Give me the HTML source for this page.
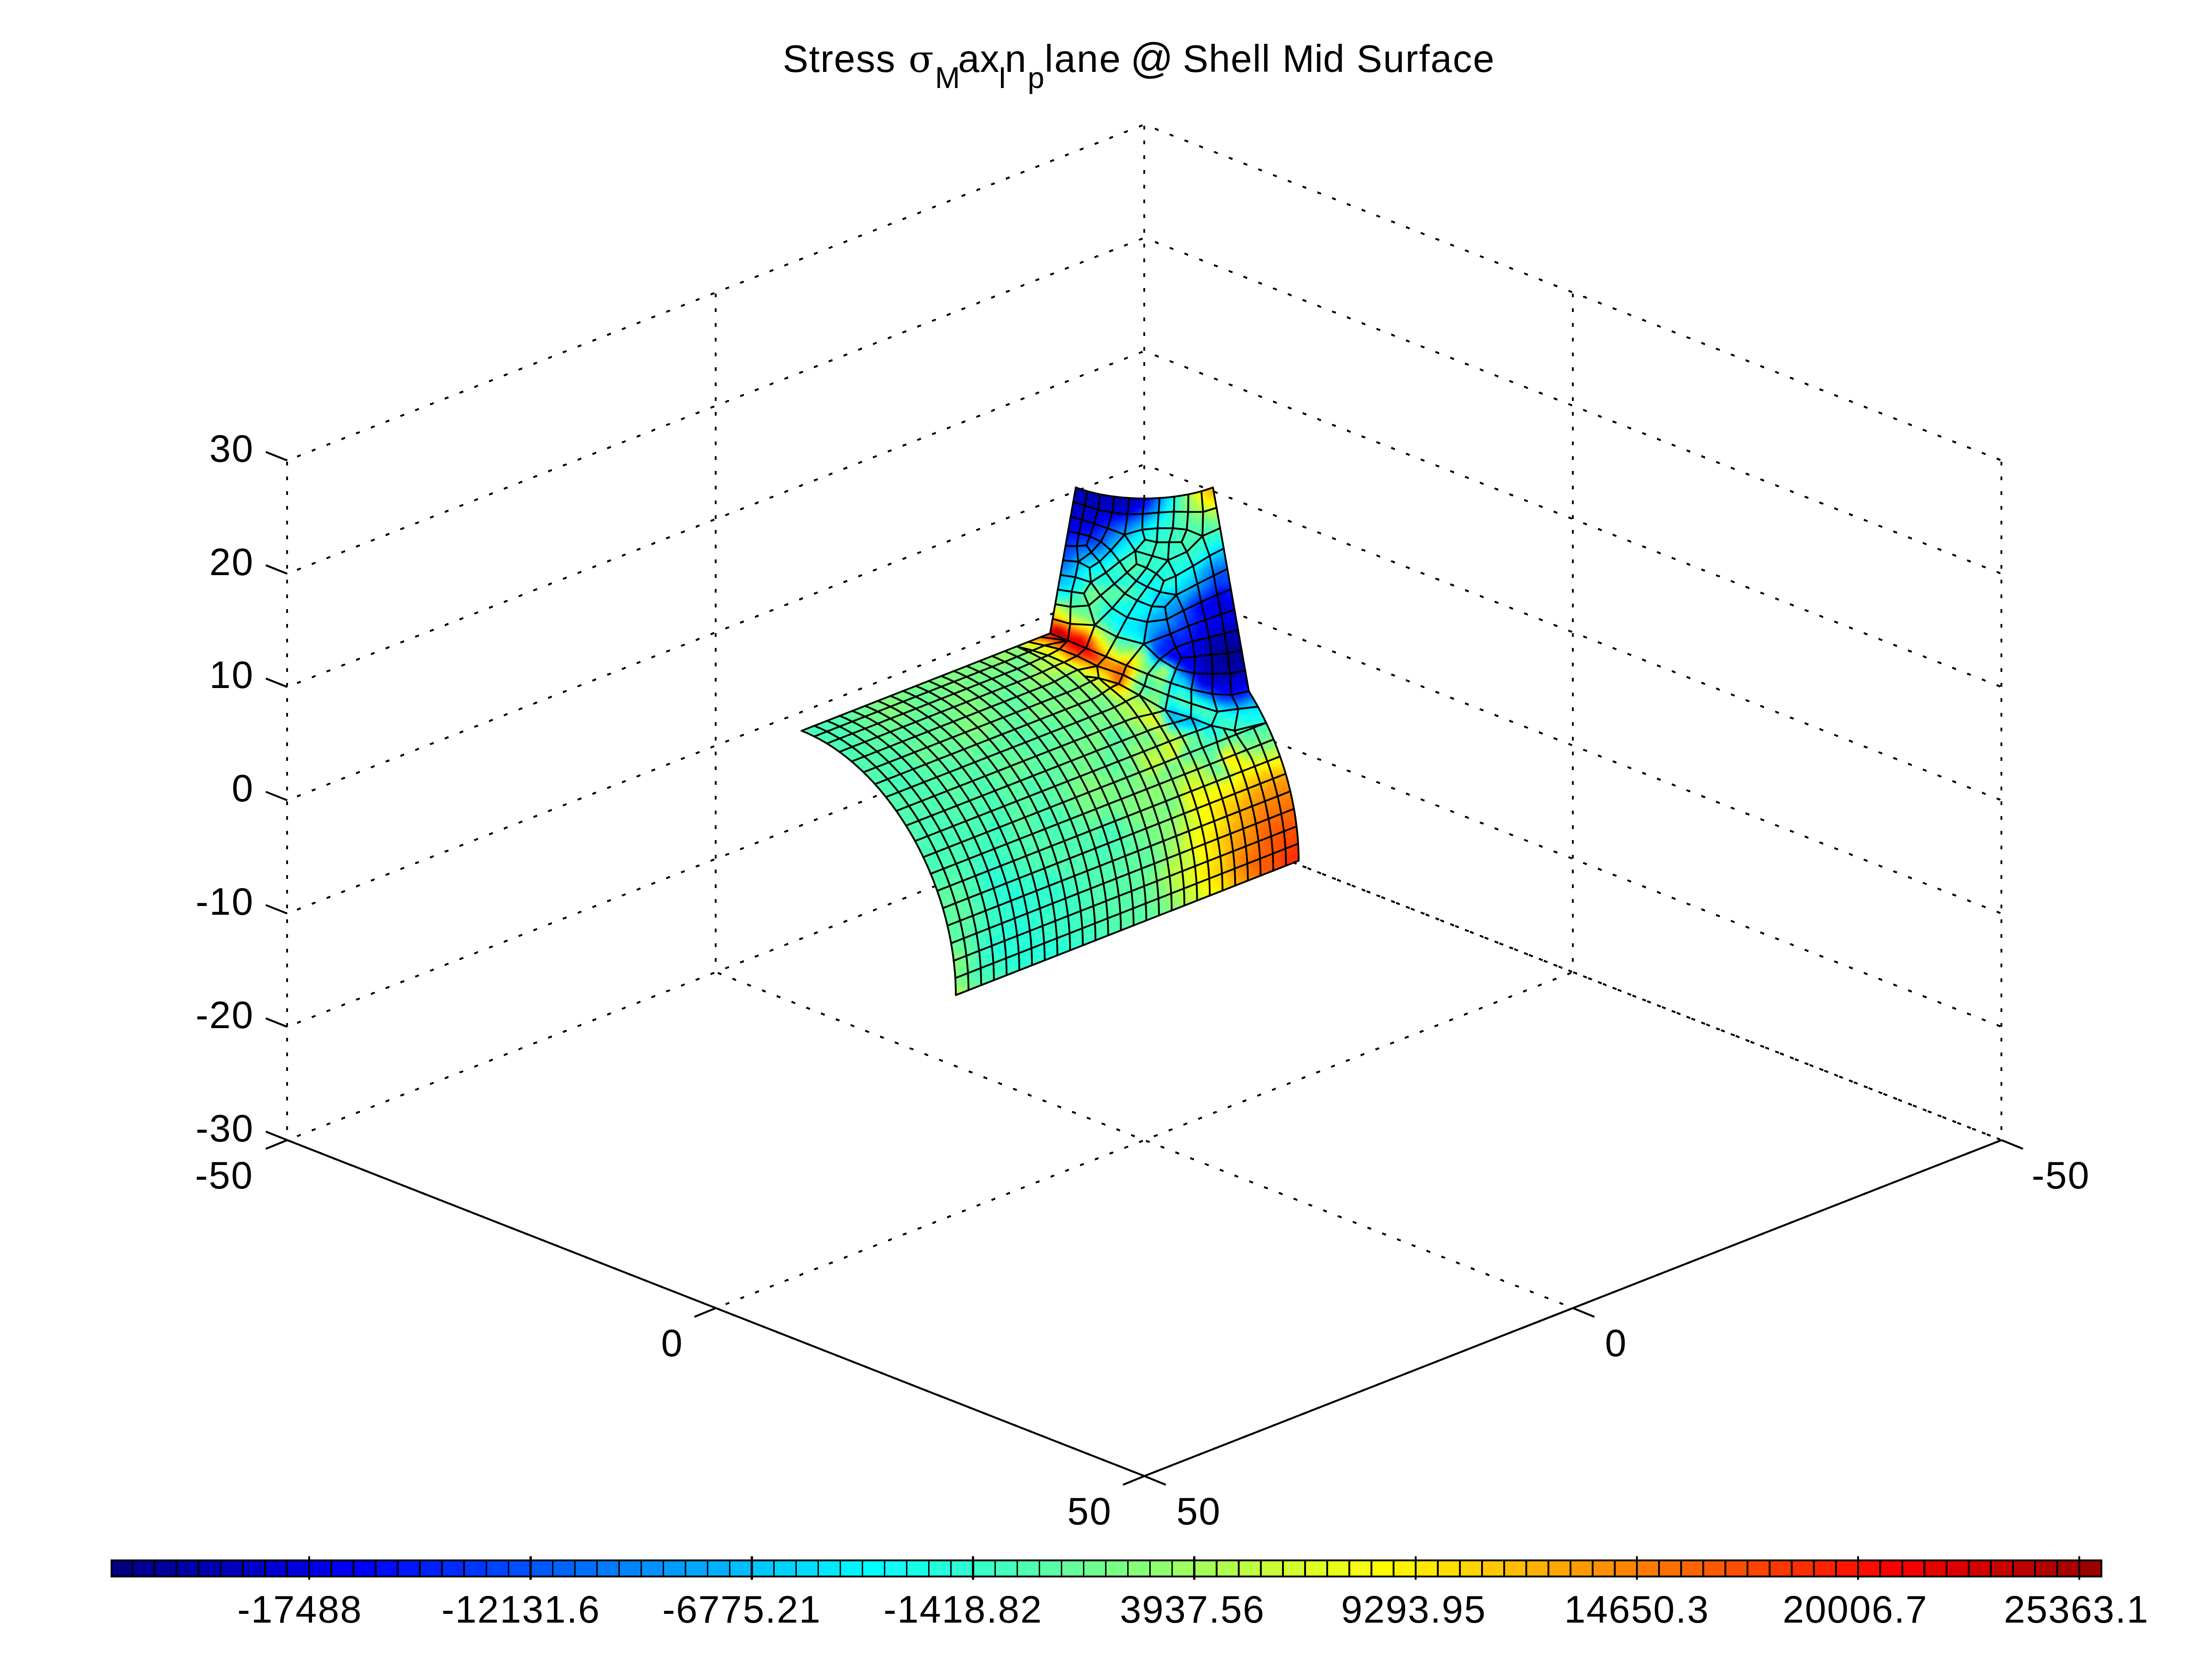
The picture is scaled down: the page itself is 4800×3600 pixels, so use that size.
<!DOCTYPE html><html><head><meta charset="utf-8"><title>Stress plot</title><style>html,body{margin:0;padding:0;background:#fff}svg{display:block}</style></head><body>
<svg width="4800" height="3600" viewBox="0 0 4800 3600">
<rect width="4800" height="3600" fill="#fff"/>
<g stroke="#000" stroke-width="4.2" fill="none" shape-rendering="crispEdges">
<line x1="2483.3" y1="1745.0" x2="623.3" y2="2474.0" stroke-dasharray="8.59 25.83" stroke-dashoffset="-4.30"/>
<line x1="4343.3" y1="2474.0" x2="2483.3" y2="1745.0" stroke-dasharray="8.59 25.83" stroke-dashoffset="-2.69"/>
<line x1="2483.3" y1="1499.2" x2="623.3" y2="2228.2" stroke-dasharray="8.59 25.83" stroke-dashoffset="-4.30"/>
<line x1="4343.3" y1="2228.2" x2="2483.3" y2="1499.2" stroke-dasharray="8.59 25.83" stroke-dashoffset="-2.69"/>
<line x1="2483.3" y1="1253.4" x2="623.3" y2="1982.4" stroke-dasharray="8.59 25.83" stroke-dashoffset="-4.30"/>
<line x1="4343.3" y1="1982.4" x2="2483.3" y2="1253.4" stroke-dasharray="8.59 25.83" stroke-dashoffset="-2.69"/>
<line x1="2483.3" y1="1007.6" x2="623.3" y2="1736.6" stroke-dasharray="8.59 25.83" stroke-dashoffset="-4.30"/>
<line x1="4343.3" y1="1736.6" x2="2483.3" y2="1007.6" stroke-dasharray="8.59 25.83" stroke-dashoffset="-2.69"/>
<line x1="2483.3" y1="761.8" x2="623.3" y2="1490.8" stroke-dasharray="8.59 25.83" stroke-dashoffset="-4.30"/>
<line x1="4343.3" y1="1490.8" x2="2483.3" y2="761.8" stroke-dasharray="8.59 25.83" stroke-dashoffset="-2.69"/>
<line x1="2483.3" y1="516.0" x2="623.3" y2="1245.0" stroke-dasharray="8.59 25.83" stroke-dashoffset="-4.30"/>
<line x1="4343.3" y1="1245.0" x2="2483.3" y2="516.0" stroke-dasharray="8.59 25.83" stroke-dashoffset="-2.69"/>
<line x1="2483.3" y1="270.2" x2="623.3" y2="999.2" stroke-dasharray="8.59 25.83" stroke-dashoffset="-4.30"/>
<line x1="4343.3" y1="999.2" x2="2483.3" y2="270.2" stroke-dasharray="8.59 25.83" stroke-dashoffset="-2.69"/>
<line x1="2483.3" y1="270.2" x2="2483.3" y2="1745.0" stroke-dasharray="8.00 24.05" stroke-dashoffset="-2.50"/>
<line x1="1553.3" y1="634.7" x2="1553.3" y2="2109.5" stroke-dasharray="8.00 24.05" stroke-dashoffset="-2.50"/>
<line x1="623.3" y1="999.2" x2="623.3" y2="2474.0" stroke-dasharray="8.00 24.05" stroke-dashoffset="-2.50"/>
<line x1="3413.3" y1="634.7" x2="3413.3" y2="2109.5" stroke-dasharray="8.00 24.05" stroke-dashoffset="-2.50"/>
<line x1="4343.3" y1="999.2" x2="4343.3" y2="2474.0" stroke-dasharray="8.00 24.05" stroke-dashoffset="-2.50"/>
<line x1="2483.3" y1="1745.0" x2="4343.3" y2="2474.0" stroke-dasharray="8.59 25.83" stroke-dashoffset="-1.61"/>
<line x1="1553.3" y1="2109.5" x2="3413.3" y2="2838.5" stroke-dasharray="8.59 25.83" stroke-dashoffset="-4.30"/>
<line x1="623.3" y1="2474.0" x2="2483.3" y2="3203.0" stroke-dasharray="8.59 25.83" stroke-dashoffset="-4.30"/>
<line x1="2483.3" y1="1745.0" x2="623.3" y2="2474.0" stroke-dasharray="8.59 25.83" stroke-dashoffset="-4.30"/>
<line x1="3413.3" y1="2109.5" x2="1553.3" y2="2838.5" stroke-dasharray="8.59 25.83" stroke-dashoffset="-4.30"/>
<line x1="4343.3" y1="2474.0" x2="2483.3" y2="3203.0" stroke-dasharray="8.59 25.83" stroke-dashoffset="-4.30"/>
</g>
<clipPath id="oc"><path d="M1739.3 1585.8L2278.7 1374.3L2279.6 1369.1L2280.6 1363.8L2281.5 1358.5L2282.4 1353.2L2283.4 1347.9L2284.3 1342.7L2285.2 1337.4L2286.1 1332.1L2287.1 1326.8L2288.0 1321.5L2288.9 1316.3L2289.9 1311.0L2290.8 1305.7L2291.7 1300.4L2292.7 1295.1L2293.6 1289.9L2294.5 1284.6L2295.4 1279.3L2296.4 1274.0L2297.3 1268.7L2298.2 1263.5L2299.2 1258.2L2300.1 1252.9L2301.0 1247.6L2302.0 1242.3L2302.9 1237.1L2303.8 1231.8L2304.7 1226.5L2305.7 1221.2L2306.6 1215.9L2307.5 1210.7L2308.5 1205.4L2309.4 1200.1L2310.3 1194.8L2311.2 1189.5L2312.2 1184.3L2313.1 1179.0L2314.0 1173.7L2315.0 1168.4L2315.9 1163.1L2316.8 1157.8L2317.8 1152.6L2318.7 1147.3L2319.6 1142.0L2320.6 1136.7L2321.5 1131.4L2322.4 1126.2L2323.3 1120.9L2324.3 1115.6L2325.2 1110.3L2326.1 1105.0L2327.1 1099.8L2328.0 1094.5L2328.9 1089.2L2329.9 1083.9L2330.8 1078.6L2331.7 1073.4L2332.6 1068.1L2333.6 1062.8L2334.5 1057.5L2338.4 1059.0L2342.5 1060.5L2346.6 1061.9L2350.9 1063.3L2355.2 1064.6L2359.6 1065.9L2364.1 1067.2L2368.7 1068.4L2373.3 1069.5L2378.1 1070.6L2382.9 1071.7L2387.8 1072.7L2392.7 1073.6L2397.7 1074.5L2402.8 1075.4L2407.9 1076.2L2413.1 1076.9L2418.3 1077.6L2423.5 1078.3L2428.8 1078.9L2434.2 1079.4L2439.5 1079.9L2445.0 1080.3L2450.4 1080.7L2455.8 1081.0L2461.3 1081.2L2466.8 1081.4L2472.3 1081.6L2477.8 1081.6L2483.3 1081.7L2488.8 1081.6L2494.3 1081.6L2499.8 1081.4L2505.3 1081.2L2510.8 1081.0L2516.2 1080.7L2521.6 1080.3L2527.1 1079.9L2532.4 1079.4L2537.8 1078.9L2543.1 1078.3L2548.3 1077.6L2553.5 1076.9L2558.7 1076.2L2563.8 1075.4L2568.9 1074.5L2573.9 1073.6L2578.8 1072.7L2583.7 1071.7L2588.5 1070.6L2593.3 1069.5L2597.9 1068.4L2602.5 1067.2L2607.0 1065.9L2611.4 1064.6L2615.7 1063.3L2620.0 1061.9L2624.1 1060.5L2628.2 1059.0L2632.1 1057.5L2633.4 1064.9L2634.7 1072.3L2636.0 1079.6L2637.3 1087.0L2638.6 1094.4L2639.9 1101.8L2641.2 1109.1L2642.5 1116.5L2643.8 1123.9L2645.1 1131.2L2646.4 1138.6L2647.7 1146.0L2649.0 1153.4L2650.3 1160.7L2651.6 1168.1L2652.9 1175.5L2654.2 1182.9L2655.5 1190.2L2656.8 1197.6L2658.1 1205.0L2659.4 1212.3L2660.7 1219.7L2662.0 1227.1L2663.3 1234.5L2664.6 1241.8L2665.9 1249.2L2667.2 1256.6L2668.5 1264.0L2669.8 1271.3L2671.1 1278.7L2672.4 1286.1L2673.7 1293.4L2675.0 1300.8L2676.2 1308.2L2677.5 1315.6L2678.8 1322.9L2680.1 1330.3L2681.4 1337.7L2682.7 1345.1L2684.0 1352.4L2685.3 1359.8L2686.6 1367.2L2687.9 1374.6L2689.2 1381.9L2690.5 1389.3L2691.8 1396.7L2693.1 1404.0L2694.4 1411.4L2695.7 1418.8L2697.0 1426.2L2698.3 1433.5L2699.6 1440.9L2700.9 1448.3L2702.2 1455.7L2703.5 1463.0L2704.8 1470.4L2706.1 1477.8L2707.4 1485.1L2708.7 1492.5L2710.0 1499.9L2713.4 1505.4L2716.7 1510.9L2720.0 1516.5L2723.2 1522.1L2726.4 1527.7L2729.6 1533.4L2732.7 1539.1L2735.7 1544.9L2738.7 1550.7L2741.7 1556.6L2744.6 1562.4L2747.5 1568.3L2750.3 1574.3L2753.0 1580.2L2755.8 1586.2L2758.4 1592.3L2761.0 1598.3L2763.6 1604.4L2766.1 1610.5L2768.5 1616.6L2770.9 1622.8L2773.2 1629.0L2775.5 1635.2L2777.7 1641.4L2779.9 1647.6L2782.0 1653.9L2784.1 1660.1L2786.1 1666.4L2788.0 1672.7L2789.9 1679.0L2791.7 1685.3L2793.5 1691.6L2795.2 1698.0L2796.8 1704.3L2798.4 1710.7L2800.0 1717.0L2801.4 1723.4L2802.8 1729.7L2804.2 1736.1L2805.5 1742.5L2806.7 1748.8L2807.9 1755.2L2809.0 1761.5L2810.0 1767.9L2811.0 1774.2L2811.9 1780.5L2812.7 1786.9L2813.5 1793.2L2814.3 1799.5L2814.9 1805.8L2815.5 1812.1L2816.1 1818.3L2816.5 1824.6L2817.0 1830.8L2817.3 1837.0L2817.6 1843.2L2817.8 1849.4L2818.0 1855.6L2818.1 1861.7L2818.1 1867.8L2074.1 2159.4L2074.0 2147.8L2073.6 2136.1L2073.1 2124.3L2072.3 2112.5L2071.2 2100.5L2070.0 2088.6L2068.5 2076.6L2066.8 2064.6L2064.8 2052.5L2062.7 2040.4L2060.3 2028.4L2057.7 2016.3L2054.9 2004.2L2051.9 1992.1L2048.6 1980.1L2045.2 1968.1L2041.5 1956.2L2037.6 1944.3L2033.5 1932.4L2029.2 1920.6L2024.8 1908.9L2020.1 1897.3L2015.2 1885.7L2010.2 1874.3L2004.9 1863.0L1999.5 1851.7L1993.9 1840.6L1988.1 1829.7L1982.2 1818.8L1976.0 1808.1L1969.8 1797.6L1963.3 1787.2L1956.7 1777.0L1950.0 1766.9L1943.1 1757.1L1936.1 1747.4L1928.9 1737.9L1921.6 1728.6L1914.2 1719.5L1906.7 1710.6L1899.1 1702.0L1891.3 1693.6L1883.4 1685.4L1875.5 1677.4L1867.4 1669.7L1859.3 1662.2L1851.1 1654.9L1842.8 1648.0L1834.4 1641.2L1826.0 1634.8L1817.5 1628.6L1808.9 1622.7L1800.3 1617.1L1791.7 1611.7L1783.0 1606.7L1774.3 1601.9L1765.6 1597.4L1756.8 1593.2L1748.1 1589.3Z"/></clipPath>
<filter id="bl" x="-5%" y="-5%" width="110%" height="110%"><feGaussianBlur stdDeviation="5"/></filter>
<g clip-path="url(#oc)"><g filter="url(#bl)" shape-rendering="crispEdges">
<path fill="#000097" d="M2323 1049h8v8h-8zM2651 1409h40v8h-40zM2651 1417h40v8h-40zM2651 1425h40v8h-40zM2651 1433h32v8h-32z"/>
<path fill="#00009f" d="M2331 1049h24v8h-24zM2323 1057h8v8h-8zM2659 1393h32v8h-32zM2651 1401h48v8h-48zM2643 1409h8v8h-8zM2691 1409h8v8h-8zM2635 1417h16v8h-16zM2691 1417h8v8h-8zM2635 1425h16v8h-16zM2691 1425h8v8h-8zM2635 1433h16v8h-16zM2683 1433h8v8h-8zM2643 1441h48v8h-48z"/>
<path fill="#0000a7" d="M2331 1057h56v8h-56zM2323 1065h8v8h-8zM2659 1385h40v8h-40zM2643 1393h16v8h-16zM2691 1393h16v8h-16zM2635 1401h16v8h-16zM2699 1401h8v8h-8zM2635 1409h8v8h-8zM2699 1409h8v8h-8zM2627 1417h8v8h-8zM2699 1417h8v8h-8zM2627 1425h8v8h-8zM2699 1425h8v8h-8zM2627 1433h8v8h-8zM2691 1433h16v8h-16zM2635 1441h8v8h-8zM2691 1441h8v8h-8zM2643 1449h40v8h-40z"/>
<path fill="#0000af" d="M2331 1065h120v8h-120zM2315 1073h16v8h-16zM2387 1073h64v8h-64zM2659 1377h40v8h-40zM2643 1385h16v8h-16zM2635 1393h8v8h-8zM2627 1401h8v8h-8zM2627 1409h8v8h-8zM2619 1425h8v8h-8zM2619 1433h8v8h-8zM2627 1441h8v8h-8zM2699 1441h8v8h-8zM2627 1449h16v8h-16zM2683 1449h16v8h-16zM2643 1457h40v8h-40z"/>
<path fill="#0000b7" d="M2451 1065h8v8h-8zM2331 1073h56v8h-56zM2451 1073h8v8h-8zM2315 1081h24v8h-24zM2355 1081h96v8h-96zM2403 1089h40v8h-40zM2667 1369h32v8h-32zM2651 1377h8v8h-8zM2635 1385h8v8h-8zM2627 1393h8v8h-8zM2619 1409h8v8h-8zM2619 1417h8v8h-8zM2707 1433h8v8h-8zM2619 1441h8v8h-8zM2707 1441h8v8h-8zM2619 1449h8v8h-8zM2699 1449h8v8h-8zM2627 1457h16v8h-16zM2683 1457h8v8h-8zM2667 1465h8v8h-8z"/>
<path fill="#0000bf" d="M2459 1073h8v8h-8zM2339 1081h16v8h-16zM2451 1081h8v8h-8zM2315 1089h88v8h-88zM2443 1089h8v8h-8zM2315 1097h8v8h-8zM2411 1097h24v8h-24zM2667 1361h32v8h-32zM2651 1369h16v8h-16zM2635 1377h16v8h-16zM2627 1385h8v8h-8zM2619 1393h8v8h-8zM2619 1401h8v8h-8zM2611 1417h8v8h-8zM2611 1425h8v8h-8zM2611 1433h8v8h-8zM2611 1441h8v8h-8zM2611 1449h8v8h-8zM2619 1457h8v8h-8zM2691 1457h8v8h-8zM2627 1465h40v8h-40zM2675 1465h16v8h-16z"/>
<path fill="#0000c7" d="M2459 1081h8v8h-8zM2451 1089h8v8h-8zM2323 1097h88v8h-88zM2435 1097h8v8h-8zM2315 1105h16v8h-16zM2339 1105h32v8h-32zM2683 1353h16v8h-16zM2659 1361h8v8h-8zM2643 1369h8v8h-8zM2627 1377h8v8h-8zM2619 1385h8v8h-8zM2611 1401h8v8h-8zM2611 1409h8v8h-8zM2707 1449h8v8h-8zM2611 1457h8v8h-8zM2699 1457h8v8h-8zM2619 1465h8v8h-8zM2691 1465h8v8h-8zM2659 1473h24v8h-24z"/>
<path fill="#0000cf" d="M2467 1073h8v8h-8zM2459 1089h8v8h-8zM2443 1097h8v8h-8zM2331 1105h8v8h-8zM2371 1105h64v8h-64zM2315 1113h56v8h-56zM2651 1313h8v8h-8zM2691 1345h8v8h-8zM2659 1353h24v8h-24zM2643 1361h16v8h-16zM2635 1369h8v8h-8zM2619 1377h8v8h-8zM2611 1393h8v8h-8zM2603 1409h8v8h-8zM2603 1417h8v8h-8zM2603 1425h8v8h-8zM2603 1433h8v8h-8zM2603 1441h8v8h-8zM2603 1449h8v8h-8zM2707 1457h8v8h-8zM2611 1465h8v8h-8zM2619 1473h40v8h-40zM2683 1473h8v8h-8z"/>
<path fill="#0000d7" d="M2467 1081h8v8h-8zM2451 1097h8v8h-8zM2435 1105h8v8h-8zM2371 1113h16v8h-16zM2307 1121h64v8h-64zM2643 1305h16v8h-16zM2643 1313h8v8h-8zM2659 1313h8v8h-8zM2651 1321h8v8h-8zM2667 1345h24v8h-24zM2651 1353h8v8h-8zM2635 1361h8v8h-8zM2627 1369h8v8h-8zM2611 1385h8v8h-8zM2603 1401h8v8h-8zM2595 1425h8v8h-8zM2595 1433h8v8h-8zM2595 1441h8v8h-8zM2603 1457h8v8h-8zM2699 1465h8v8h-8zM2611 1473h8v8h-8zM2691 1473h8v8h-8zM2659 1481h24v8h-24z"/>
<path fill="#0000df" d="M2475 1073h8v8h-8zM2467 1089h8v8h-8zM2387 1113h16v8h-16zM2371 1121h8v8h-8zM2307 1129h56v8h-56zM2635 1305h8v8h-8zM2659 1305h8v8h-8zM2635 1313h8v8h-8zM2667 1313h8v8h-8zM2643 1321h8v8h-8zM2659 1321h16v8h-16zM2651 1329h8v8h-8zM2675 1329h8v8h-8zM2659 1337h32v8h-32zM2651 1345h16v8h-16zM2635 1353h16v8h-16zM2627 1361h8v8h-8zM2619 1369h8v8h-8zM2611 1377h8v8h-8zM2603 1385h8v8h-8zM2603 1393h8v8h-8zM2595 1409h8v8h-8zM2595 1417h8v8h-8zM2595 1449h8v8h-8zM2603 1465h8v8h-8zM2707 1465h8v8h-8zM2699 1473h8v8h-8zM2627 1481h32v8h-32zM2683 1481h8v8h-8z"/>
<path fill="#0000e7" d="M2475 1081h8v8h-8zM2459 1097h8v8h-8zM2443 1105h8v8h-8zM2403 1113h24v8h-24zM2379 1121h8v8h-8zM2363 1129h8v8h-8zM2307 1137h16v8h-16zM2339 1137h24v8h-24zM2643 1297h16v8h-16zM2667 1305h8v8h-8zM2627 1313h8v8h-8zM2675 1313h8v8h-8zM2635 1321h8v8h-8zM2675 1321h16v8h-16zM2643 1329h8v8h-8zM2659 1329h16v8h-16zM2683 1329h8v8h-8zM2643 1337h16v8h-16zM2643 1345h8v8h-8zM2627 1353h8v8h-8zM2619 1361h8v8h-8zM2611 1369h8v8h-8zM2603 1377h8v8h-8zM2595 1393h8v8h-8zM2595 1401h8v8h-8zM2587 1417h8v8h-8zM2587 1425h8v8h-8zM2587 1433h8v8h-8zM2587 1441h8v8h-8zM2595 1457h8v8h-8zM2603 1473h8v8h-8zM2611 1481h16v8h-16zM2691 1481h8v8h-8zM2659 1489h24v8h-24z"/>
<path fill="#0000ef" d="M2483 1073h8v8h-8zM2451 1105h8v8h-8zM2427 1113h8v8h-8zM2387 1121h8v8h-8zM2371 1129h8v8h-8zM2323 1137h16v8h-16zM2363 1137h8v8h-8zM2307 1145h8v8h-8zM2635 1297h8v8h-8zM2627 1305h8v8h-8zM2675 1305h8v8h-8zM2619 1313h8v8h-8zM2683 1313h8v8h-8zM2627 1321h8v8h-8zM2635 1329h8v8h-8zM2635 1337h8v8h-8zM2627 1345h16v8h-16zM2619 1353h8v8h-8zM2611 1361h8v8h-8zM2603 1369h8v8h-8zM2595 1385h8v8h-8zM2587 1409h8v8h-8zM2539 1425h16v8h-16zM2579 1425h8v8h-8zM2579 1433h8v8h-8zM2587 1449h8v8h-8zM2707 1473h8v8h-8zM2699 1481h8v8h-8zM2643 1489h16v8h-16zM2683 1489h8v8h-8z"/>
<path fill="#0000f7" d="M2483 1081h8v8h-8zM2475 1089h8v8h-8zM2467 1097h8v8h-8zM2435 1113h8v8h-8zM2395 1121h8v8h-8zM2379 1129h8v8h-8zM2371 1137h8v8h-8zM2315 1145h48v8h-48zM2643 1289h8v8h-8zM2659 1297h16v8h-16zM2619 1305h8v8h-8zM2683 1305h8v8h-8zM2611 1313h8v8h-8zM2603 1321h24v8h-24zM2627 1329h8v8h-8zM2627 1337h8v8h-8zM2619 1345h8v8h-8zM2611 1353h8v8h-8zM2603 1361h8v8h-8zM2595 1369h8v8h-8zM2595 1377h8v8h-8zM2587 1393h8v8h-8zM2587 1401h8v8h-8zM2579 1409h8v8h-8zM2547 1417h40v8h-40zM2555 1425h24v8h-24zM2571 1433h8v8h-8zM2579 1441h8v8h-8zM2595 1465h8v8h-8zM2603 1481h8v8h-8zM2635 1489h8v8h-8zM2691 1489h8v8h-8zM2659 1497h24v8h-24z"/>
<path fill="#0000ff" d="M2459 1105h8v8h-8zM2443 1113h8v8h-8zM2403 1121h16v8h-16zM2387 1129h8v8h-8zM2363 1145h8v8h-8zM2307 1153h16v8h-16zM2643 1281h16v8h-16zM2635 1289h8v8h-8zM2651 1289h8v8h-8zM2627 1297h8v8h-8zM2675 1297h16v8h-16zM2603 1313h8v8h-8zM2595 1321h8v8h-8zM2603 1329h24v8h-24zM2611 1337h16v8h-16zM2611 1345h8v8h-8zM2603 1353h8v8h-8zM2595 1361h8v8h-8zM2587 1385h8v8h-8zM2579 1401h8v8h-8zM2571 1409h8v8h-8zM2539 1417h8v8h-8zM2563 1433h8v8h-8zM2571 1441h8v8h-8zM2579 1449h8v8h-8zM2707 1481h8v8h-8zM2627 1489h8v8h-8zM2651 1497h8v8h-8zM2683 1497h8v8h-8z"/>
<path fill="#0008ff" d="M2419 1121h8v8h-8zM2395 1129h8v8h-8zM2379 1137h8v8h-8zM2371 1145h8v8h-8zM2323 1153h32v8h-32zM2307 1161h8v8h-8zM2659 1289h8v8h-8zM2611 1305h8v8h-8zM2595 1313h8v8h-8zM2603 1337h8v8h-8zM2603 1345h8v8h-8zM2595 1353h8v8h-8zM2587 1369h8v8h-8zM2587 1377h8v8h-8zM2579 1393h8v8h-8zM2547 1409h24v8h-24zM2531 1417h8v8h-8zM2531 1425h8v8h-8zM2555 1433h8v8h-8zM2587 1457h8v8h-8zM2595 1473h8v8h-8zM2619 1489h8v8h-8zM2699 1489h8v8h-8zM2643 1497h8v8h-8zM2691 1497h8v8h-8z"/>
<path fill="#0010ff" d="M2491 1073h8v8h-8zM2483 1089h8v8h-8zM2475 1097h8v8h-8zM2451 1113h8v8h-8zM2427 1121h8v8h-8zM2387 1137h8v8h-8zM2355 1153h16v8h-16zM2315 1161h8v8h-8zM2651 1273h8v8h-8zM2635 1281h8v8h-8zM2659 1281h8v8h-8zM2627 1289h8v8h-8zM2667 1289h16v8h-16zM2619 1297h8v8h-8zM2603 1305h8v8h-8zM2595 1329h8v8h-8zM2595 1337h8v8h-8zM2595 1345h8v8h-8zM2587 1361h8v8h-8zM2579 1385h8v8h-8zM2547 1401h16v8h-16zM2571 1401h8v8h-8zM2539 1409h8v8h-8zM2563 1441h8v8h-8zM2571 1449h8v8h-8zM2715 1481h8v8h-8zM2611 1489h8v8h-8z"/>
<path fill="#0018ff" d="M2491 1081h8v8h-8zM2467 1105h8v8h-8zM2435 1121h8v8h-8zM2403 1129h8v8h-8zM2379 1145h8v8h-8zM2371 1153h8v8h-8zM2323 1161h16v8h-16zM2299 1169h16v8h-16zM2643 1273h8v8h-8zM2659 1273h8v8h-8zM2667 1281h16v8h-16zM2611 1297h8v8h-8zM2595 1305h8v8h-8zM2587 1313h8v8h-8zM2587 1321h8v8h-8zM2587 1353h8v8h-8zM2579 1369h8v8h-8zM2579 1377h8v8h-8zM2539 1385h8v8h-8zM2571 1385h8v8h-8zM2531 1393h32v8h-32zM2571 1393h8v8h-8zM2539 1401h8v8h-8zM2563 1401h8v8h-8zM2531 1409h8v8h-8zM2707 1489h8v8h-8zM2635 1497h8v8h-8zM2699 1497h8v8h-8zM2651 1505h40v8h-40z"/>
<path fill="#0020ff" d="M2459 1113h8v8h-8zM2411 1129h8v8h-8zM2395 1137h8v8h-8zM2339 1161h24v8h-24zM2315 1169h8v8h-8zM2299 1177h16v8h-16zM2667 1273h8v8h-8zM2587 1329h8v8h-8zM2587 1337h8v8h-8zM2587 1345h8v8h-8zM2579 1353h8v8h-8zM2579 1361h8v8h-8zM2571 1377h8v8h-8zM2531 1385h8v8h-8zM2547 1385h24v8h-24zM2563 1393h8v8h-8zM2523 1401h16v8h-16zM2515 1409h16v8h-16zM2523 1417h8v8h-8zM2547 1433h8v8h-8zM2579 1457h8v8h-8zM2587 1465h8v8h-8zM2595 1481h8v8h-8zM2603 1489h8v8h-8z"/>
<path fill="#0028ff" d="M2483 1097h8v8h-8zM2443 1121h8v8h-8zM2419 1129h8v8h-8zM2387 1145h8v8h-8zM2379 1153h8v8h-8zM2363 1161h8v8h-8zM2323 1169h16v8h-16zM2315 1177h8v8h-8zM2299 1185h8v8h-8zM2635 1273h8v8h-8zM2675 1273h8v8h-8zM2627 1281h8v8h-8zM2619 1289h8v8h-8zM2603 1297h8v8h-8zM2579 1345h8v8h-8zM2571 1361h8v8h-8zM2571 1369h8v8h-8zM2539 1377h32v8h-32zM2523 1393h8v8h-8zM2715 1489h8v8h-8zM2627 1497h8v8h-8zM2643 1505h8v8h-8zM2691 1505h8v8h-8z"/>
<path fill="#0030ff" d="M2491 1089h8v8h-8zM2475 1105h8v8h-8zM2427 1129h8v8h-8zM2403 1137h8v8h-8zM2395 1145h8v8h-8zM2371 1161h8v8h-8zM2339 1169h8v8h-8zM2323 1177h8v8h-8zM2307 1185h8v8h-8zM2659 1265h24v8h-24zM2587 1305h8v8h-8zM2579 1321h8v8h-8zM2579 1329h8v8h-8zM2579 1337h8v8h-8zM2571 1353h8v8h-8zM2563 1369h8v8h-8zM2531 1377h8v8h-8zM2523 1385h8v8h-8zM2515 1401h8v8h-8zM2515 1417h8v8h-8zM2555 1441h8v8h-8zM2563 1449h8v8h-8zM2707 1497h8v8h-8z"/>
<path fill="#0038ff" d="M2499 1073h8v8h-8zM2467 1113h8v8h-8zM2451 1121h8v8h-8zM2411 1137h8v8h-8zM2387 1153h8v8h-8zM2379 1161h8v8h-8zM2347 1169h24v8h-24zM2315 1185h8v8h-8zM2299 1193h8v8h-8zM2643 1265h16v8h-16zM2627 1273h8v8h-8zM2619 1281h8v8h-8zM2611 1289h8v8h-8zM2595 1297h8v8h-8zM2579 1313h8v8h-8zM2571 1345h8v8h-8zM2563 1361h8v8h-8zM2547 1369h16v8h-16zM2507 1409h8v8h-8zM2539 1433h8v8h-8zM2587 1473h8v8h-8zM2619 1497h8v8h-8zM2635 1505h8v8h-8zM2699 1505h8v8h-8zM2667 1513h8v8h-8z"/>
<path fill="#0040ff" d="M2499 1081h8v8h-8zM2435 1129h8v8h-8zM2403 1145h8v8h-8zM2371 1169h8v8h-8zM2331 1177h8v8h-8zM2323 1185h8v8h-8zM2307 1193h8v8h-8zM2643 1249h16v8h-16zM2643 1257h8v8h-8zM2659 1257h24v8h-24zM2635 1265h8v8h-8zM2571 1337h8v8h-8zM2563 1345h8v8h-8zM2563 1353h8v8h-8zM2555 1361h8v8h-8zM2539 1369h8v8h-8zM2523 1377h8v8h-8zM2515 1393h8v8h-8zM2507 1401h8v8h-8zM2523 1425h8v8h-8zM2571 1457h8v8h-8zM2715 1497h8v8h-8zM2651 1513h16v8h-16zM2675 1513h16v8h-16z"/>
<path fill="#0048ff" d="M2491 1097h8v8h-8zM2483 1105h8v8h-8zM2419 1137h8v8h-8zM2395 1153h8v8h-8zM2387 1161h8v8h-8zM2379 1169h8v8h-8zM2339 1177h8v8h-8zM2315 1193h8v8h-8zM2299 1201h8v8h-8zM2659 1249h16v8h-16zM2635 1257h8v8h-8zM2651 1257h8v8h-8zM2627 1265h8v8h-8zM2603 1289h8v8h-8zM2571 1329h8v8h-8zM2563 1337h8v8h-8zM2531 1369h8v8h-8zM2515 1385h8v8h-8zM2507 1417h8v8h-8zM2579 1465h8v8h-8zM2595 1489h8v8h-8zM2611 1497h8v8h-8zM2691 1513h8v8h-8z"/>
<path fill="#0050ff" d="M2499 1089h8v8h-8zM2459 1121h8v8h-8zM2443 1129h8v8h-8zM2427 1137h8v8h-8zM2411 1145h8v8h-8zM2347 1177h24v8h-24zM2331 1185h8v8h-8zM2307 1201h8v8h-8zM2643 1241h32v8h-32zM2635 1249h8v8h-8zM2619 1273h8v8h-8zM2611 1281h8v8h-8zM2587 1297h8v8h-8zM2579 1305h8v8h-8zM2571 1321h8v8h-8zM2555 1345h8v8h-8zM2555 1353h8v8h-8zM2547 1361h8v8h-8zM2515 1377h8v8h-8zM2587 1481h8v8h-8zM2627 1505h8v8h-8zM2707 1505h8v8h-8zM2643 1513h8v8h-8z"/>
<path fill="#0058ff" d="M2507 1065h8v8h-8zM2475 1113h8v8h-8zM2403 1153h8v8h-8zM2395 1161h8v8h-8zM2387 1169h8v8h-8zM2371 1177h8v8h-8zM2323 1193h8v8h-8zM2315 1201h8v8h-8zM2291 1209h16v8h-16zM2627 1257h8v8h-8zM2595 1289h8v8h-8zM2571 1313h8v8h-8zM2563 1329h8v8h-8zM2555 1337h8v8h-8zM2539 1361h8v8h-8zM2523 1369h8v8h-8zM2507 1393h8v8h-8zM2603 1497h8v8h-8z"/>
<path fill="#0060ff" d="M2507 1073h8v8h-8zM2467 1121h8v8h-8zM2451 1129h8v8h-8zM2435 1137h8v8h-8zM2419 1145h8v8h-8zM2379 1177h8v8h-8zM2339 1185h8v8h-8zM2307 1209h8v8h-8zM2651 1233h24v8h-24zM2635 1241h8v8h-8zM2627 1249h8v8h-8zM2619 1265h8v8h-8zM2611 1273h8v8h-8zM2603 1281h8v8h-8zM2563 1321h8v8h-8zM2547 1353h8v8h-8zM2531 1361h8v8h-8zM2507 1385h8v8h-8zM2499 1393h8v8h-8zM2499 1401h8v8h-8zM2547 1441h8v8h-8zM2555 1449h8v8h-8zM2715 1505h8v8h-8zM2699 1513h8v8h-8z"/>
<path fill="#0068ff" d="M2507 1081h8v8h-8zM2491 1105h8v8h-8zM2411 1153h8v8h-8zM2347 1185h16v8h-16zM2331 1193h8v8h-8zM2323 1201h8v8h-8zM2315 1209h8v8h-8zM2291 1217h16v8h-16zM2643 1233h8v8h-8zM2587 1289h8v8h-8zM2579 1297h8v8h-8zM2555 1329h8v8h-8zM2547 1337h8v8h-8zM2547 1345h8v8h-8zM2515 1369h8v8h-8zM2507 1377h8v8h-8zM2499 1409h8v8h-8zM2515 1425h8v8h-8zM2563 1457h8v8h-8zM2579 1473h8v8h-8zM2619 1505h8v8h-8zM2635 1513h8v8h-8z"/>
<path fill="#0070ff" d="M2499 1097h8v8h-8zM2483 1113h8v8h-8zM2443 1137h8v8h-8zM2427 1145h8v8h-8zM2403 1161h8v8h-8zM2395 1169h8v8h-8zM2387 1177h8v8h-8zM2363 1185h16v8h-16zM2307 1217h8v8h-8zM2659 1225h16v8h-16zM2635 1233h8v8h-8zM2627 1241h8v8h-8zM2619 1257h8v8h-8zM2595 1281h8v8h-8zM2571 1305h8v8h-8zM2539 1353h8v8h-8zM2523 1361h8v8h-8zM2499 1385h8v8h-8zM2531 1433h8v8h-8zM2723 1505h8v8h-8zM2659 1521h32v8h-32z"/>
<path fill="#0078ff" d="M2459 1129h8v8h-8zM2379 1185h8v8h-8zM2339 1193h8v8h-8zM2323 1209h8v8h-8zM2291 1225h16v8h-16zM2651 1225h8v8h-8zM2619 1249h8v8h-8zM2611 1265h8v8h-8zM2603 1273h8v8h-8zM2563 1313h8v8h-8zM2555 1321h8v8h-8zM2547 1329h8v8h-8zM2571 1465h8v8h-8zM2587 1489h8v8h-8zM2707 1513h8v8h-8zM2651 1521h8v8h-8z"/>
<path fill="#0080ff" d="M2507 1089h8v8h-8zM2475 1121h8v8h-8zM2435 1145h8v8h-8zM2419 1153h8v8h-8zM2411 1161h8v8h-8zM2403 1169h8v8h-8zM2395 1177h8v8h-8zM2331 1201h8v8h-8zM2315 1217h8v8h-8zM2307 1225h8v8h-8zM2643 1225h8v8h-8zM2627 1233h8v8h-8zM2579 1289h8v8h-8zM2539 1337h8v8h-8zM2539 1345h8v8h-8zM2531 1353h8v8h-8zM2515 1361h8v8h-8zM2507 1369h8v8h-8zM2499 1377h8v8h-8zM2499 1417h8v8h-8zM2595 1497h8v8h-8zM2611 1505h8v8h-8zM2691 1521h8v8h-8z"/>
<path fill="#0087ff" d="M2515 1065h8v8h-8zM2499 1105h8v8h-8zM2467 1129h8v8h-8zM2451 1137h8v8h-8zM2387 1185h8v8h-8zM2347 1193h32v8h-32zM2659 1217h16v8h-16zM2635 1225h8v8h-8zM2291 1233h8v8h-8zM2619 1241h8v8h-8zM2611 1257h8v8h-8zM2603 1265h8v8h-8zM2595 1273h8v8h-8zM2587 1281h8v8h-8zM2571 1297h8v8h-8zM2563 1305h8v8h-8zM2555 1313h8v8h-8zM2539 1329h8v8h-8zM2531 1345h8v8h-8zM2523 1353h8v8h-8zM2507 1425h8v8h-8zM2627 1513h8v8h-8zM2715 1513h8v8h-8zM2643 1521h8v8h-8z"/>
<path fill="#008fff" d="M2515 1073h8v8h-8zM2507 1097h8v8h-8zM2491 1113h8v8h-8zM2443 1145h8v8h-8zM2427 1153h8v8h-8zM2379 1193h8v8h-8zM2339 1201h8v8h-8zM2331 1209h8v8h-8zM2323 1217h8v8h-8zM2651 1217h8v8h-8zM2315 1225h8v8h-8zM2299 1233h8v8h-8zM2611 1249h8v8h-8zM2547 1321h8v8h-8zM2531 1337h8v8h-8zM2515 1353h8v8h-8zM2499 1369h8v8h-8zM2579 1481h8v8h-8zM2723 1513h8v8h-8zM2699 1521h8v8h-8z"/>
<path fill="#0097ff" d="M2515 1081h8v8h-8zM2483 1121h8v8h-8zM2459 1137h8v8h-8zM2419 1161h8v8h-8zM2411 1169h8v8h-8zM2403 1177h8v8h-8zM2395 1185h8v8h-8zM2643 1217h8v8h-8zM2627 1225h8v8h-8zM2307 1233h8v8h-8zM2619 1233h8v8h-8zM2291 1241h8v8h-8zM2611 1241h8v8h-8zM2603 1257h8v8h-8zM2563 1297h8v8h-8zM2555 1305h8v8h-8zM2539 1313h16v8h-16zM2539 1321h8v8h-8zM2531 1329h8v8h-8zM2523 1345h8v8h-8zM2507 1361h8v8h-8zM2491 1385h8v8h-8zM2491 1393h8v8h-8zM2555 1457h8v8h-8zM2603 1505h8v8h-8z"/>
<path fill="#009fff" d="M2475 1129h8v8h-8zM2435 1153h8v8h-8zM2387 1193h8v8h-8zM2347 1201h8v8h-8zM2651 1209h24v8h-24zM2635 1217h8v8h-8zM2323 1225h8v8h-8zM2315 1233h8v8h-8zM2299 1241h8v8h-8zM2595 1265h8v8h-8zM2587 1273h8v8h-8zM2579 1281h8v8h-8zM2571 1289h8v8h-8zM2547 1305h8v8h-8zM2531 1313h8v8h-8zM2531 1321h8v8h-8zM2523 1337h8v8h-8zM2515 1345h8v8h-8zM2507 1353h8v8h-8zM2499 1361h8v8h-8zM2491 1377h8v8h-8zM2547 1449h8v8h-8zM2571 1473h8v8h-8zM2635 1521h8v8h-8z"/>
<path fill="#00a7ff" d="M2515 1089h8v8h-8zM2451 1145h8v8h-8zM2427 1161h8v8h-8zM2419 1169h8v8h-8zM2355 1201h24v8h-24zM2339 1209h8v8h-8zM2643 1209h8v8h-8zM2331 1217h8v8h-8zM2619 1225h8v8h-8zM2611 1233h8v8h-8zM2307 1241h8v8h-8zM2291 1249h8v8h-8zM2603 1249h8v8h-8zM2555 1297h8v8h-8zM2539 1305h8v8h-8zM2523 1329h8v8h-8zM2507 1337h16v8h-16zM2507 1345h8v8h-8zM2499 1353h8v8h-8zM2491 1369h8v8h-8zM2491 1401h8v8h-8zM2539 1441h8v8h-8zM2563 1465h8v8h-8zM2619 1513h8v8h-8zM2707 1521h8v8h-8zM2667 1529h24v8h-24zM2539 1545h8v8h-8z"/>
<path fill="#00afff" d="M2523 1065h8v8h-8zM2507 1105h8v8h-8zM2499 1113h8v8h-8zM2491 1121h8v8h-8zM2467 1137h8v8h-8zM2443 1153h8v8h-8zM2411 1177h8v8h-8zM2403 1185h8v8h-8zM2395 1193h8v8h-8zM2379 1201h8v8h-8zM2627 1217h8v8h-8zM2323 1233h8v8h-8zM2315 1241h8v8h-8zM2603 1241h8v8h-8zM2595 1257h8v8h-8zM2587 1265h8v8h-8zM2563 1289h8v8h-8zM2547 1297h8v8h-8zM2531 1305h8v8h-8zM2523 1321h8v8h-8zM2515 1329h8v8h-8zM2499 1337h8v8h-8zM2499 1345h8v8h-8zM2491 1361h8v8h-8zM2523 1433h8v8h-8zM2579 1489h8v8h-8zM2587 1497h8v8h-8zM2715 1521h8v8h-8zM2659 1529h8v8h-8zM2691 1529h8v8h-8zM2587 1561h8v8h-8z"/>
<path fill="#00b7ff" d="M2523 1073h8v8h-8zM2515 1097h8v8h-8zM2459 1145h8v8h-8zM2435 1161h8v8h-8zM2651 1201h16v8h-16zM2347 1209h8v8h-8zM2635 1209h8v8h-8zM2339 1217h8v8h-8zM2331 1225h8v8h-8zM2299 1249h8v8h-8zM2595 1249h8v8h-8zM2579 1273h8v8h-8zM2571 1281h8v8h-8zM2555 1289h8v8h-8zM2539 1297h8v8h-8zM2523 1313h8v8h-8zM2507 1329h8v8h-8zM2491 1353h8v8h-8zM2499 1425h8v8h-8zM2595 1505h8v8h-8zM2723 1521h8v8h-8zM2651 1529h8v8h-8zM2555 1561h8v8h-8zM2579 1561h8v8h-8zM2595 1561h8v8h-8zM2587 1569h16v8h-16z"/>
<path fill="#00bfff" d="M2523 1081h8v8h-8zM2483 1129h8v8h-8zM2451 1153h8v8h-8zM2427 1169h8v8h-8zM2419 1177h8v8h-8zM2411 1185h8v8h-8zM2403 1193h8v8h-8zM2387 1201h8v8h-8zM2643 1201h8v8h-8zM2355 1209h16v8h-16zM2619 1217h8v8h-8zM2611 1225h8v8h-8zM2603 1233h8v8h-8zM2323 1241h8v8h-8zM2307 1249h8v8h-8zM2283 1257h8v8h-8zM2587 1257h8v8h-8zM2547 1289h8v8h-8zM2523 1305h8v8h-8zM2515 1321h8v8h-8zM2499 1329h8v8h-8zM2491 1345h8v8h-8zM2483 1361h8v8h-8zM2483 1369h8v8h-8zM2483 1377h8v8h-8zM2483 1385h8v8h-8zM2571 1481h8v8h-8zM2611 1513h8v8h-8zM2627 1521h8v8h-8zM2731 1521h8v8h-8zM2699 1529h8v8h-8zM2547 1545h8v8h-8zM2539 1553h8v8h-8zM2547 1561h8v8h-8zM2563 1561h16v8h-16z"/>
<path fill="#00c7ff" d="M2507 1113h8v8h-8zM2475 1137h8v8h-8zM2443 1161h8v8h-8zM2395 1201h8v8h-8zM2371 1209h8v8h-8zM2627 1209h8v8h-8zM2347 1217h8v8h-8zM2331 1233h8v8h-8zM2595 1241h8v8h-8zM2315 1249h8v8h-8zM2291 1257h16v8h-16zM2579 1265h8v8h-8zM2563 1281h8v8h-8zM2531 1297h8v8h-8zM2491 1337h8v8h-8zM2483 1353h8v8h-8zM2491 1409h8v8h-8zM2547 1457h8v8h-8zM2555 1465h8v8h-8zM2643 1529h8v8h-8zM2539 1537h8v8h-8zM2547 1553h16v8h-16zM2579 1569h8v8h-8z"/>
<path fill="#00cfff" d="M2523 1089h8v8h-8zM2515 1105h8v8h-8zM2499 1121h8v8h-8zM2467 1145h8v8h-8zM2435 1169h8v8h-8zM2427 1177h8v8h-8zM2651 1193h16v8h-16zM2635 1201h8v8h-8zM2379 1209h8v8h-8zM2339 1225h8v8h-8zM2323 1249h8v8h-8zM2587 1249h8v8h-8zM2307 1257h16v8h-16zM2579 1257h8v8h-8zM2283 1265h8v8h-8zM2571 1265h8v8h-8zM2571 1273h8v8h-8zM2555 1281h8v8h-8zM2507 1289h8v8h-8zM2539 1289h8v8h-8zM2515 1297h16v8h-16zM2515 1305h8v8h-8zM2515 1313h8v8h-8zM2507 1321h8v8h-8zM2491 1329h8v8h-8zM2483 1345h8v8h-8zM2475 1361h8v8h-8zM2515 1433h8v8h-8zM2547 1473h8v8h-8zM2563 1473h8v8h-8zM2707 1529h16v8h-16zM2563 1553h24v8h-24zM2571 1569h8v8h-8z"/>
<path fill="#00d7ff" d="M2531 1065h8v8h-8zM2491 1129h8v8h-8zM2483 1137h8v8h-8zM2459 1153h8v8h-8zM2451 1161h8v8h-8zM2419 1185h8v8h-8zM2411 1193h8v8h-8zM2643 1193h8v8h-8zM2403 1201h8v8h-8zM2387 1209h8v8h-8zM2619 1209h8v8h-8zM2355 1217h8v8h-8zM2611 1217h8v8h-8zM2603 1225h8v8h-8zM2595 1233h8v8h-8zM2331 1241h8v8h-8zM2571 1257h8v8h-8zM2291 1265h24v8h-24zM2563 1273h8v8h-8zM2547 1281h8v8h-8zM2515 1289h8v8h-8zM2531 1289h8v8h-8zM2507 1297h8v8h-8zM2507 1305h8v8h-8zM2507 1313h8v8h-8zM2499 1321h8v8h-8zM2483 1337h8v8h-8zM2475 1353h8v8h-8zM2475 1369h8v8h-8zM2483 1393h8v8h-8zM2547 1465h8v8h-8zM2555 1473h8v8h-8zM2579 1497h8v8h-8zM2603 1513h8v8h-8zM2723 1529h24v8h-24zM2547 1537h8v8h-8zM2667 1537h24v8h-24zM2531 1545h8v8h-8zM2587 1553h8v8h-8zM2539 1561h8v8h-8zM2563 1569h8v8h-8z"/>
<path fill="#00dfff" d="M2531 1073h8v8h-8zM2523 1097h8v8h-8zM2507 1121h8v8h-8zM2475 1145h8v8h-8zM2443 1169h8v8h-8zM2635 1193h8v8h-8zM2627 1201h8v8h-8zM2363 1217h16v8h-16zM2347 1225h8v8h-8zM2339 1233h8v8h-8zM2587 1241h8v8h-8zM2579 1249h8v8h-8zM2323 1257h8v8h-8zM2315 1265h8v8h-8zM2563 1265h8v8h-8zM2555 1273h8v8h-8zM2539 1281h8v8h-8zM2499 1289h8v8h-8zM2523 1289h8v8h-8zM2475 1345h8v8h-8zM2467 1353h8v8h-8zM2467 1361h8v8h-8zM2475 1377h8v8h-8zM2507 1433h8v8h-8zM2547 1481h8v8h-8zM2563 1481h8v8h-8zM2571 1489h8v8h-8zM2587 1505h8v8h-8zM2619 1521h8v8h-8zM2635 1529h8v8h-8zM2531 1537h8v8h-8zM2659 1537h8v8h-8zM2691 1537h8v8h-8zM2555 1545h8v8h-8zM2547 1569h16v8h-16zM2603 1569h8v8h-8z"/>
<path fill="#00e7ff" d="M2531 1081h8v8h-8zM2515 1113h8v8h-8zM2499 1129h8v8h-8zM2467 1153h8v8h-8zM2459 1161h8v8h-8zM2435 1177h8v8h-8zM2427 1185h8v8h-8zM2651 1185h16v8h-16zM2419 1193h8v8h-8zM2411 1201h8v8h-8zM2395 1209h8v8h-8zM2379 1217h8v8h-8zM2355 1225h8v8h-8zM2595 1225h8v8h-8zM2331 1249h8v8h-8zM2563 1257h8v8h-8zM2291 1273h24v8h-24zM2507 1281h8v8h-8zM2499 1297h8v8h-8zM2499 1305h8v8h-8zM2499 1313h8v8h-8zM2491 1321h8v8h-8zM2483 1329h8v8h-8zM2475 1337h8v8h-8zM2467 1345h8v8h-8zM2459 1353h8v8h-8zM2459 1361h8v8h-8zM2467 1369h8v8h-8zM2491 1417h8v8h-8zM2539 1473h8v8h-8zM2555 1481h8v8h-8zM2699 1537h16v8h-16zM2563 1545h8v8h-8zM2531 1553h8v8h-8z"/>
<path fill="#00efff" d="M2523 1105h8v8h-8zM2491 1137h8v8h-8zM2483 1145h8v8h-8zM2451 1169h8v8h-8zM2643 1185h8v8h-8zM2627 1193h8v8h-8zM2619 1201h8v8h-8zM2611 1209h8v8h-8zM2387 1217h8v8h-8zM2603 1217h8v8h-8zM2363 1225h8v8h-8zM2347 1233h8v8h-8zM2587 1233h8v8h-8zM2339 1241h8v8h-8zM2579 1241h8v8h-8zM2571 1249h8v8h-8zM2331 1257h8v8h-8zM2323 1265h8v8h-8zM2555 1265h8v8h-8zM2315 1273h8v8h-8zM2547 1273h8v8h-8zM2499 1281h8v8h-8zM2515 1281h24v8h-24zM2491 1313h8v8h-8zM2467 1337h8v8h-8zM2427 1345h40v8h-40zM2435 1353h24v8h-24zM2451 1361h8v8h-8zM2459 1369h8v8h-8zM2475 1385h8v8h-8zM2595 1513h8v8h-8zM2539 1529h8v8h-8zM2651 1537h8v8h-8zM2715 1537h32v8h-32zM2571 1545h8v8h-8zM2595 1553h8v8h-8zM2611 1569h8v8h-8zM2587 1577h8v8h-8z"/>
<path fill="#00f7ff" d="M2531 1089h8v8h-8zM2515 1121h8v8h-8zM2507 1129h8v8h-8zM2475 1153h8v8h-8zM2467 1161h8v8h-8zM2443 1177h8v8h-8zM2435 1185h8v8h-8zM2635 1185h8v8h-8zM2403 1209h8v8h-8zM2371 1225h8v8h-8zM2339 1249h8v8h-8zM2283 1273h8v8h-8zM2539 1273h8v8h-8zM2299 1281h16v8h-16zM2467 1313h24v8h-24zM2483 1321h8v8h-8zM2475 1329h8v8h-8zM2435 1337h32v8h-32zM2427 1353h8v8h-8zM2435 1361h16v8h-16zM2467 1377h8v8h-8zM2483 1401h8v8h-8zM2499 1433h8v8h-8zM2539 1449h8v8h-8zM2539 1481h8v8h-8zM2611 1521h8v8h-8zM2627 1529h8v8h-8zM2555 1537h8v8h-8zM2579 1545h8v8h-8zM2603 1561h8v8h-8zM2579 1577h8v8h-8zM2595 1577h8v8h-8zM2611 1577h16v8h-16z"/>
<path fill="#00ffff" d="M2539 1065h8v8h-8zM2531 1097h8v8h-8zM2523 1113h8v8h-8zM2499 1137h8v8h-8zM2459 1169h8v8h-8zM2643 1177h24v8h-24zM2627 1185h8v8h-8zM2427 1193h8v8h-8zM2619 1193h8v8h-8zM2419 1201h8v8h-8zM2611 1201h8v8h-8zM2411 1209h8v8h-8zM2395 1217h8v8h-8zM2595 1217h8v8h-8zM2379 1225h8v8h-8zM2587 1225h8v8h-8zM2355 1233h16v8h-16zM2579 1233h8v8h-8zM2347 1241h8v8h-8zM2571 1241h8v8h-8zM2563 1249h8v8h-8zM2339 1257h8v8h-8zM2555 1257h8v8h-8zM2331 1265h8v8h-8zM2547 1265h8v8h-8zM2323 1273h8v8h-8zM2291 1281h8v8h-8zM2491 1281h8v8h-8zM2491 1289h8v8h-8zM2467 1305h32v8h-32zM2459 1321h24v8h-24zM2443 1329h32v8h-32zM2427 1337h8v8h-8zM2419 1345h8v8h-8zM2443 1369h16v8h-16zM2539 1465h8v8h-8zM2547 1489h8v8h-8zM2563 1489h8v8h-8zM2571 1497h8v8h-8zM2579 1505h8v8h-8zM2531 1529h8v8h-8zM2547 1529h8v8h-8zM2643 1537h8v8h-8zM2587 1545h8v8h-8zM2667 1545h72v8h-72zM2539 1569h8v8h-8zM2619 1569h8v8h-8zM2571 1577h8v8h-8z"/>
<path fill="#08fff7" d="M2539 1073h8v8h-8zM2531 1105h8v8h-8zM2515 1129h8v8h-8zM2507 1137h8v8h-8zM2491 1145h8v8h-8zM2483 1153h8v8h-8zM2475 1161h8v8h-8zM2451 1177h8v8h-8zM2635 1177h8v8h-8zM2443 1185h8v8h-8zM2603 1209h8v8h-8zM2387 1225h8v8h-8zM2371 1233h8v8h-8zM2571 1233h8v8h-8zM2355 1241h8v8h-8zM2563 1241h8v8h-8zM2347 1249h8v8h-8zM2555 1249h8v8h-8zM2475 1265h16v8h-16zM2491 1273h32v8h-32zM2531 1273h8v8h-8zM2315 1281h8v8h-8zM2491 1297h8v8h-8zM2459 1313h8v8h-8zM2443 1321h16v8h-16zM2427 1329h16v8h-16zM2419 1337h8v8h-8zM2419 1353h8v8h-8zM2427 1361h8v8h-8zM2459 1377h8v8h-8zM2531 1441h8v8h-8zM2539 1489h8v8h-8zM2555 1489h8v8h-8zM2587 1513h8v8h-8zM2603 1521h8v8h-8zM2563 1537h8v8h-8zM2635 1537h8v8h-8zM2659 1545h8v8h-8zM2739 1545h16v8h-16zM2715 1553h16v8h-16zM2603 1577h8v8h-8z"/>
<path fill="#10ffef" d="M2539 1081h8v8h-8zM2539 1089h8v8h-8zM2523 1121h8v8h-8zM2499 1145h8v8h-8zM2467 1169h8v8h-8zM2651 1169h16v8h-16zM2459 1177h8v8h-8zM2627 1177h8v8h-8zM2619 1185h8v8h-8zM2435 1193h8v8h-8zM2611 1193h8v8h-8zM2427 1201h8v8h-8zM2419 1209h8v8h-8zM2403 1217h8v8h-8zM2587 1217h8v8h-8zM2395 1225h8v8h-8zM2579 1225h8v8h-8zM2379 1233h8v8h-8zM2563 1233h8v8h-8zM2363 1241h8v8h-8zM2555 1241h8v8h-8zM2475 1257h40v8h-40zM2547 1257h8v8h-8zM2339 1265h8v8h-8zM2467 1265h8v8h-8zM2491 1265h24v8h-24zM2331 1273h8v8h-8zM2483 1273h8v8h-8zM2523 1273h8v8h-8zM2283 1281h8v8h-8zM2483 1281h8v8h-8zM2299 1289h8v8h-8zM2483 1289h8v8h-8zM2467 1297h24v8h-24zM2459 1305h8v8h-8zM2427 1313h32v8h-32zM2435 1321h8v8h-8zM2411 1329h16v8h-16zM2411 1337h8v8h-8zM2411 1345h8v8h-8zM2435 1369h8v8h-8zM2451 1377h8v8h-8zM2467 1385h8v8h-8zM2475 1393h8v8h-8zM2491 1425h8v8h-8zM2539 1457h8v8h-8zM2539 1497h8v8h-8zM2539 1521h8v8h-8zM2619 1529h8v8h-8zM2571 1537h8v8h-8zM2651 1545h8v8h-8zM2699 1553h16v8h-16zM2731 1553h8v8h-8zM2531 1561h8v8h-8zM2611 1561h8v8h-8zM2627 1569h8v8h-8zM2563 1577h8v8h-8zM2627 1577h8v8h-8zM2619 1585h8v8h-8z"/>
<path fill="#18ffe7" d="M2539 1097h8v8h-8zM2531 1113h8v8h-8zM2523 1129h8v8h-8zM2515 1137h8v8h-8zM2507 1145h8v8h-8zM2491 1153h8v8h-8zM2483 1161h8v8h-8zM2475 1169h8v8h-8zM2643 1169h8v8h-8zM2467 1177h8v8h-8zM2451 1185h8v8h-8zM2443 1193h8v8h-8zM2603 1201h8v8h-8zM2595 1209h8v8h-8zM2411 1217h8v8h-8zM2579 1217h8v8h-8zM2563 1225h16v8h-16zM2387 1233h8v8h-8zM2539 1233h24v8h-24zM2371 1241h24v8h-24zM2547 1241h8v8h-8zM2355 1249h8v8h-8zM2483 1249h32v8h-32zM2547 1249h8v8h-8zM2347 1257h8v8h-8zM2419 1257h16v8h-16zM2467 1257h8v8h-8zM2515 1257h8v8h-8zM2515 1265h8v8h-8zM2539 1265h8v8h-8zM2475 1273h8v8h-8zM2323 1281h8v8h-8zM2307 1289h8v8h-8zM2427 1305h32v8h-32zM2419 1313h8v8h-8zM2419 1321h16v8h-16zM2403 1329h8v8h-8zM2403 1337h8v8h-8zM2427 1369h8v8h-8zM2443 1377h8v8h-8zM2547 1497h8v8h-8zM2531 1521h8v8h-8zM2595 1521h8v8h-8zM2579 1537h8v8h-8zM2643 1545h8v8h-8zM2603 1553h8v8h-8zM2667 1553h32v8h-32zM2739 1553h16v8h-16zM2619 1561h8v8h-8zM2707 1561h24v8h-24zM2627 1585h8v8h-8z"/>
<path fill="#20ffdf" d="M2539 1105h8v8h-8zM2531 1121h8v8h-8zM2523 1137h8v8h-8zM2515 1145h8v8h-8zM2499 1153h8v8h-8zM2627 1169h16v8h-16zM2619 1177h8v8h-8zM2459 1185h8v8h-8zM2611 1185h8v8h-8zM2603 1193h8v8h-8zM2435 1201h8v8h-8zM2427 1209h8v8h-8zM2587 1209h8v8h-8zM2419 1217h8v8h-8zM2555 1217h24v8h-24zM2403 1225h8v8h-8zM2531 1225h32v8h-32zM2395 1233h8v8h-8zM2523 1233h16v8h-16zM2395 1241h8v8h-8zM2491 1241h56v8h-56zM2363 1249h72v8h-72zM2475 1249h8v8h-8zM2515 1249h8v8h-8zM2539 1249h8v8h-8zM2355 1257h8v8h-8zM2387 1257h32v8h-32zM2435 1257h8v8h-8zM2459 1257h8v8h-8zM2539 1257h8v8h-8zM2347 1265h8v8h-8zM2427 1265h8v8h-8zM2459 1265h8v8h-8zM2467 1273h8v8h-8zM2291 1289h8v8h-8zM2315 1289h8v8h-8zM2475 1289h8v8h-8zM2459 1297h8v8h-8zM2403 1321h16v8h-16zM2395 1329h8v8h-8zM2403 1345h8v8h-8zM2411 1353h8v8h-8zM2419 1361h8v8h-8zM2435 1377h8v8h-8zM2459 1385h8v8h-8zM2563 1497h8v8h-8zM2539 1505h8v8h-8zM2539 1513h8v8h-8zM2579 1513h8v8h-8zM2547 1521h8v8h-8zM2555 1529h8v8h-8zM2523 1537h8v8h-8zM2587 1537h8v8h-8zM2627 1537h8v8h-8zM2595 1545h8v8h-8zM2635 1545h8v8h-8zM2659 1553h8v8h-8zM2627 1561h8v8h-8zM2683 1561h24v8h-24zM2731 1561h8v8h-8zM2635 1569h8v8h-8zM2635 1577h8v8h-8zM2611 1585h8v8h-8zM2635 1585h8v8h-8zM2187 2041h8v8h-8z"/>
<path fill="#28ffd7" d="M2547 1065h8v8h-8zM2547 1073h8v8h-8zM2547 1081h8v8h-8zM2539 1113h8v8h-8zM2531 1129h8v8h-8zM2523 1145h8v8h-8zM2507 1153h24v8h-24zM2491 1161h16v8h-16zM2643 1161h24v8h-24zM2483 1169h8v8h-8zM2619 1169h8v8h-8zM2475 1177h8v8h-8zM2611 1177h8v8h-8zM2467 1185h8v8h-8zM2603 1185h8v8h-8zM2451 1193h16v8h-16zM2443 1201h8v8h-8zM2595 1201h8v8h-8zM2539 1209h48v8h-48zM2523 1217h32v8h-32zM2411 1225h8v8h-8zM2515 1225h16v8h-16zM2403 1233h8v8h-8zM2491 1233h32v8h-32zM2403 1241h32v8h-32zM2483 1241h8v8h-8zM2435 1249h8v8h-8zM2467 1249h8v8h-8zM2523 1249h16v8h-16zM2363 1257h8v8h-8zM2379 1257h8v8h-8zM2443 1257h8v8h-8zM2523 1257h8v8h-8zM2419 1265h8v8h-8zM2523 1265h16v8h-16zM2339 1273h8v8h-8zM2331 1281h8v8h-8zM2475 1281h8v8h-8zM2467 1289h8v8h-8zM2451 1297h8v8h-8zM2419 1305h8v8h-8zM2411 1313h8v8h-8zM2395 1321h8v8h-8zM2395 1337h8v8h-8zM2451 1385h8v8h-8zM2483 1409h8v8h-8zM2507 1441h8v8h-8zM2531 1481h8v8h-8zM2531 1489h8v8h-8zM2531 1497h8v8h-8zM2555 1497h8v8h-8zM2531 1505h8v8h-8zM2547 1505h8v8h-8zM2571 1505h8v8h-8zM2531 1513h8v8h-8zM2587 1521h8v8h-8zM2611 1529h8v8h-8zM2523 1545h8v8h-8zM2635 1553h24v8h-24zM2635 1561h8v8h-8zM2667 1561h16v8h-16zM2739 1561h8v8h-8zM2547 1577h16v8h-16zM2643 1577h8v8h-8zM2619 1593h16v8h-16zM2163 1897h8v8h-8zM2155 1905h32v8h-32zM2155 1913h40v8h-40zM2155 1921h40v8h-40zM2163 1929h48v8h-48zM2171 1937h48v8h-48zM2179 1945h48v8h-48zM2187 1953h48v8h-48zM2187 1961h40v8h-40zM2195 1969h32v8h-32zM2195 1977h32v8h-32zM2195 1985h32v8h-32zM2187 1993h40v8h-40zM2187 2001h48v8h-48zM2179 2009h56v8h-56zM2171 2017h64v8h-64zM2163 2025h80v8h-80zM2155 2033h96v8h-96zM2155 2041h32v8h-32zM2195 2041h72v8h-72zM2283 2041h16v8h-16zM2155 2049h160v8h-160zM2155 2057h160v8h-160zM2163 2065h160v8h-160zM2171 2073h144v8h-144zM2187 2081h112v8h-112zM2211 2089h64v8h-64zM2243 2097h16v8h-16z"/>
<path fill="#30ffcf" d="M2547 1089h8v8h-8zM2539 1121h8v8h-8zM2531 1137h8v8h-8zM2531 1145h8v8h-8zM2531 1153h8v8h-8zM2507 1161h32v8h-32zM2627 1161h16v8h-16zM2491 1169h40v8h-40zM2611 1169h8v8h-8zM2483 1177h16v8h-16zM2603 1177h8v8h-8zM2475 1185h16v8h-16zM2467 1193h16v8h-16zM2595 1193h8v8h-8zM2451 1201h8v8h-8zM2523 1201h72v8h-72zM2435 1209h8v8h-8zM2515 1209h24v8h-24zM2427 1217h8v8h-8zM2499 1217h24v8h-24zM2419 1225h8v8h-8zM2491 1225h24v8h-24zM2411 1233h16v8h-16zM2483 1233h8v8h-8zM2475 1241h8v8h-8zM2443 1249h8v8h-8zM2459 1249h8v8h-8zM2371 1257h8v8h-8zM2451 1257h8v8h-8zM2531 1257h8v8h-8zM2355 1265h8v8h-8zM2387 1265h32v8h-32zM2435 1265h24v8h-24zM2459 1273h8v8h-8zM2467 1281h8v8h-8zM2283 1289h8v8h-8zM2323 1289h8v8h-8zM2459 1289h8v8h-8zM2435 1297h16v8h-16zM2403 1313h8v8h-8zM2387 1329h8v8h-8zM2387 1337h8v8h-8zM2395 1345h8v8h-8zM2419 1369h8v8h-8zM2427 1377h8v8h-8zM2443 1385h8v8h-8zM2467 1393h8v8h-8zM2491 1433h8v8h-8zM2499 1441h8v8h-8zM2531 1473h8v8h-8zM2547 1513h8v8h-8zM2579 1521h8v8h-8zM2523 1529h8v8h-8zM2563 1529h48v8h-48zM2619 1537h8v8h-8zM2627 1545h8v8h-8zM2611 1553h24v8h-24zM2643 1561h24v8h-24zM2747 1561h16v8h-16zM2643 1569h88v8h-88zM2651 1577h8v8h-8zM2579 1585h16v8h-16zM2643 1585h8v8h-8zM2635 1593h8v8h-8zM2147 1881h32v8h-32zM2139 1889h48v8h-48zM2139 1897h24v8h-24zM2171 1897h32v8h-32zM2139 1905h16v8h-16zM2187 1905h24v8h-24zM2139 1913h16v8h-16zM2195 1913h96v8h-96zM2139 1921h16v8h-16zM2195 1921h104v8h-104zM2147 1929h16v8h-16zM2211 1929h88v8h-88zM2147 1937h24v8h-24zM2219 1937h80v8h-80zM2155 1945h24v8h-24zM2227 1945h72v8h-72zM2155 1953h32v8h-32zM2235 1953h64v8h-64zM2163 1961h24v8h-24zM2227 1961h64v8h-64zM2163 1969h32v8h-32zM2227 1969h56v8h-56zM2163 1977h32v8h-32zM2227 1977h48v8h-48zM2163 1985h32v8h-32zM2227 1985h48v8h-48zM2163 1993h24v8h-24zM2227 1993h40v8h-40zM2163 2001h24v8h-24zM2235 2001h32v8h-32zM2155 2009h24v8h-24zM2235 2009h32v8h-32zM2155 2017h16v8h-16zM2235 2017h32v8h-32zM2147 2025h16v8h-16zM2243 2025h32v8h-32zM2299 2025h8v8h-8zM2147 2033h8v8h-8zM2251 2033h72v8h-72zM2147 2041h8v8h-8zM2267 2041h16v8h-16zM2299 2041h32v8h-32zM2147 2049h8v8h-8zM2315 2049h24v8h-24zM2147 2057h8v8h-8zM2315 2057h24v8h-24zM2147 2065h16v8h-16zM2323 2065h16v8h-16zM2147 2073h24v8h-24zM2155 2081h32v8h-32zM2163 2089h48v8h-48zM2187 2097h56v8h-56zM2203 2105h32v8h-32z"/>
<path fill="#38ffc7" d="M2547 1097h8v8h-8zM2547 1105h8v8h-8zM2539 1129h8v8h-8zM2539 1137h8v8h-8zM2539 1145h8v8h-8zM2539 1153h8v8h-8zM2539 1161h8v8h-8zM2619 1161h8v8h-8zM2531 1169h16v8h-16zM2603 1169h8v8h-8zM2499 1177h56v8h-56zM2595 1177h8v8h-8zM2491 1185h72v8h-72zM2587 1185h16v8h-16zM2483 1193h112v8h-112zM2459 1201h64v8h-64zM2443 1209h8v8h-8zM2475 1209h40v8h-40zM2435 1217h8v8h-8zM2483 1217h16v8h-16zM2427 1225h8v8h-8zM2483 1225h8v8h-8zM2427 1233h8v8h-8zM2475 1233h8v8h-8zM2435 1241h8v8h-8zM2467 1241h8v8h-8zM2451 1249h8v8h-8zM2379 1265h8v8h-8zM2347 1273h8v8h-8zM2451 1273h8v8h-8zM2339 1281h8v8h-8zM2459 1281h8v8h-8zM2331 1289h8v8h-8zM2451 1289h8v8h-8zM2427 1297h8v8h-8zM2395 1313h8v8h-8zM2387 1321h8v8h-8zM2403 1353h8v8h-8zM2411 1361h8v8h-8zM2435 1385h8v8h-8zM2475 1401h8v8h-8zM2555 1505h16v8h-16zM2571 1513h8v8h-8zM2523 1521h8v8h-8zM2595 1537h8v8h-8zM2603 1545h8v8h-8zM2619 1545h8v8h-8zM2531 1569h8v8h-8zM2731 1569h8v8h-8zM2539 1577h8v8h-8zM2659 1577h16v8h-16zM2651 1585h8v8h-8zM2643 1593h8v8h-8zM2619 1601h16v8h-16zM2155 1849h8v8h-8zM2139 1857h40v8h-40zM2131 1865h56v8h-56zM2131 1873h64v8h-64zM2123 1881h24v8h-24zM2179 1881h24v8h-24zM2123 1889h16v8h-16zM2187 1889h24v8h-24zM2123 1897h16v8h-16zM2203 1897h88v8h-88zM2123 1905h16v8h-16zM2211 1905h88v8h-88zM2131 1913h8v8h-8zM2291 1913h16v8h-16zM2131 1921h8v8h-8zM2299 1921h16v8h-16zM2131 1929h16v8h-16zM2299 1929h24v8h-24zM2139 1937h8v8h-8zM2299 1937h24v8h-24zM2139 1945h16v8h-16zM2299 1945h24v8h-24zM2139 1953h16v8h-16zM2299 1953h24v8h-24zM2147 1961h16v8h-16zM2291 1961h32v8h-32zM2147 1969h16v8h-16zM2283 1969h40v8h-40zM2147 1977h16v8h-16zM2275 1977h48v8h-48zM2147 1985h16v8h-16zM2275 1985h48v8h-48zM2147 1993h16v8h-16zM2267 1993h56v8h-56zM2147 2001h16v8h-16zM2267 2001h64v8h-64zM2139 2009h16v8h-16zM2267 2009h72v8h-72zM2139 2017h16v8h-16zM2267 2017h80v8h-80zM2139 2025h8v8h-8zM2275 2025h24v8h-24zM2307 2025h48v8h-48zM2131 2033h16v8h-16zM2323 2033h40v8h-40zM2131 2041h16v8h-16zM2331 2041h40v8h-40zM2131 2049h16v8h-16zM2339 2049h24v8h-24zM2131 2057h16v8h-16zM2339 2057h16v8h-16zM2131 2065h16v8h-16zM2139 2073h8v8h-8zM2139 2081h16v8h-16zM2139 2089h24v8h-24zM2155 2097h32v8h-32zM2171 2105h32v8h-32zM2187 2113h32v8h-32z"/>
<path fill="#40ffbf" d="M2547 1113h8v8h-8zM2547 1121h8v8h-8zM2547 1129h8v8h-8zM2547 1137h8v8h-8zM2547 1145h8v8h-8zM2547 1153h8v8h-8zM2619 1153h40v8h-40zM2547 1161h8v8h-8zM2603 1161h16v8h-16zM2547 1169h16v8h-16zM2587 1169h16v8h-16zM2555 1177h40v8h-40zM2563 1185h24v8h-24zM2451 1209h24v8h-24zM2443 1217h8v8h-8zM2467 1217h16v8h-16zM2435 1225h8v8h-8zM2475 1225h8v8h-8zM2435 1233h8v8h-8zM2467 1233h8v8h-8zM2443 1241h8v8h-8zM2363 1265h16v8h-16zM2443 1273h8v8h-8zM2451 1281h8v8h-8zM2443 1289h8v8h-8zM2299 1297h32v8h-32zM2387 1305h32v8h-32zM2387 1313h8v8h-8zM2459 1393h8v8h-8zM2515 1441h8v8h-8zM2523 1513h8v8h-8zM2555 1521h8v8h-8zM2571 1521h8v8h-8zM2611 1537h8v8h-8zM2523 1553h8v8h-8zM2739 1569h24v8h-24zM2675 1577h16v8h-16zM2571 1585h8v8h-8zM2595 1585h8v8h-8zM2659 1585h8v8h-8zM2611 1593h8v8h-8zM2635 1601h8v8h-8zM2147 1777h24v8h-24zM2147 1785h32v8h-32zM2139 1793h40v8h-40zM2139 1801h40v8h-40zM2139 1809h40v8h-40zM2131 1817h56v8h-56zM2131 1825h56v8h-56zM2123 1833h64v8h-64zM2115 1841h72v8h-72zM2107 1849h48v8h-48zM2163 1849h32v8h-32zM2107 1857h32v8h-32zM2179 1857h16v8h-16zM2107 1865h24v8h-24zM2187 1865h16v8h-16zM2107 1873h24v8h-24zM2195 1873h16v8h-16zM2107 1881h16v8h-16zM2203 1881h24v8h-24zM2107 1889h16v8h-16zM2211 1889h80v8h-80zM2115 1897h8v8h-8zM2291 1897h16v8h-16zM2115 1905h8v8h-8zM2299 1905h24v8h-24zM2115 1913h16v8h-16zM2307 1913h32v8h-32zM2115 1921h16v8h-16zM2315 1921h24v8h-24zM2123 1929h8v8h-8zM2323 1929h24v8h-24zM2123 1937h16v8h-16zM2323 1937h24v8h-24zM2123 1945h16v8h-16zM2323 1945h32v8h-32zM2131 1953h8v8h-8zM2323 1953h32v8h-32zM2131 1961h16v8h-16zM2323 1961h32v8h-32zM2131 1969h16v8h-16zM2323 1969h32v8h-32zM2131 1977h16v8h-16zM2323 1977h32v8h-32zM2139 1985h8v8h-8zM2323 1985h32v8h-32zM2131 1993h16v8h-16zM2323 1993h40v8h-40zM2131 2001h16v8h-16zM2331 2001h32v8h-32zM2131 2009h8v8h-8zM2339 2009h32v8h-32zM2131 2017h8v8h-8zM2347 2017h24v8h-24zM2123 2025h16v8h-16zM2355 2025h24v8h-24zM2123 2033h8v8h-8zM2363 2033h24v8h-24zM2123 2041h8v8h-8zM2371 2041h24v8h-24zM2123 2049h8v8h-8zM2363 2049h16v8h-16zM2123 2057h8v8h-8zM2123 2065h8v8h-8zM2123 2073h16v8h-16zM2123 2081h16v8h-16zM2123 2089h16v8h-16zM2131 2097h24v8h-24zM2131 2105h40v8h-40zM2155 2113h32v8h-32zM2179 2121h16v8h-16z"/>
<path fill="#48ffb7" d="M2555 1065h8v8h-8zM2555 1073h8v8h-8zM2555 1081h8v8h-8zM2555 1089h8v8h-8zM2555 1097h8v8h-8zM2555 1129h8v8h-8zM2555 1137h8v8h-8zM2555 1145h8v8h-8zM2555 1153h16v8h-16zM2595 1153h24v8h-24zM2555 1161h48v8h-48zM2563 1169h24v8h-24zM2451 1217h16v8h-16zM2443 1225h8v8h-8zM2467 1225h8v8h-8zM2443 1233h8v8h-8zM2451 1241h16v8h-16zM2355 1273h8v8h-8zM2395 1273h32v8h-32zM2347 1281h8v8h-8zM2443 1281h8v8h-8zM2339 1289h8v8h-8zM2435 1289h8v8h-8zM2291 1297h8v8h-8zM2331 1297h8v8h-8zM2387 1297h16v8h-16zM2419 1297h8v8h-8zM2379 1329h8v8h-8zM2379 1337h8v8h-8zM2387 1345h8v8h-8zM2411 1369h8v8h-8zM2419 1377h8v8h-8zM2427 1385h8v8h-8zM2451 1393h8v8h-8zM2531 1465h8v8h-8zM2523 1505h8v8h-8zM2555 1513h16v8h-16zM2563 1521h8v8h-8zM2603 1537h8v8h-8zM2611 1545h8v8h-8zM1771 1561h8v8h-8zM1739 1569h64v8h-64zM1731 1577h88v8h-88zM2691 1577h40v8h-40zM1731 1585h96v8h-96zM2603 1585h8v8h-8zM2667 1585h16v8h-16zM1739 1593h96v8h-96zM2651 1593h8v8h-8zM1755 1601h80v8h-80zM2611 1601h8v8h-8zM2643 1601h8v8h-8zM1771 1609h72v8h-72zM2619 1609h16v8h-16zM1787 1617h56v8h-56zM1795 1625h48v8h-48zM1811 1633h40v8h-40zM1819 1641h32v8h-32zM1827 1649h24v8h-24zM1843 1657h16v8h-16zM1851 1665h8v8h-8zM1931 1673h40v8h-40zM1915 1681h64v8h-64zM1915 1689h72v8h-72zM1915 1697h64v8h-64zM1931 1705h40v8h-40zM2131 1729h24v8h-24zM2131 1737h32v8h-32zM2131 1745h32v8h-32zM2123 1753h48v8h-48zM2123 1761h56v8h-56zM2259 1761h24v8h-24zM2019 1769h40v8h-40zM2123 1769h56v8h-56zM2251 1769h40v8h-40zM2011 1777h64v8h-64zM2115 1777h32v8h-32zM2171 1777h16v8h-16zM2251 1777h48v8h-48zM2003 1785h88v8h-88zM2107 1785h40v8h-40zM2179 1785h8v8h-8zM2251 1785h56v8h-56zM1995 1793h144v8h-144zM2179 1793h16v8h-16zM2259 1793h48v8h-48zM2403 1793h16v8h-16zM1987 1801h152v8h-152zM2179 1801h16v8h-16zM2259 1801h48v8h-48zM2395 1801h24v8h-24zM1987 1809h152v8h-152zM2179 1809h16v8h-16zM2267 1809h32v8h-32zM2387 1809h32v8h-32zM1979 1817h152v8h-152zM2187 1817h16v8h-16zM2387 1817h40v8h-40zM1979 1825h152v8h-152zM2187 1825h16v8h-16zM2379 1825h40v8h-40zM1979 1833h144v8h-144zM2187 1833h24v8h-24zM2379 1833h40v8h-40zM1979 1841h136v8h-136zM2187 1841h24v8h-24zM2371 1841h40v8h-40zM1987 1849h120v8h-120zM2195 1849h24v8h-24zM2371 1849h32v8h-32zM1987 1857h120v8h-120zM2195 1857h24v8h-24zM2371 1857h24v8h-24zM1995 1865h112v8h-112zM2203 1865h40v8h-40zM2379 1865h8v8h-8zM1995 1873h112v8h-112zM2211 1873h72v8h-72zM2003 1881h40v8h-40zM2083 1881h24v8h-24zM2227 1881h72v8h-72zM2011 1889h16v8h-16zM2091 1889h16v8h-16zM2291 1889h64v8h-64zM2091 1897h24v8h-24zM2307 1897h56v8h-56zM2099 1905h16v8h-16zM2323 1905h48v8h-48zM2099 1913h16v8h-16zM2339 1913h32v8h-32zM2107 1921h8v8h-8zM2339 1921h32v8h-32zM2107 1929h16v8h-16zM2347 1929h32v8h-32zM2115 1937h8v8h-8zM2347 1937h32v8h-32zM2115 1945h8v8h-8zM2355 1945h24v8h-24zM2115 1953h16v8h-16zM2355 1953h24v8h-24zM2123 1961h8v8h-8zM2355 1961h24v8h-24zM2123 1969h8v8h-8zM2355 1969h24v8h-24zM2123 1977h8v8h-8zM2355 1977h24v8h-24zM2123 1985h16v8h-16zM2355 1985h32v8h-32zM2123 1993h8v8h-8zM2363 1993h24v8h-24zM2123 2001h8v8h-8zM2363 2001h24v8h-24zM2123 2009h8v8h-8zM2371 2009h24v8h-24zM2115 2017h16v8h-16zM2371 2017h32v8h-32zM2115 2025h8v8h-8zM2379 2025h40v8h-40zM2115 2033h8v8h-8zM2387 2033h32v8h-32zM2115 2041h8v8h-8zM2115 2049h8v8h-8zM2115 2057h8v8h-8zM2115 2065h8v8h-8zM2115 2073h8v8h-8zM2115 2081h8v8h-8zM2115 2089h8v8h-8zM2115 2097h16v8h-16zM2115 2105h16v8h-16zM2123 2113h32v8h-32zM2123 2121h56v8h-56z"/>
<path fill="#50ffaf" d="M2555 1105h8v8h-8zM2555 1113h8v8h-8zM2555 1121h8v8h-8zM2563 1137h8v8h-8zM2563 1145h88v8h-88zM2571 1153h24v8h-24zM2451 1225h16v8h-16zM2451 1233h16v8h-16zM2427 1273h16v8h-16zM2427 1289h8v8h-8zM2339 1297h8v8h-8zM2403 1297h8v8h-8zM2331 1305h16v8h-16zM2339 1313h8v8h-8zM2379 1313h8v8h-8zM2379 1321h8v8h-8zM2395 1353h8v8h-8zM2403 1361h8v8h-8zM2435 1393h16v8h-16zM2491 1441h8v8h-8zM2523 1441h8v8h-8zM2475 1481h24v8h-24zM2483 1489h16v8h-16zM2523 1497h8v8h-8zM1779 1553h40v8h-40zM1763 1561h8v8h-8zM1779 1561h56v8h-56zM1803 1569h40v8h-40zM1819 1577h32v8h-32zM2731 1577h32v8h-32zM1827 1585h24v8h-24zM2563 1585h8v8h-8zM2683 1585h8v8h-8zM2707 1585h8v8h-8zM1835 1593h24v8h-24zM2211 1593h16v8h-16zM2587 1593h8v8h-8zM2603 1593h8v8h-8zM2659 1593h16v8h-16zM1835 1601h32v8h-32zM2211 1601h24v8h-24zM2603 1601h8v8h-8zM1843 1609h32v8h-32zM2611 1609h8v8h-8zM2635 1609h8v8h-8zM1843 1617h40v8h-40zM2611 1617h24v8h-24zM1843 1625h56v8h-56zM2619 1625h8v8h-8zM1851 1633h88v8h-88zM1851 1641h104v8h-104zM1851 1649h112v8h-112zM1859 1657h120v8h-120zM1859 1665h136v8h-136zM1859 1673h72v8h-72zM1971 1673h32v8h-32zM1867 1681h48v8h-48zM1979 1681h40v8h-40zM1875 1689h40v8h-40zM1987 1689h48v8h-48zM2107 1689h40v8h-40zM2227 1689h32v8h-32zM1883 1697h32v8h-32zM1979 1697h64v8h-64zM2099 1697h56v8h-56zM2219 1697h40v8h-40zM1891 1705h40v8h-40zM1971 1705h72v8h-72zM2099 1705h72v8h-72zM2219 1705h40v8h-40zM1899 1713h144v8h-144zM2099 1713h80v8h-80zM2227 1713h32v8h-32zM1907 1721h144v8h-144zM2091 1721h88v8h-88zM2235 1721h32v8h-32zM1907 1729h160v8h-160zM2083 1729h48v8h-48zM2155 1729h32v8h-32zM2243 1729h24v8h-24zM1915 1737h216v8h-216zM2163 1737h24v8h-24zM2243 1737h32v8h-32zM1923 1745h208v8h-208zM2163 1745h24v8h-24zM2243 1745h48v8h-48zM1931 1753h192v8h-192zM2171 1753h24v8h-24zM2243 1753h56v8h-56zM1931 1761h192v8h-192zM2179 1761h16v8h-16zM2243 1761h16v8h-16zM2283 1761h24v8h-24zM1939 1769h80v8h-80zM2059 1769h64v8h-64zM2179 1769h16v8h-16zM2235 1769h16v8h-16zM2291 1769h24v8h-24zM1947 1777h64v8h-64zM2075 1777h40v8h-40zM2187 1777h8v8h-8zM2235 1777h16v8h-16zM2299 1777h24v8h-24zM1947 1785h56v8h-56zM2091 1785h16v8h-16zM2187 1785h16v8h-16zM2235 1785h16v8h-16zM2307 1785h16v8h-16zM2395 1785h32v8h-32zM1955 1793h40v8h-40zM2195 1793h8v8h-8zM2235 1793h24v8h-24zM2307 1793h24v8h-24zM2387 1793h16v8h-16zM2419 1793h16v8h-16zM1963 1801h24v8h-24zM2195 1801h16v8h-16zM2235 1801h24v8h-24zM2307 1801h32v8h-32zM2379 1801h16v8h-16zM2419 1801h16v8h-16zM1963 1809h24v8h-24zM2195 1809h72v8h-72zM2299 1809h88v8h-88zM2419 1809h16v8h-16zM1971 1817h8v8h-8zM2203 1817h184v8h-184zM2427 1817h8v8h-8zM1971 1825h8v8h-8zM2203 1825h176v8h-176zM2419 1825h24v8h-24zM2211 1833h168v8h-168zM2419 1833h16v8h-16zM2211 1841h160v8h-160zM2411 1841h24v8h-24zM2219 1849h88v8h-88zM2315 1849h56v8h-56zM2403 1849h32v8h-32zM2219 1857h80v8h-80zM2315 1857h56v8h-56zM2395 1857h32v8h-32zM2243 1865h136v8h-136zM2387 1865h40v8h-40zM2283 1873h136v8h-136zM2043 1881h40v8h-40zM2299 1881h120v8h-120zM2003 1889h8v8h-8zM2027 1889h64v8h-64zM2355 1889h64v8h-64zM2011 1897h80v8h-80zM2363 1897h48v8h-48zM2011 1905h40v8h-40zM2083 1905h16v8h-16zM2371 1905h40v8h-40zM2019 1913h24v8h-24zM2083 1913h16v8h-16zM2371 1913h40v8h-40zM2019 1921h8v8h-8zM2091 1921h16v8h-16zM2371 1921h40v8h-40zM2099 1929h8v8h-8zM2379 1929h40v8h-40zM2099 1937h16v8h-16zM2379 1937h40v8h-40zM2099 1945h16v8h-16zM2379 1945h40v8h-40zM2107 1953h8v8h-8zM2379 1953h40v8h-40zM2107 1961h16v8h-16zM2379 1961h40v8h-40zM2107 1969h16v8h-16zM2379 1969h40v8h-40zM2107 1977h16v8h-16zM2379 1977h40v8h-40zM2107 1985h16v8h-16zM2387 1985h32v8h-32zM2107 1993h16v8h-16zM2387 1993h40v8h-40zM2107 2001h16v8h-16zM2387 2001h48v8h-48zM2107 2009h16v8h-16zM2395 2009h48v8h-48zM2107 2017h8v8h-8zM2403 2017h48v8h-48zM2107 2025h8v8h-8zM2419 2025h24v8h-24zM2107 2033h8v8h-8zM2107 2041h8v8h-8zM2107 2049h8v8h-8zM2107 2057h8v8h-8zM2115 2113h8v8h-8zM2115 2121h8v8h-8zM2131 2129h40v8h-40z"/>
<path fill="#58ffa7" d="M2563 1121h8v8h-8zM2563 1129h16v8h-16zM2571 1137h56v8h-56zM2651 1145h8v8h-8zM2363 1273h32v8h-32zM2355 1281h8v8h-8zM2395 1281h48v8h-48zM2347 1289h8v8h-8zM2387 1289h24v8h-24zM2419 1289h8v8h-8zM2283 1297h8v8h-8zM2347 1297h8v8h-8zM2379 1297h8v8h-8zM2411 1297h8v8h-8zM2323 1305h8v8h-8zM2347 1305h8v8h-8zM2379 1305h8v8h-8zM2331 1313h8v8h-8zM2347 1313h8v8h-8zM2371 1321h8v8h-8zM2371 1329h8v8h-8zM2419 1385h8v8h-8zM2483 1417h8v8h-8zM2499 1449h8v8h-8zM2483 1473h8v8h-8zM2475 1489h8v8h-8zM2499 1489h8v8h-8zM2491 1497h8v8h-8zM1819 1537h8v8h-8zM1803 1545h32v8h-32zM1819 1553h32v8h-32zM1835 1561h24v8h-24zM1843 1569h16v8h-16zM1851 1577h16v8h-16zM1851 1585h24v8h-24zM1963 1585h32v8h-32zM2195 1585h40v8h-40zM2411 1585h8v8h-8zM2691 1585h16v8h-16zM2715 1585h16v8h-16zM2747 1585h24v8h-24zM1859 1593h32v8h-32zM1955 1593h32v8h-32zM2187 1593h24v8h-24zM2227 1593h40v8h-40zM2403 1593h24v8h-24zM2579 1593h8v8h-8zM2595 1593h8v8h-8zM2675 1593h8v8h-8zM1867 1601h40v8h-40zM1931 1601h48v8h-48zM2187 1601h24v8h-24zM2235 1601h32v8h-32zM2411 1601h24v8h-24zM2595 1601h8v8h-8zM2651 1601h8v8h-8zM1875 1609h96v8h-96zM2187 1609h80v8h-80zM2411 1609h16v8h-16zM2595 1609h16v8h-16zM1883 1617h88v8h-88zM2195 1617h72v8h-72zM2411 1617h16v8h-16zM2603 1617h8v8h-8zM1899 1625h72v8h-72zM2219 1625h40v8h-40zM2571 1625h16v8h-16zM2611 1625h8v8h-8zM2627 1625h8v8h-8zM1939 1633h32v8h-32zM2243 1633h8v8h-8zM2571 1633h16v8h-16zM2619 1633h16v8h-16zM1955 1641h24v8h-24zM1963 1649h24v8h-24zM2043 1649h104v8h-104zM1979 1657h32v8h-32zM2027 1657h120v8h-120zM2243 1657h16v8h-16zM1995 1665h160v8h-160zM2235 1665h40v8h-40zM2003 1673h160v8h-160zM2219 1673h64v8h-64zM2019 1681h144v8h-144zM2211 1681h80v8h-80zM2035 1689h72v8h-72zM2147 1689h32v8h-32zM2203 1689h24v8h-24zM2259 1689h32v8h-32zM2043 1697h56v8h-56zM2155 1697h64v8h-64zM2259 1697h32v8h-32zM2043 1705h56v8h-56zM2171 1705h48v8h-48zM2259 1705h32v8h-32zM2043 1713h56v8h-56zM2179 1713h48v8h-48zM2259 1713h32v8h-32zM2051 1721h40v8h-40zM2179 1721h56v8h-56zM2267 1721h24v8h-24zM2067 1729h16v8h-16zM2187 1729h56v8h-56zM2267 1729h24v8h-24zM2187 1737h56v8h-56zM2275 1737h24v8h-24zM2187 1745h56v8h-56zM2291 1745h16v8h-16zM2195 1753h16v8h-16zM2219 1753h24v8h-24zM2299 1753h16v8h-16zM2195 1761h16v8h-16zM2219 1761h24v8h-24zM2307 1761h16v8h-16zM2195 1769h16v8h-16zM2219 1769h16v8h-16zM2315 1769h16v8h-16zM2195 1777h40v8h-40zM2323 1777h16v8h-16zM2395 1777h32v8h-32zM2203 1785h32v8h-32zM2323 1785h24v8h-24zM2387 1785h8v8h-8zM2427 1785h8v8h-8zM2203 1793h32v8h-32zM2331 1793h56v8h-56zM2435 1793h8v8h-8zM2211 1801h24v8h-24zM2339 1801h40v8h-40zM2435 1801h16v8h-16zM2435 1809h16v8h-16zM2435 1817h16v8h-16zM2443 1825h16v8h-16zM2435 1833h24v8h-24zM2435 1841h16v8h-16zM2307 1849h8v8h-8zM2435 1849h16v8h-16zM2299 1857h16v8h-16zM2427 1857h24v8h-24zM2427 1865h16v8h-16zM2419 1873h24v8h-24zM2419 1881h32v8h-32zM2419 1889h32v8h-32zM2411 1897h40v8h-40zM2051 1905h32v8h-32zM2411 1905h48v8h-48zM2043 1913h40v8h-40zM2411 1913h48v8h-48zM2027 1921h24v8h-24zM2067 1921h24v8h-24zM2411 1921h48v8h-48zM2019 1929h32v8h-32zM2075 1929h24v8h-24zM2419 1929h48v8h-48zM2027 1937h16v8h-16zM2083 1937h16v8h-16zM2419 1937h48v8h-48zM2027 1945h8v8h-8zM2083 1945h16v8h-16zM2419 1945h48v8h-48zM2091 1953h16v8h-16zM2419 1953h56v8h-56zM2091 1961h16v8h-16zM2419 1961h56v8h-56zM2091 1969h16v8h-16zM2419 1969h64v8h-64zM2099 1977h8v8h-8zM2419 1977h64v8h-64zM2099 1985h8v8h-8zM2419 1985h64v8h-64zM2099 1993h8v8h-8zM2427 1993h56v8h-56zM2099 2001h8v8h-8zM2435 2001h56v8h-56zM2043 2009h16v8h-16zM2091 2009h16v8h-16zM2443 2009h40v8h-40zM2043 2017h64v8h-64zM2451 2017h8v8h-8zM2051 2025h56v8h-56zM2051 2033h56v8h-56zM2091 2041h16v8h-16zM2099 2049h8v8h-8zM2099 2057h8v8h-8zM2107 2065h8v8h-8zM2107 2073h8v8h-8zM2107 2081h8v8h-8zM2107 2089h8v8h-8zM2107 2097h8v8h-8zM2107 2105h8v8h-8zM2107 2113h8v8h-8zM2107 2121h8v8h-8zM2115 2129h16v8h-16zM2139 2137h16v8h-16z"/>
<path fill="#60ff9f" d="M2563 1097h8v8h-8zM2563 1105h8v8h-8zM2563 1113h8v8h-8zM2571 1121h8v8h-8zM2579 1129h16v8h-16zM2627 1137h16v8h-16zM2387 1281h8v8h-8zM2411 1289h8v8h-8zM2315 1305h8v8h-8zM2355 1313h24v8h-24zM2339 1321h32v8h-32zM2371 1337h8v8h-8zM2379 1345h8v8h-8zM2411 1377h8v8h-8zM2427 1393h8v8h-8zM2467 1401h8v8h-8zM2483 1425h8v8h-8zM2491 1449h8v8h-8zM2531 1449h8v8h-8zM2475 1473h8v8h-8zM2491 1473h8v8h-8zM2467 1481h8v8h-8zM2499 1481h8v8h-8zM2523 1481h8v8h-8zM2523 1489h8v8h-8zM2483 1497h8v8h-8zM2499 1497h8v8h-8zM2179 1505h16v8h-16zM2515 1505h8v8h-8zM2179 1513h40v8h-40zM2515 1513h8v8h-8zM2179 1521h48v8h-48zM2515 1521h8v8h-8zM2179 1529h48v8h-48zM2515 1529h8v8h-8zM1827 1537h24v8h-24zM2179 1537h40v8h-40zM1835 1545h24v8h-24zM2179 1545h40v8h-40zM1851 1553h16v8h-16zM2003 1553h8v8h-8zM2179 1553h48v8h-48zM1859 1561h16v8h-16zM1987 1561h40v8h-40zM2179 1561h48v8h-48zM2275 1561h16v8h-16zM2523 1561h8v8h-8zM1859 1569h24v8h-24zM1971 1569h56v8h-56zM2179 1569h40v8h-40zM2267 1569h24v8h-24zM2339 1569h16v8h-16zM1867 1577h32v8h-32zM1955 1577h72v8h-72zM2179 1577h40v8h-40zM2235 1577h64v8h-64zM2331 1577h16v8h-16zM2411 1577h8v8h-8zM1875 1585h88v8h-88zM1995 1585h24v8h-24zM2171 1585h24v8h-24zM2235 1585h64v8h-64zM2331 1585h8v8h-8zM2403 1585h8v8h-8zM2419 1585h16v8h-16zM2555 1585h8v8h-8zM2731 1585h16v8h-16zM1891 1593h64v8h-64zM1987 1593h24v8h-24zM2171 1593h16v8h-16zM2267 1593h32v8h-32zM2427 1593h16v8h-16zM2683 1593h48v8h-48zM1907 1601h24v8h-24zM1979 1601h24v8h-24zM2163 1601h24v8h-24zM2267 1601h32v8h-32zM2403 1601h8v8h-8zM2435 1601h8v8h-8zM2587 1601h8v8h-8zM2659 1601h8v8h-8zM1971 1609h16v8h-16zM2147 1609h40v8h-40zM2267 1609h24v8h-24zM2403 1609h8v8h-8zM2427 1609h16v8h-16zM2587 1609h8v8h-8zM2643 1609h8v8h-8zM1971 1617h16v8h-16zM2131 1617h64v8h-64zM2267 1617h24v8h-24zM2403 1617h8v8h-8zM2427 1617h8v8h-8zM2587 1617h16v8h-16zM2635 1617h8v8h-8zM1971 1625h8v8h-8zM2043 1625h48v8h-48zM2107 1625h112v8h-112zM2259 1625h24v8h-24zM2395 1625h40v8h-40zM2587 1625h8v8h-8zM2603 1625h8v8h-8zM1971 1633h16v8h-16zM2035 1633h208v8h-208zM2251 1633h32v8h-32zM2395 1633h32v8h-32zM2611 1633h8v8h-8zM1979 1641h16v8h-16zM2019 1641h160v8h-160zM2219 1641h64v8h-64zM2395 1641h32v8h-32zM2619 1641h16v8h-16zM1987 1649h56v8h-56zM2147 1649h24v8h-24zM2227 1649h64v8h-64zM2395 1649h32v8h-32zM2011 1657h16v8h-16zM2147 1657h24v8h-24zM2227 1657h16v8h-16zM2259 1657h40v8h-40zM2395 1657h32v8h-32zM2155 1665h24v8h-24zM2219 1665h16v8h-16zM2275 1665h32v8h-32zM2403 1665h24v8h-24zM2163 1673h16v8h-16zM2211 1673h8v8h-8zM2283 1673h32v8h-32zM2163 1681h48v8h-48zM2291 1681h16v8h-16zM2179 1689h24v8h-24zM2291 1689h16v8h-16zM2291 1697h16v8h-16zM2291 1705h16v8h-16zM2291 1713h16v8h-16zM2291 1721h16v8h-16zM2291 1729h16v8h-16zM2299 1737h16v8h-16zM2307 1745h16v8h-16zM2211 1753h8v8h-8zM2315 1753h16v8h-16zM2211 1761h8v8h-8zM2323 1761h16v8h-16zM2211 1769h8v8h-8zM2331 1769h16v8h-16zM2395 1769h32v8h-32zM2339 1777h24v8h-24zM2379 1777h16v8h-16zM2427 1777h16v8h-16zM2347 1785h40v8h-40zM2435 1785h8v8h-8zM2443 1793h8v8h-8zM2451 1801h8v8h-8zM2451 1809h8v8h-8zM2451 1817h16v8h-16zM2459 1825h16v8h-16zM2459 1833h16v8h-16zM2451 1841h32v8h-32zM2451 1849h40v8h-40zM2451 1857h48v8h-48zM2443 1865h56v8h-56zM2443 1873h56v8h-56zM2451 1881h40v8h-40zM2451 1889h32v8h-32zM2451 1897h32v8h-32zM2459 1905h24v8h-24zM2459 1913h24v8h-24zM2051 1921h16v8h-16zM2459 1921h24v8h-24zM2051 1929h24v8h-24zM2467 1929h16v8h-16zM2043 1937h40v8h-40zM2467 1937h16v8h-16zM2035 1945h48v8h-48zM2467 1945h24v8h-24zM2027 1953h64v8h-64zM2475 1953h16v8h-16zM2035 1961h56v8h-56zM2475 1961h24v8h-24zM2035 1969h56v8h-56zM2483 1969h16v8h-16zM2035 1977h64v8h-64zM2483 1977h16v8h-16zM2035 1985h64v8h-64zM2483 1985h24v8h-24zM2043 1993h56v8h-56zM2483 1993h24v8h-24zM2043 2001h56v8h-56zM2491 2001h8v8h-8zM2059 2009h32v8h-32zM2051 2041h40v8h-40zM2075 2049h24v8h-24zM2091 2057h8v8h-8zM2099 2065h8v8h-8zM2099 2073h8v8h-8zM2099 2081h8v8h-8zM2099 2089h8v8h-8zM2099 2097h8v8h-8zM2099 2105h8v8h-8zM2099 2113h8v8h-8zM2123 2137h16v8h-16z"/>
<path fill="#68ff97" d="M2563 1065h8v8h-8zM2563 1073h8v8h-8zM2563 1081h8v8h-8zM2563 1089h8v8h-8zM2571 1113h8v8h-8zM2579 1121h8v8h-8zM2595 1129h32v8h-32zM2643 1137h16v8h-16zM2363 1281h8v8h-8zM2379 1281h8v8h-8zM2355 1289h8v8h-8zM2379 1289h8v8h-8zM2355 1297h8v8h-8zM2307 1305h8v8h-8zM2355 1305h8v8h-8zM2371 1305h8v8h-8zM2323 1313h8v8h-8zM2331 1321h8v8h-8zM2363 1329h8v8h-8zM2387 1353h8v8h-8zM2395 1361h8v8h-8zM2403 1369h8v8h-8zM2203 1449h16v8h-16zM2507 1449h8v8h-8zM2203 1457h16v8h-16zM2491 1457h8v8h-8zM2531 1457h8v8h-8zM2483 1465h16v8h-16zM2187 1473h16v8h-16zM2499 1473h8v8h-8zM2523 1473h8v8h-8zM2139 1481h24v8h-24zM2171 1481h24v8h-24zM2147 1489h56v8h-56zM2467 1489h8v8h-8zM2507 1489h8v8h-8zM1987 1497h16v8h-16zM2147 1497h56v8h-56zM2475 1497h8v8h-8zM2507 1497h8v8h-8zM1979 1505h40v8h-40zM2155 1505h24v8h-24zM2195 1505h24v8h-24zM1979 1513h48v8h-48zM2155 1513h24v8h-24zM2219 1513h8v8h-8zM1979 1521h56v8h-56zM2155 1521h24v8h-24zM1843 1529h24v8h-24zM1979 1529h56v8h-56zM2163 1529h16v8h-16zM1851 1537h24v8h-24zM1987 1537h56v8h-56zM2163 1537h16v8h-16zM2219 1537h8v8h-8zM2515 1537h8v8h-8zM1859 1545h24v8h-24zM1979 1545h72v8h-72zM2163 1545h16v8h-16zM2219 1545h8v8h-8zM1867 1553h24v8h-24zM1971 1553h32v8h-32zM2011 1553h40v8h-40zM2163 1553h16v8h-16zM2227 1553h8v8h-8zM2275 1553h16v8h-16zM2347 1553h8v8h-8zM1875 1561h24v8h-24zM1963 1561h24v8h-24zM2027 1561h32v8h-32zM2163 1561h16v8h-16zM2227 1561h8v8h-8zM2259 1561h16v8h-16zM2291 1561h8v8h-8zM2331 1561h32v8h-32zM1883 1569h32v8h-32zM1947 1569h24v8h-24zM2027 1569h32v8h-32zM2163 1569h16v8h-16zM2219 1569h48v8h-48zM2291 1569h48v8h-48zM2355 1569h8v8h-8zM1899 1577h56v8h-56zM2027 1577h32v8h-32zM2163 1577h16v8h-16zM2219 1577h16v8h-16zM2299 1577h32v8h-32zM2347 1577h16v8h-16zM2403 1577h8v8h-8zM2419 1577h16v8h-16zM2531 1577h8v8h-8zM2019 1585h48v8h-48zM2155 1585h16v8h-16zM2299 1585h32v8h-32zM2339 1585h16v8h-16zM2395 1585h8v8h-8zM2435 1585h8v8h-8zM2547 1585h8v8h-8zM2011 1593h56v8h-56zM2147 1593h24v8h-24zM2299 1593h48v8h-48zM2395 1593h8v8h-8zM2443 1593h8v8h-8zM2731 1593h40v8h-40zM2003 1601h72v8h-72zM2139 1601h24v8h-24zM2299 1601h48v8h-48zM2395 1601h8v8h-8zM2443 1601h8v8h-8zM2667 1601h64v8h-64zM1987 1609h104v8h-104zM2123 1609h24v8h-24zM2291 1609h48v8h-48zM2395 1609h8v8h-8zM2443 1609h8v8h-8zM1987 1617h144v8h-144zM2291 1617h32v8h-32zM2395 1617h8v8h-8zM2435 1617h8v8h-8zM2579 1617h8v8h-8zM1979 1625h64v8h-64zM2091 1625h16v8h-16zM2283 1625h24v8h-24zM2387 1625h8v8h-8zM2435 1625h8v8h-8zM2595 1625h8v8h-8zM2635 1625h8v8h-8zM1987 1633h48v8h-48zM2283 1633h24v8h-24zM2379 1633h16v8h-16zM2427 1633h16v8h-16zM2563 1633h8v8h-8zM2587 1633h8v8h-8zM2603 1633h8v8h-8zM1995 1641h24v8h-24zM2179 1641h40v8h-40zM2283 1641h32v8h-32zM2371 1641h24v8h-24zM2427 1641h16v8h-16zM2571 1641h16v8h-16zM2611 1641h8v8h-8zM2171 1649h56v8h-56zM2291 1649h32v8h-32zM2371 1649h24v8h-24zM2427 1649h16v8h-16zM2619 1649h16v8h-16zM2171 1657h24v8h-24zM2203 1657h24v8h-24zM2299 1657h24v8h-24zM2371 1657h24v8h-24zM2427 1657h16v8h-16zM2179 1665h40v8h-40zM2307 1665h16v8h-16zM2379 1665h24v8h-24zM2427 1665h24v8h-24zM2635 1665h16v8h-16zM2179 1673h32v8h-32zM2315 1673h8v8h-8zM2395 1673h56v8h-56zM2307 1681h16v8h-16zM2411 1681h32v8h-32zM2307 1689h16v8h-16zM2307 1697h16v8h-16zM2307 1705h16v8h-16zM2307 1713h16v8h-16zM2307 1721h16v8h-16zM2307 1729h24v8h-24zM2315 1737h16v8h-16zM2323 1745h16v8h-16zM2331 1753h16v8h-16zM2339 1761h24v8h-24zM2395 1761h40v8h-40zM2347 1769h48v8h-48zM2427 1769h16v8h-16zM2363 1777h16v8h-16zM2443 1777h8v8h-8zM2443 1785h16v8h-16zM2451 1793h16v8h-16zM2459 1801h16v8h-16zM2459 1809h16v8h-16zM2467 1817h16v8h-16zM2475 1825h16v8h-16zM2475 1833h24v8h-24zM2483 1841h16v8h-16zM2491 1849h16v8h-16zM2499 1857h8v8h-8zM2499 1865h8v8h-8zM2499 1873h8v8h-8zM2491 1881h8v8h-8zM2483 1889h16v8h-16zM2483 1897h8v8h-8zM2483 1905h8v8h-8zM2483 1913h8v8h-8zM2483 1921h16v8h-16zM2483 1929h16v8h-16zM2483 1937h16v8h-16zM2491 1945h16v8h-16zM2491 1953h16v8h-16zM2499 1961h8v8h-8zM2499 1969h16v8h-16zM2499 1977h16v8h-16zM2507 1985h8v8h-8zM2507 1993h16v8h-16zM2051 2049h24v8h-24zM2067 2057h24v8h-24zM2091 2065h8v8h-8zM2091 2073h8v8h-8zM2091 2105h8v8h-8zM2091 2113h8v8h-8zM2099 2121h8v8h-8zM2107 2129h8v8h-8zM2115 2137h8v8h-8z"/>
<path fill="#70ff8f" d="M2571 1105h8v8h-8zM2587 1121h8v8h-8zM2627 1129h8v8h-8zM2371 1281h8v8h-8zM2371 1297h8v8h-8zM2363 1305h8v8h-8zM2347 1329h16v8h-16zM2419 1393h8v8h-8zM2435 1401h32v8h-32zM2475 1409h8v8h-8zM2203 1433h16v8h-16zM2483 1433h8v8h-8zM2195 1441h32v8h-32zM2187 1449h16v8h-16zM2219 1449h8v8h-8zM2179 1457h24v8h-24zM2219 1457h8v8h-8zM2499 1457h8v8h-8zM2123 1465h8v8h-8zM2163 1465h56v8h-56zM2475 1465h8v8h-8zM2115 1473h24v8h-24zM2155 1473h32v8h-32zM2203 1473h8v8h-8zM2467 1473h8v8h-8zM1995 1481h16v8h-16zM2123 1481h16v8h-16zM2163 1481h8v8h-8zM2195 1481h16v8h-16zM2507 1481h8v8h-8zM1971 1489h64v8h-64zM2123 1489h24v8h-24zM2203 1489h8v8h-8zM2283 1489h24v8h-24zM1963 1497h24v8h-24zM2003 1497h40v8h-40zM2131 1497h16v8h-16zM2203 1497h16v8h-16zM2275 1497h32v8h-32zM2515 1497h8v8h-8zM1963 1505h16v8h-16zM2019 1505h24v8h-24zM2131 1505h24v8h-24zM2219 1505h8v8h-8zM2267 1505h40v8h-40zM2483 1505h32v8h-32zM1963 1513h16v8h-16zM2027 1513h24v8h-24zM2139 1513h16v8h-16zM2227 1513h8v8h-8zM2275 1513h24v8h-24zM1859 1521h24v8h-24zM1971 1521h8v8h-8zM2035 1521h16v8h-16zM2147 1521h8v8h-8zM2227 1521h8v8h-8zM2371 1521h24v8h-24zM1867 1529h24v8h-24zM1971 1529h8v8h-8zM2035 1529h24v8h-24zM2147 1529h16v8h-16zM2227 1529h8v8h-8zM2363 1529h40v8h-40zM1875 1537h24v8h-24zM1971 1537h16v8h-16zM2043 1537h16v8h-16zM2147 1537h16v8h-16zM2227 1537h8v8h-8zM2355 1537h40v8h-40zM1883 1545h16v8h-16zM1971 1545h8v8h-8zM2051 1545h16v8h-16zM2147 1545h16v8h-16zM2227 1545h8v8h-8zM2275 1545h16v8h-16zM2339 1545h56v8h-56zM1891 1553h24v8h-24zM1963 1553h8v8h-8zM2051 1553h24v8h-24zM2147 1553h16v8h-16zM2235 1553h8v8h-8zM2259 1553h16v8h-16zM2291 1553h16v8h-16zM2323 1553h24v8h-24zM2355 1553h32v8h-32zM1899 1561h64v8h-64zM2059 1561h16v8h-16zM2147 1561h16v8h-16zM2235 1561h24v8h-24zM2299 1561h32v8h-32zM2363 1561h16v8h-16zM1915 1569h32v8h-32zM2059 1569h16v8h-16zM2147 1569h16v8h-16zM2363 1569h8v8h-8zM2395 1569h32v8h-32zM2059 1577h24v8h-24zM2147 1577h16v8h-16zM2363 1577h8v8h-8zM2395 1577h8v8h-8zM2435 1577h8v8h-8zM2067 1585h16v8h-16zM2139 1585h16v8h-16zM2355 1585h8v8h-8zM2443 1585h8v8h-8zM2539 1585h8v8h-8zM2067 1593h24v8h-24zM2131 1593h16v8h-16zM2347 1593h16v8h-16zM2451 1593h8v8h-8zM2571 1593h8v8h-8zM2075 1601h64v8h-64zM2347 1601h16v8h-16zM2387 1601h8v8h-8zM2451 1601h16v8h-16zM2579 1601h8v8h-8zM2731 1601h24v8h-24zM2091 1609h32v8h-32zM2339 1609h16v8h-16zM2387 1609h8v8h-8zM2451 1609h8v8h-8zM2579 1609h8v8h-8zM2651 1609h8v8h-8zM2699 1609h24v8h-24zM2323 1617h48v8h-48zM2379 1617h16v8h-16zM2443 1617h8v8h-8zM2571 1617h8v8h-8zM2307 1625h80v8h-80zM2443 1625h8v8h-8zM2307 1633h72v8h-72zM2595 1633h8v8h-8zM2635 1633h8v8h-8zM2315 1641h56v8h-56zM2443 1641h8v8h-8zM2563 1641h8v8h-8zM2587 1641h8v8h-8zM2603 1641h8v8h-8zM2323 1649h48v8h-48zM2443 1649h8v8h-8zM2195 1657h8v8h-8zM2323 1657h48v8h-48zM2443 1657h16v8h-16zM2627 1657h16v8h-16zM2323 1665h24v8h-24zM2363 1665h16v8h-16zM2451 1665h8v8h-8zM2539 1665h8v8h-8zM2323 1673h16v8h-16zM2379 1673h16v8h-16zM2451 1673h8v8h-8zM2643 1673h8v8h-8zM2323 1681h16v8h-16zM2395 1681h16v8h-16zM2443 1681h16v8h-16zM2323 1689h16v8h-16zM2411 1689h48v8h-48zM2323 1697h8v8h-8zM2323 1705h8v8h-8zM2323 1713h16v8h-16zM2323 1721h16v8h-16zM2331 1729h8v8h-8zM2331 1737h16v8h-16zM2339 1745h16v8h-16zM2403 1745h24v8h-24zM2347 1753h88v8h-88zM2363 1761h32v8h-32zM2435 1761h8v8h-8zM2443 1769h8v8h-8zM2451 1777h8v8h-8zM2459 1785h16v8h-16zM2467 1793h16v8h-16zM2475 1801h16v8h-16zM2475 1809h24v8h-24zM2483 1817h16v8h-16zM2491 1825h16v8h-16zM2499 1833h8v8h-8zM2499 1841h8v8h-8zM2507 1849h8v8h-8zM2507 1857h8v8h-8zM2507 1865h8v8h-8zM2507 1873h8v8h-8zM2499 1881h8v8h-8zM2499 1889h8v8h-8zM2491 1897h16v8h-16zM2491 1905h8v8h-8zM2491 1913h8v8h-8zM2499 1921h8v8h-8zM2499 1929h8v8h-8zM2499 1937h8v8h-8zM2507 1945h8v8h-8zM2507 1953h8v8h-8zM2507 1961h16v8h-16zM2515 1969h8v8h-8zM2515 1977h8v8h-8zM2515 1985h8v8h-8zM2051 2057h16v8h-16zM2067 2065h24v8h-24zM2091 2081h8v8h-8zM2091 2089h8v8h-8zM2091 2097h8v8h-8zM2083 2105h8v8h-8zM2083 2113h8v8h-8zM2083 2121h16v8h-16zM2099 2129h8v8h-8zM2107 2137h8v8h-8zM2123 2145h8v8h-8z"/>
<path fill="#78ff87" d="M2571 1097h8v8h-8zM2579 1113h8v8h-8zM2595 1121h24v8h-24zM2635 1129h16v8h-16zM2363 1289h16v8h-16zM2363 1297h8v8h-8zM2299 1305h8v8h-8zM2315 1313h8v8h-8zM2323 1321h8v8h-8zM2339 1329h8v8h-8zM2363 1337h8v8h-8zM2411 1385h8v8h-8zM2427 1401h8v8h-8zM2203 1417h8v8h-8zM2203 1425h16v8h-16zM2195 1433h8v8h-8zM2219 1433h8v8h-8zM2187 1441h8v8h-8zM2483 1441h8v8h-8zM2131 1449h56v8h-56zM2227 1449h8v8h-8zM2483 1449h8v8h-8zM2107 1457h8v8h-8zM2123 1457h56v8h-56zM2227 1457h8v8h-8zM2483 1457h8v8h-8zM2099 1465h24v8h-24zM2131 1465h32v8h-32zM2219 1465h8v8h-8zM2499 1465h8v8h-8zM1987 1473h48v8h-48zM2099 1473h16v8h-16zM2139 1473h16v8h-16zM2211 1473h16v8h-16zM1963 1481h32v8h-32zM2011 1481h48v8h-48zM2091 1481h32v8h-32zM2211 1481h8v8h-8zM2291 1481h32v8h-32zM1947 1489h24v8h-24zM2035 1489h32v8h-32zM2099 1489h24v8h-24zM2211 1489h8v8h-8zM2275 1489h8v8h-8zM2307 1489h24v8h-24zM2515 1489h8v8h-8zM1947 1497h16v8h-16zM2043 1497h24v8h-24zM2107 1497h24v8h-24zM2219 1497h16v8h-16zM2259 1497h16v8h-16zM2307 1497h24v8h-24zM2467 1497h8v8h-8zM1947 1505h16v8h-16zM2043 1505h24v8h-24zM2107 1505h24v8h-24zM2227 1505h40v8h-40zM2307 1505h24v8h-24zM2475 1505h8v8h-8zM1883 1513h8v8h-8zM1955 1513h8v8h-8zM2051 1513h16v8h-16zM2115 1513h24v8h-24zM2235 1513h40v8h-40zM2299 1513h24v8h-24zM2363 1513h32v8h-32zM2507 1513h8v8h-8zM1883 1521h24v8h-24zM1955 1521h16v8h-16zM2051 1521h24v8h-24zM2123 1521h24v8h-24zM2235 1521h72v8h-72zM2355 1521h16v8h-16zM2395 1521h16v8h-16zM1891 1529h24v8h-24zM1955 1529h16v8h-16zM2059 1529h16v8h-16zM2131 1529h16v8h-16zM2235 1529h8v8h-8zM2267 1529h32v8h-32zM2347 1529h16v8h-16zM2403 1529h8v8h-8zM1899 1537h16v8h-16zM1963 1537h8v8h-8zM2059 1537h24v8h-24zM2131 1537h16v8h-16zM2235 1537h8v8h-8zM2267 1537h32v8h-32zM2323 1537h32v8h-32zM2395 1537h16v8h-16zM1899 1545h32v8h-32zM1955 1545h16v8h-16zM2067 1545h16v8h-16zM2131 1545h16v8h-16zM2235 1545h40v8h-40zM2291 1545h48v8h-48zM2395 1545h8v8h-8zM1915 1553h48v8h-48zM2075 1553h16v8h-16zM2139 1553h8v8h-8zM2243 1553h16v8h-16zM2307 1553h16v8h-16zM2387 1553h16v8h-16zM2075 1561h16v8h-16zM2139 1561h8v8h-8zM2379 1561h40v8h-40zM2075 1569h16v8h-16zM2139 1569h8v8h-8zM2371 1569h24v8h-24zM2427 1569h8v8h-8zM2083 1577h16v8h-16zM2131 1577h16v8h-16zM2371 1577h24v8h-24zM2443 1577h8v8h-8zM2083 1585h24v8h-24zM2123 1585h16v8h-16zM2363 1585h8v8h-8zM2387 1585h8v8h-8zM2451 1585h8v8h-8zM2091 1593h40v8h-40zM2363 1593h8v8h-8zM2387 1593h8v8h-8zM2459 1593h48v8h-48zM2363 1601h24v8h-24zM2467 1601h32v8h-32zM2755 1601h16v8h-16zM2355 1609h32v8h-32zM2459 1609h16v8h-16zM2691 1609h8v8h-8zM2723 1609h16v8h-16zM2371 1617h8v8h-8zM2451 1617h8v8h-8zM2643 1617h8v8h-8zM2707 1617h8v8h-8zM2563 1625h8v8h-8zM2443 1633h8v8h-8zM2595 1641h8v8h-8zM2635 1641h8v8h-8zM2451 1649h8v8h-8zM2611 1649h8v8h-8zM2635 1649h8v8h-8zM2459 1657h8v8h-8zM2539 1657h16v8h-16zM2619 1657h8v8h-8zM2347 1665h16v8h-16zM2459 1665h8v8h-8zM2531 1665h8v8h-8zM2547 1665h8v8h-8zM2627 1665h8v8h-8zM2339 1673h40v8h-40zM2459 1673h8v8h-8zM2531 1673h16v8h-16zM2635 1673h8v8h-8zM2651 1673h8v8h-8zM2339 1681h24v8h-24zM2379 1681h16v8h-16zM2459 1681h8v8h-8zM2339 1689h16v8h-16zM2395 1689h16v8h-16zM2459 1689h8v8h-8zM2331 1697h16v8h-16zM2403 1697h64v8h-64zM2331 1705h16v8h-16zM2411 1705h56v8h-56zM2339 1713h8v8h-8zM2411 1713h48v8h-48zM2339 1721h16v8h-16zM2411 1721h48v8h-48zM2339 1729h24v8h-24zM2403 1729h40v8h-40zM2347 1737h96v8h-96zM2523 1737h24v8h-24zM2355 1745h48v8h-48zM2427 1745h24v8h-24zM2523 1745h24v8h-24zM2435 1753h16v8h-16zM2523 1753h16v8h-16zM2443 1761h16v8h-16zM2451 1769h16v8h-16zM2459 1777h24v8h-24zM2475 1785h16v8h-16zM2483 1793h16v8h-16zM2491 1801h16v8h-16zM2499 1809h8v8h-8zM2499 1817h16v8h-16zM2507 1825h8v8h-8zM2507 1833h8v8h-8zM2507 1841h8v8h-8zM2507 1881h8v8h-8zM2499 1905h8v8h-8zM2499 1913h8v8h-8zM2507 1921h8v8h-8zM2507 1929h8v8h-8zM2507 1937h8v8h-8zM2515 1945h8v8h-8zM2515 1953h8v8h-8zM2523 1961h8v8h-8zM2523 1969h8v8h-8zM2523 1977h8v8h-8zM2523 1985h8v8h-8zM2059 2065h8v8h-8zM2059 2073h32v8h-32zM2083 2081h8v8h-8zM2083 2089h8v8h-8zM2083 2097h8v8h-8zM2075 2105h8v8h-8zM2075 2113h8v8h-8zM2075 2121h8v8h-8zM2083 2129h16v8h-16zM2099 2137h8v8h-8zM2115 2145h8v8h-8z"/>
<path fill="#80ff80" d="M2571 1089h8v8h-8zM2579 1105h8v8h-8zM2587 1113h8v8h-8zM2619 1121h16v8h-16zM2651 1129h8v8h-8zM2291 1305h8v8h-8zM2371 1345h8v8h-8zM2379 1353h8v8h-8zM2403 1377h8v8h-8zM2203 1409h8v8h-8zM2211 1417h8v8h-8zM2107 1425h8v8h-8zM2195 1425h8v8h-8zM2219 1425h8v8h-8zM2083 1433h72v8h-72zM2187 1433h8v8h-8zM2227 1433h8v8h-8zM2067 1441h120v8h-120zM2227 1441h8v8h-8zM2051 1449h80v8h-80zM2059 1457h48v8h-48zM2115 1457h8v8h-8zM2003 1465h96v8h-96zM2227 1465h8v8h-8zM2035 1473h64v8h-64zM2227 1473h8v8h-8zM2299 1473h32v8h-32zM2507 1473h8v8h-8zM2059 1481h32v8h-32zM2219 1481h16v8h-16zM2275 1481h16v8h-16zM2323 1481h16v8h-16zM2515 1481h8v8h-8zM2067 1489h32v8h-32zM2219 1489h56v8h-56zM2331 1489h16v8h-16zM1923 1497h24v8h-24zM2067 1497h40v8h-40zM2235 1497h24v8h-24zM2331 1497h32v8h-32zM1899 1505h48v8h-48zM2067 1505h40v8h-40zM2331 1505h48v8h-48zM1891 1513h64v8h-64zM2067 1513h48v8h-48zM2323 1513h40v8h-40zM2395 1513h8v8h-8zM2499 1513h8v8h-8zM1907 1521h48v8h-48zM2075 1521h48v8h-48zM2307 1521h48v8h-48zM2507 1521h8v8h-8zM1915 1529h40v8h-40zM2075 1529h56v8h-56zM2243 1529h24v8h-24zM2299 1529h48v8h-48zM1915 1537h48v8h-48zM2083 1537h48v8h-48zM2243 1537h24v8h-24zM2299 1537h24v8h-24zM1931 1545h24v8h-24zM2083 1545h48v8h-48zM2403 1545h16v8h-16zM2515 1545h8v8h-8zM2091 1553h48v8h-48zM2403 1553h16v8h-16zM2091 1561h48v8h-48zM2419 1561h16v8h-16zM2091 1569h48v8h-48zM2435 1569h8v8h-8zM2099 1577h32v8h-32zM2451 1577h8v8h-8zM2107 1585h16v8h-16zM2371 1585h16v8h-16zM2459 1585h16v8h-16zM2371 1593h16v8h-16zM2563 1593h8v8h-8zM2499 1601h8v8h-8zM2771 1601h8v8h-8zM2475 1609h24v8h-24zM2571 1609h8v8h-8zM2659 1609h8v8h-8zM2675 1609h16v8h-16zM2739 1609h24v8h-24zM2459 1617h16v8h-16zM2699 1617h8v8h-8zM2715 1617h16v8h-16zM2451 1625h8v8h-8zM2451 1633h8v8h-8zM2451 1641h8v8h-8zM2563 1649h24v8h-24zM2603 1649h8v8h-8zM2531 1657h8v8h-8zM2555 1657h8v8h-8zM2643 1657h8v8h-8zM2651 1665h8v8h-8zM2467 1673h8v8h-8zM2523 1673h8v8h-8zM2547 1673h8v8h-8zM2363 1681h16v8h-16zM2467 1681h8v8h-8zM2523 1681h24v8h-24zM2355 1689h40v8h-40zM2467 1689h8v8h-8zM2507 1689h16v8h-16zM2347 1697h24v8h-24zM2387 1697h16v8h-16zM2467 1697h16v8h-16zM2499 1697h24v8h-24zM2347 1705h24v8h-24zM2387 1705h24v8h-24zM2467 1705h8v8h-8zM2347 1713h64v8h-64zM2459 1713h24v8h-24zM2355 1721h56v8h-56zM2459 1721h16v8h-16zM2363 1729h40v8h-40zM2443 1729h32v8h-32zM2523 1729h24v8h-24zM2443 1737h24v8h-24zM2515 1737h8v8h-8zM2547 1737h8v8h-8zM2451 1745h16v8h-16zM2507 1745h16v8h-16zM2547 1745h8v8h-8zM2451 1753h32v8h-32zM2491 1753h32v8h-32zM2539 1753h8v8h-8zM2459 1761h80v8h-80zM2467 1769h64v8h-64zM2483 1777h40v8h-40zM2491 1785h32v8h-32zM2499 1793h24v8h-24zM2507 1801h16v8h-16zM2507 1809h16v8h-16zM2515 1817h8v8h-8zM2515 1825h8v8h-8zM2515 1833h8v8h-8zM2515 1841h8v8h-8zM2515 1849h8v8h-8zM2515 1857h8v8h-8zM2515 1865h8v8h-8zM2515 1873h8v8h-8zM2507 1889h8v8h-8zM2507 1897h8v8h-8zM2507 1905h8v8h-8zM2507 1913h8v8h-8zM2515 1929h8v8h-8zM2515 1937h8v8h-8zM2523 1945h8v8h-8zM2523 1953h8v8h-8zM2531 1961h8v8h-8zM2531 1969h8v8h-8zM2531 1977h8v8h-8zM2531 1985h8v8h-8zM2059 2081h24v8h-24zM2059 2089h24v8h-24zM2067 2097h16v8h-16zM2059 2105h16v8h-16zM2059 2113h16v8h-16zM2067 2121h8v8h-8zM2075 2129h8v8h-8zM2107 2145h8v8h-8z"/>
<path fill="#87ff78" d="M2571 1073h8v8h-8zM2571 1081h8v8h-8zM2595 1113h8v8h-8zM2331 1329h8v8h-8zM2355 1337h8v8h-8zM2387 1361h8v8h-8zM2395 1369h8v8h-8zM2195 1409h8v8h-8zM2211 1409h8v8h-8zM2195 1417h8v8h-8zM2219 1417h8v8h-8zM2115 1425h40v8h-40zM2187 1425h8v8h-8zM2227 1425h8v8h-8zM2155 1433h32v8h-32zM2235 1441h8v8h-8zM2043 1449h8v8h-8zM2235 1449h8v8h-8zM2515 1449h8v8h-8zM2027 1457h32v8h-32zM2235 1457h8v8h-8zM2475 1457h8v8h-8zM2507 1457h8v8h-8zM2235 1465h8v8h-8zM2307 1465h24v8h-24zM2507 1465h8v8h-8zM2523 1465h8v8h-8zM2235 1473h8v8h-8zM2283 1473h16v8h-16zM2331 1473h8v8h-8zM2515 1473h8v8h-8zM2235 1481h40v8h-40zM2339 1481h8v8h-8zM2459 1481h8v8h-8zM2347 1489h16v8h-16zM2459 1489h8v8h-8zM2363 1497h16v8h-16zM2379 1505h16v8h-16zM2467 1505h8v8h-8zM2403 1513h8v8h-8zM2483 1513h16v8h-16zM2411 1521h8v8h-8zM2411 1529h8v8h-8zM2507 1529h8v8h-8zM2411 1537h8v8h-8zM2419 1545h8v8h-8zM2419 1553h16v8h-16zM2435 1561h8v8h-8zM2443 1569h8v8h-8zM2523 1569h8v8h-8zM2459 1577h8v8h-8zM2475 1585h24v8h-24zM2571 1601h8v8h-8zM2499 1609h8v8h-8zM2667 1609h8v8h-8zM2763 1609h8v8h-8zM2475 1617h16v8h-16zM2691 1617h8v8h-8zM2731 1617h16v8h-16zM2459 1625h8v8h-8zM2643 1625h8v8h-8zM2459 1649h8v8h-8zM2555 1649h8v8h-8zM2587 1649h16v8h-16zM2611 1657h8v8h-8zM2467 1665h8v8h-8zM2523 1665h8v8h-8zM2555 1665h8v8h-8zM2619 1665h8v8h-8zM2627 1673h8v8h-8zM2475 1681h8v8h-8zM2515 1681h8v8h-8zM2547 1681h8v8h-8zM2475 1689h32v8h-32zM2523 1689h16v8h-16zM2371 1697h16v8h-16zM2483 1697h16v8h-16zM2523 1697h8v8h-8zM2371 1705h16v8h-16zM2475 1705h48v8h-48zM2483 1713h16v8h-16zM2531 1713h8v8h-8zM2475 1721h24v8h-24zM2523 1721h24v8h-24zM2475 1729h48v8h-48zM2547 1729h8v8h-8zM2467 1737h48v8h-48zM2467 1745h40v8h-40zM2483 1753h8v8h-8zM2547 1753h8v8h-8zM2539 1761h8v8h-8zM2531 1769h8v8h-8zM2523 1777h16v8h-16zM2523 1785h16v8h-16zM2523 1793h16v8h-16zM2523 1801h16v8h-16zM2523 1809h16v8h-16zM2523 1817h8v8h-8zM2523 1825h8v8h-8zM2523 1833h8v8h-8zM2523 1841h8v8h-8zM2523 1849h8v8h-8zM2523 1857h8v8h-8zM2515 1881h8v8h-8zM2515 1889h8v8h-8zM2515 1897h8v8h-8zM2515 1905h8v8h-8zM2515 1913h8v8h-8zM2515 1921h8v8h-8zM2523 1929h8v8h-8zM2523 1937h8v8h-8zM2531 1945h8v8h-8zM2531 1953h8v8h-8zM2539 1961h8v8h-8zM2539 1969h8v8h-8zM2539 1977h8v8h-8zM2059 2097h8v8h-8zM2059 2121h8v8h-8zM2059 2129h16v8h-16zM2091 2137h8v8h-8zM2099 2145h8v8h-8zM2107 2153h8v8h-8z"/>
<path fill="#8fff70" d="M2571 1065h8v8h-8zM2579 1097h8v8h-8zM2587 1105h8v8h-8zM2603 1113h16v8h-16zM2635 1121h8v8h-8zM2283 1305h8v8h-8zM2307 1313h8v8h-8zM2315 1321h8v8h-8zM2347 1337h8v8h-8zM2411 1393h8v8h-8zM2203 1401h8v8h-8zM2419 1401h8v8h-8zM2467 1409h8v8h-8zM2123 1417h32v8h-32zM2187 1417h8v8h-8zM2155 1425h32v8h-32zM2235 1433h8v8h-8zM2243 1465h8v8h-8zM2291 1465h16v8h-16zM2331 1465h8v8h-8zM2467 1465h8v8h-8zM2243 1473h16v8h-16zM2267 1473h16v8h-16zM2339 1473h8v8h-8zM2347 1481h8v8h-8zM2363 1489h8v8h-8zM2459 1497h8v8h-8zM2395 1505h8v8h-8zM2475 1513h8v8h-8zM2499 1521h8v8h-8zM2419 1529h8v8h-8zM2419 1537h8v8h-8zM2427 1545h8v8h-8zM2435 1553h8v8h-8zM2443 1561h8v8h-8zM2451 1569h8v8h-8zM2467 1577h8v8h-8zM2499 1585h8v8h-8zM2531 1585h8v8h-8zM2507 1593h8v8h-8zM2555 1593h8v8h-8zM2507 1601h8v8h-8zM2771 1609h8v8h-8zM2491 1617h8v8h-8zM2563 1617h8v8h-8zM2651 1617h8v8h-8zM2747 1617h16v8h-16zM2467 1625h8v8h-8zM2699 1625h32v8h-32zM2459 1633h8v8h-8zM2459 1641h8v8h-8zM2555 1641h8v8h-8zM2547 1649h8v8h-8zM2467 1657h8v8h-8zM2523 1657h8v8h-8zM2563 1657h8v8h-8zM2475 1673h8v8h-8zM2515 1673h8v8h-8zM2555 1673h8v8h-8zM2483 1681h32v8h-32zM2643 1681h8v8h-8zM2539 1689h8v8h-8zM2531 1697h8v8h-8zM2523 1705h24v8h-24zM2499 1713h32v8h-32zM2539 1713h8v8h-8zM2499 1721h24v8h-24zM2547 1721h8v8h-8zM2547 1761h8v8h-8zM2539 1769h8v8h-8zM2539 1777h8v8h-8zM2539 1785h8v8h-8zM2539 1793h8v8h-8zM2539 1801h8v8h-8zM2539 1809h8v8h-8zM2531 1817h8v8h-8zM2531 1825h8v8h-8zM2531 1833h8v8h-8zM2531 1841h8v8h-8zM2523 1865h8v8h-8zM2523 1913h8v8h-8zM2523 1921h8v8h-8zM2531 1937h8v8h-8zM2539 1945h8v8h-8zM2539 1953h8v8h-8zM2547 1961h8v8h-8zM2547 1969h8v8h-8zM2547 1977h8v8h-8zM2067 2137h24v8h-24z"/>
<path fill="#97ff68" d="M2579 1089h8v8h-8zM2619 1113h8v8h-8zM2643 1121h8v8h-8zM2275 1305h8v8h-8zM2323 1329h8v8h-8zM2363 1345h8v8h-8zM2403 1385h8v8h-8zM2195 1401h8v8h-8zM2147 1409h8v8h-8zM2171 1409h24v8h-24zM2427 1409h24v8h-24zM2155 1417h32v8h-32zM2227 1417h8v8h-8zM2475 1417h8v8h-8zM2235 1425h8v8h-8zM2243 1441h8v8h-8zM2243 1449h8v8h-8zM2475 1449h8v8h-8zM2243 1457h8v8h-8zM2307 1457h24v8h-24zM2275 1465h16v8h-16zM2515 1465h8v8h-8zM2259 1473h8v8h-8zM2347 1473h8v8h-8zM2459 1473h8v8h-8zM2355 1481h8v8h-8zM2371 1489h8v8h-8zM2379 1497h8v8h-8zM2411 1513h8v8h-8zM2419 1521h8v8h-8zM2491 1521h8v8h-8zM2499 1529h8v8h-8zM2427 1537h8v8h-8zM2507 1537h8v8h-8zM2435 1545h8v8h-8zM2443 1553h8v8h-8zM2459 1569h8v8h-8zM2475 1577h8v8h-8zM2547 1593h8v8h-8zM2507 1609h8v8h-8zM2499 1617h8v8h-8zM2683 1617h8v8h-8zM2763 1617h8v8h-8zM2475 1625h16v8h-16zM2691 1625h8v8h-8zM2731 1625h8v8h-8zM2467 1633h8v8h-8zM2467 1649h8v8h-8zM2531 1649h16v8h-16zM2643 1649h8v8h-8zM2571 1657h8v8h-8zM2595 1657h16v8h-16zM2475 1665h8v8h-8zM2515 1665h8v8h-8zM2563 1665h8v8h-8zM2611 1665h8v8h-8zM2483 1673h8v8h-8zM2507 1673h8v8h-8zM2619 1673h8v8h-8zM2555 1681h8v8h-8zM2635 1681h8v8h-8zM2547 1689h8v8h-8zM2539 1697h16v8h-16zM2547 1705h8v8h-8zM2547 1713h8v8h-8zM2555 1737h8v8h-8zM2555 1745h8v8h-8zM2555 1753h8v8h-8zM2547 1769h8v8h-8zM2547 1777h8v8h-8zM2547 1785h8v8h-8zM2547 1793h8v8h-8zM2547 1801h8v8h-8zM2539 1817h8v8h-8zM2539 1825h8v8h-8zM2539 1833h8v8h-8zM2531 1849h8v8h-8zM2531 1857h8v8h-8zM2523 1873h8v8h-8zM2523 1881h8v8h-8zM2523 1889h8v8h-8zM2523 1897h8v8h-8zM2523 1905h8v8h-8zM2531 1921h8v8h-8zM2531 1929h8v8h-8zM2539 1937h8v8h-8zM2547 1953h8v8h-8zM2555 1969h8v8h-8zM2555 1977h8v8h-8zM2059 2137h8v8h-8zM2091 2145h8v8h-8zM2099 2153h8v8h-8z"/>
<path fill="#9fff60" d="M2579 1081h8v8h-8zM2587 1097h8v8h-8zM2595 1105h8v8h-8zM2627 1113h8v8h-8zM2651 1121h8v8h-8zM2339 1337h8v8h-8zM2371 1353h8v8h-8zM2395 1377h8v8h-8zM2171 1401h24v8h-24zM2211 1401h8v8h-8zM2155 1409h16v8h-16zM2219 1409h8v8h-8zM2451 1409h16v8h-16zM2235 1417h8v8h-8zM2243 1425h8v8h-8zM2475 1425h8v8h-8zM2243 1433h8v8h-8zM2475 1441h8v8h-8zM2251 1457h8v8h-8zM2291 1457h16v8h-16zM2515 1457h8v8h-8zM2251 1465h24v8h-24zM2339 1465h8v8h-8zM2363 1481h8v8h-8zM2387 1497h8v8h-8zM2403 1505h8v8h-8zM2459 1505h8v8h-8zM2467 1513h8v8h-8zM2483 1521h8v8h-8zM2427 1529h8v8h-8zM2435 1537h8v8h-8zM2443 1545h8v8h-8zM2515 1553h8v8h-8zM2451 1561h8v8h-8zM2467 1569h8v8h-8zM2483 1577h8v8h-8zM2523 1577h8v8h-8zM2539 1593h8v8h-8zM2563 1601h8v8h-8zM2563 1609h8v8h-8zM2507 1617h8v8h-8zM2659 1617h8v8h-8zM2675 1617h8v8h-8zM2771 1617h8v8h-8zM2491 1625h8v8h-8zM2739 1625h16v8h-16zM2475 1633h8v8h-8zM2555 1633h8v8h-8zM2643 1633h8v8h-8zM2467 1641h8v8h-8zM2643 1641h8v8h-8zM2475 1657h8v8h-8zM2579 1657h16v8h-16zM2483 1665h8v8h-8zM2491 1673h16v8h-16zM2563 1673h8v8h-8zM2659 1673h8v8h-8zM2627 1681h8v8h-8zM2651 1681h8v8h-8zM2555 1689h8v8h-8zM2555 1729h8v8h-8zM2555 1761h8v8h-8zM2555 1769h8v8h-8zM2547 1809h8v8h-8zM2547 1817h8v8h-8zM2547 1825h8v8h-8zM2539 1841h8v8h-8zM2539 1849h8v8h-8zM2539 1857h8v8h-8zM2531 1865h8v8h-8zM2531 1873h8v8h-8zM2531 1905h8v8h-8zM2531 1913h8v8h-8zM2539 1921h8v8h-8zM2539 1929h8v8h-8zM2547 1937h8v8h-8zM2547 1945h8v8h-8zM2555 1953h8v8h-8zM2555 1961h8v8h-8zM2563 1969h8v8h-8zM2059 2145h32v8h-32zM2091 2153h8v8h-8z"/>
<path fill="#a7ff58" d="M2579 1073h8v8h-8zM2603 1105h8v8h-8zM2635 1113h8v8h-8zM2299 1313h8v8h-8zM2307 1321h8v8h-8zM2355 1345h8v8h-8zM2379 1361h8v8h-8zM2387 1369h8v8h-8zM2187 1393h16v8h-16zM2251 1425h8v8h-8zM2251 1433h8v8h-8zM2475 1433h8v8h-8zM2251 1441h8v8h-8zM2251 1449h8v8h-8zM2259 1457h32v8h-32zM2331 1457h8v8h-8zM2523 1457h8v8h-8zM2355 1473h8v8h-8zM2379 1489h8v8h-8zM2459 1513h8v8h-8zM2427 1521h8v8h-8zM2475 1521h8v8h-8zM2435 1529h8v8h-8zM2491 1529h8v8h-8zM2443 1537h8v8h-8zM2451 1553h8v8h-8zM2459 1561h8v8h-8zM2491 1577h8v8h-8zM2507 1585h8v8h-8zM2515 1593h8v8h-8zM2531 1593h8v8h-8zM2515 1601h8v8h-8zM2515 1609h8v8h-8zM2667 1617h8v8h-8zM2779 1617h8v8h-8zM2499 1625h16v8h-16zM2555 1625h8v8h-8zM2755 1625h8v8h-8zM2483 1633h8v8h-8zM2699 1633h32v8h-32zM2475 1641h8v8h-8zM2475 1649h8v8h-8zM2523 1649h8v8h-8zM2515 1657h8v8h-8zM2651 1657h8v8h-8zM2491 1665h8v8h-8zM2507 1665h8v8h-8zM2571 1665h8v8h-8zM2603 1665h8v8h-8zM2611 1673h8v8h-8zM2563 1681h8v8h-8zM2619 1681h8v8h-8zM2555 1697h8v8h-8zM2555 1705h8v8h-8zM2555 1713h8v8h-8zM2555 1721h8v8h-8zM2555 1777h8v8h-8zM2555 1785h8v8h-8zM2555 1793h8v8h-8zM2555 1801h8v8h-8zM2555 1809h8v8h-8zM2547 1833h8v8h-8zM2547 1841h8v8h-8zM2547 1849h8v8h-8zM2539 1865h8v8h-8zM2531 1881h8v8h-8zM2531 1889h8v8h-8zM2531 1897h8v8h-8zM2539 1913h8v8h-8zM2547 1929h8v8h-8zM2555 1937h8v8h-8zM2555 1945h8v8h-8zM2563 1953h8v8h-8zM2563 1961h8v8h-8zM2571 1969h8v8h-8zM2067 2153h24v8h-24z"/>
<path fill="#afff50" d="M2579 1065h8v8h-8zM2587 1089h8v8h-8zM2611 1105h8v8h-8zM2643 1113h8v8h-8zM2315 1329h8v8h-8zM2331 1337h8v8h-8zM2203 1393h8v8h-8zM2403 1393h8v8h-8zM2411 1401h8v8h-8zM2227 1409h8v8h-8zM2419 1409h8v8h-8zM2243 1417h8v8h-8zM2259 1433h8v8h-8zM2259 1441h8v8h-8zM2259 1449h32v8h-32zM2315 1449h16v8h-16zM2523 1449h8v8h-8zM2467 1457h8v8h-8zM2347 1465h8v8h-8zM2363 1473h8v8h-8zM2371 1481h8v8h-8zM2395 1497h8v8h-8zM2419 1513h8v8h-8zM2435 1521h8v8h-8zM2459 1521h16v8h-16zM2443 1529h8v8h-8zM2483 1529h8v8h-8zM2451 1537h8v8h-8zM2499 1537h8v8h-8zM2451 1545h8v8h-8zM2459 1553h8v8h-8zM2467 1561h8v8h-8zM2515 1561h8v8h-8zM2475 1569h8v8h-8zM2523 1585h8v8h-8zM2523 1593h8v8h-8zM2555 1601h8v8h-8zM2515 1617h8v8h-8zM2555 1617h8v8h-8zM2515 1625h8v8h-8zM2651 1625h8v8h-8zM2683 1625h8v8h-8zM2763 1625h8v8h-8zM2491 1633h24v8h-24zM2731 1633h8v8h-8zM2483 1641h8v8h-8zM2547 1641h8v8h-8zM2483 1649h8v8h-8zM2515 1649h8v8h-8zM2483 1657h8v8h-8zM2499 1665h8v8h-8zM2587 1665h16v8h-16zM2659 1665h8v8h-8zM2571 1673h8v8h-8zM2603 1673h8v8h-8zM2611 1681h8v8h-8zM2659 1681h8v8h-8zM2563 1689h8v8h-8zM2563 1745h8v8h-8zM2563 1753h8v8h-8zM2563 1761h8v8h-8zM2563 1769h8v8h-8zM2563 1777h8v8h-8zM2563 1785h8v8h-8zM2555 1817h8v8h-8zM2555 1825h8v8h-8zM2555 1833h8v8h-8zM2555 1841h8v8h-8zM2555 1849h8v8h-8zM2547 1857h8v8h-8zM2547 1865h8v8h-8zM2539 1873h8v8h-8zM2539 1881h8v8h-8zM2539 1889h8v8h-8zM2539 1897h8v8h-8zM2539 1905h8v8h-8zM2547 1913h8v8h-8zM2547 1921h8v8h-8zM2555 1929h8v8h-8zM2563 1937h8v8h-8zM2563 1945h8v8h-8zM2571 1953h8v8h-8zM2571 1961h8v8h-8zM2059 2153h8v8h-8zM2075 2161h16v8h-16z"/>
<path fill="#b7ff48" d="M2579 1057h8v8h-8zM2595 1097h8v8h-8zM2619 1105h8v8h-8zM2291 1313h8v8h-8zM2219 1401h8v8h-8zM2235 1409h8v8h-8zM2251 1417h8v8h-8zM2467 1417h8v8h-8zM2259 1425h16v8h-16zM2267 1433h16v8h-16zM2267 1441h16v8h-16zM2291 1449h24v8h-24zM2339 1457h8v8h-8zM2387 1489h8v8h-8zM2451 1489h8v8h-8zM2451 1497h8v8h-8zM2411 1505h8v8h-8zM2451 1505h8v8h-8zM2451 1513h8v8h-8zM2443 1521h16v8h-16zM2451 1529h32v8h-32zM2459 1537h16v8h-16zM2459 1545h8v8h-8zM2507 1545h8v8h-8zM2467 1553h8v8h-8zM2483 1569h8v8h-8zM2499 1577h8v8h-8zM2515 1585h8v8h-8zM2523 1601h8v8h-8zM2547 1601h8v8h-8zM2555 1609h8v8h-8zM2771 1625h8v8h-8zM2515 1633h8v8h-8zM2691 1633h8v8h-8zM2739 1633h16v8h-16zM2491 1641h8v8h-8zM2515 1641h24v8h-24zM2491 1657h8v8h-8zM2507 1657h8v8h-8zM2579 1665h8v8h-8zM2595 1673h8v8h-8zM2571 1681h8v8h-8zM2619 1689h16v8h-16zM2563 1697h8v8h-8zM2563 1737h8v8h-8zM2563 1793h8v8h-8zM2563 1801h8v8h-8zM2563 1809h8v8h-8zM2563 1849h8v8h-8zM2555 1857h16v8h-16zM2555 1865h16v8h-16zM2547 1873h8v8h-8zM2547 1881h8v8h-8zM2547 1897h8v8h-8zM2547 1905h8v8h-8zM2555 1921h8v8h-8zM2563 1929h8v8h-8zM2571 1937h8v8h-8zM2571 1945h8v8h-8zM2579 1953h8v8h-8zM2579 1961h8v8h-8zM2059 2161h16v8h-16z"/>
<path fill="#bfff40" d="M2587 1081h8v8h-8zM2603 1097h8v8h-8zM2627 1105h8v8h-8zM2283 1313h8v8h-8zM2347 1345h8v8h-8zM2363 1353h8v8h-8zM2395 1385h8v8h-8zM2211 1393h8v8h-8zM2243 1409h8v8h-8zM2259 1417h8v8h-8zM2275 1425h8v8h-8zM2283 1433h8v8h-8zM2283 1441h8v8h-8zM2467 1449h8v8h-8zM2355 1465h8v8h-8zM2459 1465h8v8h-8zM2371 1473h8v8h-8zM2379 1481h8v8h-8zM2427 1513h24v8h-24zM2475 1537h24v8h-24zM2467 1545h8v8h-8zM2475 1561h8v8h-8zM2515 1569h8v8h-8zM2531 1601h16v8h-16zM2523 1609h8v8h-8zM2523 1617h8v8h-8zM2523 1625h8v8h-8zM2779 1625h8v8h-8zM2523 1633h8v8h-8zM2755 1633h8v8h-8zM2499 1641h16v8h-16zM2539 1641h8v8h-8zM2707 1641h24v8h-24zM2491 1649h8v8h-8zM2507 1649h8v8h-8zM2499 1657h8v8h-8zM2579 1673h16v8h-16zM2579 1681h8v8h-8zM2595 1681h16v8h-16zM2571 1689h8v8h-8zM2611 1689h8v8h-8zM2635 1689h16v8h-16zM2571 1697h8v8h-8zM2563 1705h8v8h-8zM2563 1713h8v8h-8zM2563 1729h8v8h-8zM2571 1761h8v8h-8zM2571 1769h8v8h-8zM2571 1777h8v8h-8zM2571 1785h8v8h-8zM2571 1793h8v8h-8zM2563 1817h8v8h-8zM2563 1825h8v8h-8zM2563 1833h8v8h-8zM2563 1841h8v8h-8zM2571 1857h8v8h-8zM2571 1865h16v8h-16zM2555 1873h16v8h-16zM2555 1881h8v8h-8zM2547 1889h8v8h-8zM2555 1905h8v8h-8zM2555 1913h8v8h-8zM2563 1921h8v8h-8zM2571 1929h8v8h-8zM2579 1945h8v8h-8zM2587 1953h8v8h-8zM2587 1961h8v8h-8z"/>
<path fill="#c7ff38" d="M2587 1073h8v8h-8zM2595 1089h8v8h-8zM2635 1105h8v8h-8zM2275 1313h8v8h-8zM2307 1329h8v8h-8zM2323 1337h8v8h-8zM2387 1377h8v8h-8zM2251 1409h8v8h-8zM2427 1417h40v8h-40zM2467 1425h8v8h-8zM2291 1441h8v8h-8zM2331 1449h8v8h-8zM2347 1457h8v8h-8zM2451 1481h8v8h-8zM2403 1497h8v8h-8zM2475 1545h8v8h-8zM2475 1553h8v8h-8zM2483 1561h8v8h-8zM2491 1569h8v8h-8zM2531 1609h8v8h-8zM2547 1609h8v8h-8zM2659 1625h8v8h-8zM2675 1625h8v8h-8zM2531 1633h8v8h-8zM2651 1633h8v8h-8zM2763 1633h8v8h-8zM2699 1641h8v8h-8zM2731 1641h8v8h-8zM2499 1649h8v8h-8zM2667 1673h8v8h-8zM2587 1681h8v8h-8zM2579 1689h32v8h-32zM2651 1689h8v8h-8zM2571 1705h8v8h-8zM2563 1721h8v8h-8zM2571 1745h8v8h-8zM2571 1753h8v8h-8zM2579 1777h8v8h-8zM2579 1785h8v8h-8zM2571 1801h8v8h-8zM2571 1841h8v8h-8zM2571 1849h8v8h-8zM2579 1857h8v8h-8zM2587 1865h8v8h-8zM2571 1873h16v8h-16zM2563 1881h8v8h-8zM2555 1889h8v8h-8zM2555 1897h8v8h-8zM2563 1905h8v8h-8zM2563 1913h8v8h-8zM2571 1921h8v8h-8zM2579 1929h8v8h-8zM2579 1937h8v8h-8zM2587 1945h8v8h-8zM2595 1953h8v8h-8zM2595 1961h8v8h-8z"/>
<path fill="#cfff30" d="M2587 1065h8v8h-8zM2611 1097h8v8h-8zM2643 1105h8v8h-8zM2299 1321h8v8h-8zM2339 1345h8v8h-8zM2371 1361h8v8h-8zM2379 1369h8v8h-8zM2227 1401h8v8h-8zM2411 1409h8v8h-8zM2267 1417h8v8h-8zM2283 1425h8v8h-8zM2467 1433h8v8h-8zM2299 1441h8v8h-8zM2467 1441h8v8h-8zM2363 1465h8v8h-8zM2387 1481h8v8h-8zM2395 1489h8v8h-8zM2419 1505h8v8h-8zM2443 1505h8v8h-8zM2483 1545h24v8h-24zM2483 1553h8v8h-8zM2507 1577h16v8h-16zM2539 1609h8v8h-8zM2531 1617h8v8h-8zM2547 1617h8v8h-8zM2531 1625h8v8h-8zM2667 1625h8v8h-8zM2547 1633h8v8h-8zM2683 1633h8v8h-8zM2771 1633h16v8h-16zM2739 1641h16v8h-16zM2651 1649h8v8h-8zM2667 1681h8v8h-8zM2659 1689h8v8h-8zM2579 1697h56v8h-56zM2579 1761h8v8h-8zM2579 1769h8v8h-8zM2587 1785h8v8h-8zM2579 1793h8v8h-8zM2571 1809h8v8h-8zM2571 1817h8v8h-8zM2571 1825h8v8h-8zM2571 1833h8v8h-8zM2579 1849h8v8h-8zM2587 1857h8v8h-8zM2571 1881h8v8h-8zM2563 1889h8v8h-8zM2563 1897h8v8h-8zM2571 1913h8v8h-8zM2579 1921h8v8h-8zM2587 1929h8v8h-8zM2587 1937h8v8h-8zM2595 1945h8v8h-8zM2603 1953h8v8h-8z"/>
<path fill="#d7ff28" d="M2587 1057h8v8h-8zM2595 1081h8v8h-8zM2603 1089h8v8h-8zM2619 1097h8v8h-8zM2403 1401h8v8h-8zM2259 1409h8v8h-8zM2275 1417h8v8h-8zM2419 1417h8v8h-8zM2291 1433h8v8h-8zM2307 1441h16v8h-16zM2379 1473h8v8h-8zM2435 1505h8v8h-8zM2507 1553h8v8h-8zM2491 1561h8v8h-8zM2499 1569h16v8h-16zM2539 1617h8v8h-8zM2547 1625h8v8h-8zM2651 1641h8v8h-8zM2691 1641h8v8h-8zM2755 1641h8v8h-8zM2707 1649h24v8h-24zM2659 1657h8v8h-8zM2667 1665h8v8h-8zM2635 1697h8v8h-8zM2579 1705h16v8h-16zM2571 1713h8v8h-8zM2571 1737h8v8h-8zM2579 1753h8v8h-8zM2587 1769h8v8h-8zM2587 1777h8v8h-8zM2587 1793h8v8h-8zM2579 1801h8v8h-8zM2579 1841h8v8h-8zM2587 1873h8v8h-8zM2579 1881h8v8h-8zM2571 1889h8v8h-8zM2571 1897h8v8h-8zM2571 1905h8v8h-8zM2579 1913h8v8h-8zM2587 1921h8v8h-8zM2595 1937h8v8h-8zM2603 1945h8v8h-8z"/>
<path fill="#dfff20" d="M2627 1097h8v8h-8zM2291 1321h8v8h-8zM2315 1337h8v8h-8zM2355 1353h8v8h-8zM2219 1393h8v8h-8zM2395 1393h8v8h-8zM2235 1401h24v8h-24zM2291 1425h8v8h-8zM2459 1425h8v8h-8zM2339 1449h8v8h-8zM2355 1457h8v8h-8zM2459 1457h8v8h-8zM2371 1465h8v8h-8zM2451 1473h8v8h-8zM2443 1497h8v8h-8zM2427 1505h8v8h-8zM2491 1553h8v8h-8zM2507 1561h8v8h-8zM2539 1625h8v8h-8zM2539 1633h8v8h-8zM2763 1641h8v8h-8zM2699 1649h8v8h-8zM2731 1649h8v8h-8zM2667 1689h8v8h-8zM2643 1697h8v8h-8zM2595 1705h32v8h-32zM2579 1713h8v8h-8zM2571 1721h8v8h-8zM2571 1729h8v8h-8zM2579 1745h8v8h-8zM2587 1761h8v8h-8zM2595 1777h8v8h-8zM2595 1785h8v8h-8zM2579 1809h8v8h-8zM2579 1817h8v8h-8zM2579 1825h8v8h-8zM2579 1833h8v8h-8zM2587 1849h8v8h-8zM2595 1865h8v8h-8zM2579 1889h8v8h-8zM2579 1897h8v8h-8zM2579 1905h8v8h-8zM2587 1913h8v8h-8zM2595 1929h8v8h-8zM2603 1937h8v8h-8zM2611 1945h8v8h-8zM2611 1953h8v8h-8z"/>
<path fill="#e7ff18" d="M2595 1073h8v8h-8zM2611 1089h8v8h-8zM2635 1097h16v8h-16zM2299 1329h8v8h-8zM2331 1345h8v8h-8zM2211 1385h8v8h-8zM2387 1385h8v8h-8zM2267 1409h8v8h-8zM2283 1417h8v8h-8zM2299 1433h8v8h-8zM2323 1441h8v8h-8zM2387 1473h8v8h-8zM2411 1497h8v8h-8zM2499 1553h8v8h-8zM2499 1561h8v8h-8zM2675 1633h8v8h-8zM2771 1641h16v8h-16zM2739 1649h8v8h-8zM2675 1673h8v8h-8zM2675 1681h8v8h-8zM2651 1697h16v8h-16zM2627 1705h8v8h-8zM2587 1713h32v8h-32zM2579 1737h8v8h-8zM2587 1753h8v8h-8zM2595 1761h8v8h-8zM2595 1769h8v8h-8zM2595 1793h8v8h-8zM2587 1801h8v8h-8zM2587 1841h8v8h-8zM2595 1857h8v8h-8zM2587 1881h8v8h-8zM2587 1905h8v8h-8zM2595 1921h8v8h-8zM2603 1929h8v8h-8zM2611 1937h8v8h-8zM2619 1953h8v8h-8z"/>
<path fill="#efff10" d="M2595 1065h8v8h-8zM2603 1081h8v8h-8zM2283 1321h8v8h-8zM2451 1425h8v8h-8zM2347 1449h8v8h-8zM2459 1449h8v8h-8zM2363 1457h8v8h-8zM2379 1465h8v8h-8zM2395 1481h8v8h-8zM2659 1633h8v8h-8zM2683 1641h8v8h-8zM2787 1641h8v8h-8zM2691 1649h8v8h-8zM2747 1649h16v8h-16zM2699 1657h32v8h-32zM2675 1665h8v8h-8zM2675 1689h8v8h-8zM2667 1697h8v8h-8zM2635 1705h8v8h-8zM2619 1713h8v8h-8zM2579 1721h32v8h-32zM2579 1729h8v8h-8zM2587 1737h8v8h-8zM2587 1745h8v8h-8zM2595 1753h8v8h-8zM2603 1769h8v8h-8zM2603 1777h8v8h-8zM2603 1785h8v8h-8zM2603 1793h8v8h-8zM2595 1801h8v8h-8zM2587 1809h8v8h-8zM2587 1817h8v8h-8zM2587 1825h8v8h-8zM2587 1833h8v8h-8zM2595 1849h8v8h-8zM2595 1873h8v8h-8zM2587 1889h8v8h-8zM2587 1897h8v8h-8zM2595 1913h8v8h-8zM2603 1921h8v8h-8zM2611 1929h8v8h-8zM2619 1937h8v8h-8zM2619 1945h8v8h-8z"/>
<path fill="#f7ff08" d="M2595 1057h8v8h-8zM2619 1089h8v8h-8zM2275 1321h8v8h-8zM2307 1337h8v8h-8zM2347 1353h8v8h-8zM2363 1361h8v8h-8zM2379 1377h8v8h-8zM2259 1401h8v8h-8zM2275 1409h8v8h-8zM2403 1409h8v8h-8zM2299 1425h8v8h-8zM2459 1433h8v8h-8zM2331 1441h8v8h-8zM2459 1441h8v8h-8zM2403 1489h8v8h-8zM2443 1489h8v8h-8zM2667 1633h8v8h-8zM2763 1649h8v8h-8zM2667 1657h8v8h-8zM2691 1657h8v8h-8zM2731 1657h8v8h-8zM2683 1665h8v8h-8zM2683 1673h8v8h-8zM2683 1681h8v8h-8zM2643 1705h16v8h-16zM2627 1713h16v8h-16zM2611 1721h16v8h-16zM2587 1729h32v8h-32zM2595 1737h16v8h-16zM2595 1745h16v8h-16zM2603 1753h8v8h-8zM2603 1761h8v8h-8zM2611 1777h8v8h-8zM2611 1785h8v8h-8zM2603 1801h8v8h-8zM2595 1809h8v8h-8zM2595 1817h8v8h-8zM2595 1825h8v8h-8zM2595 1833h8v8h-8zM2595 1841h8v8h-8zM2603 1857h8v8h-8zM2603 1865h8v8h-8zM2595 1881h8v8h-8zM2595 1897h8v8h-8zM2595 1905h8v8h-8zM2603 1913h8v8h-8zM2611 1921h8v8h-8zM2619 1929h8v8h-8zM2627 1945h8v8h-8z"/>
<path fill="#ffff00" d="M2603 1073h8v8h-8zM2611 1081h8v8h-8zM2627 1089h16v8h-16zM2323 1345h8v8h-8zM2371 1369h8v8h-8zM2227 1393h8v8h-8zM2395 1401h8v8h-8zM2291 1417h8v8h-8zM2411 1417h8v8h-8zM2427 1425h24v8h-24zM2307 1433h8v8h-8zM2451 1465h8v8h-8zM2419 1497h8v8h-8zM2435 1497h8v8h-8zM2659 1649h8v8h-8zM2683 1649h8v8h-8zM2771 1649h16v8h-16zM2675 1657h16v8h-16zM2739 1657h8v8h-8zM2691 1665h32v8h-32zM2683 1689h8v8h-8zM2675 1697h8v8h-8zM2659 1705h8v8h-8zM2643 1713h8v8h-8zM2627 1721h8v8h-8zM2619 1729h8v8h-8zM2611 1737h16v8h-16zM2611 1745h8v8h-8zM2611 1753h8v8h-8zM2611 1761h8v8h-8zM2611 1769h8v8h-8zM2619 1777h8v8h-8zM2619 1785h8v8h-8zM2611 1793h8v8h-8zM2611 1801h8v8h-8zM2603 1809h8v8h-8zM2603 1817h8v8h-8zM2603 1841h8v8h-8zM2603 1849h8v8h-8zM2603 1873h8v8h-8zM2595 1889h8v8h-8zM2603 1905h8v8h-8zM2611 1913h8v8h-8zM2619 1921h8v8h-8zM2627 1929h8v8h-8zM2627 1937h8v8h-8zM2635 1945h8v8h-8z"/>
<path fill="#fff700" d="M2643 1089h8v8h-8zM2291 1329h8v8h-8zM2339 1353h8v8h-8zM2219 1385h8v8h-8zM2387 1393h8v8h-8zM2355 1449h8v8h-8zM2371 1457h8v8h-8zM2387 1465h8v8h-8zM2395 1473h8v8h-8zM2427 1497h8v8h-8zM2659 1641h8v8h-8zM2675 1641h8v8h-8zM2675 1649h8v8h-8zM2787 1649h8v8h-8zM2747 1657h16v8h-16zM2723 1665h8v8h-8zM2691 1673h16v8h-16zM2691 1681h8v8h-8zM2667 1705h8v8h-8zM2651 1713h16v8h-16zM2635 1721h16v8h-16zM2627 1729h16v8h-16zM2627 1737h8v8h-8zM2619 1745h8v8h-8zM2619 1753h8v8h-8zM2619 1761h8v8h-8zM2619 1769h8v8h-8zM2627 1777h8v8h-8zM2627 1785h8v8h-8zM2619 1793h16v8h-16zM2619 1801h8v8h-8zM2611 1809h8v8h-8zM2611 1817h8v8h-8zM2603 1825h8v8h-8zM2603 1833h8v8h-8zM2611 1841h8v8h-8zM2611 1849h8v8h-8zM2611 1857h8v8h-8zM2611 1865h8v8h-8zM2603 1881h8v8h-8zM2603 1889h8v8h-8zM2603 1897h8v8h-8zM2611 1905h8v8h-8zM2619 1913h8v8h-8zM2627 1921h8v8h-8zM2635 1929h8v8h-8zM2635 1937h8v8h-8z"/>
<path fill="#ffef00" d="M2603 1065h8v8h-8zM2619 1081h8v8h-8zM2243 1393h16v8h-16zM2267 1401h8v8h-8zM2283 1409h8v8h-8zM2419 1425h8v8h-8zM2315 1433h8v8h-8zM2339 1441h8v8h-8zM2443 1481h8v8h-8zM2667 1649h8v8h-8zM2763 1657h8v8h-8zM2731 1665h16v8h-16zM2707 1673h8v8h-8zM2699 1681h8v8h-8zM2691 1689h8v8h-8zM2683 1697h8v8h-8zM2675 1705h8v8h-8zM2667 1713h8v8h-8zM2651 1721h8v8h-8zM2643 1729h8v8h-8zM2635 1737h8v8h-8zM2627 1745h16v8h-16zM2627 1753h8v8h-8zM2627 1761h8v8h-8zM2627 1769h16v8h-16zM2635 1777h8v8h-8zM2635 1785h8v8h-8zM2635 1793h8v8h-8zM2627 1801h8v8h-8zM2619 1809h8v8h-8zM2619 1817h8v8h-8zM2611 1825h16v8h-16zM2611 1833h16v8h-16zM2619 1841h8v8h-8zM2619 1849h8v8h-8zM2619 1857h8v8h-8zM2619 1865h8v8h-8zM2611 1873h8v8h-8zM2611 1881h8v8h-8zM2611 1889h8v8h-8zM2611 1897h8v8h-8zM2619 1905h8v8h-8zM2627 1913h8v8h-8zM2635 1921h8v8h-8zM2643 1929h8v8h-8zM2643 1937h8v8h-8z"/>
<path fill="#ffe700" d="M2603 1057h8v8h-8zM2611 1073h8v8h-8zM2627 1081h8v8h-8zM2283 1329h8v8h-8zM2299 1337h8v8h-8zM2315 1345h8v8h-8zM2355 1361h8v8h-8zM2379 1385h8v8h-8zM2235 1393h8v8h-8zM2451 1433h8v8h-8zM2379 1457h8v8h-8zM2403 1481h8v8h-8zM2411 1489h8v8h-8zM2667 1641h8v8h-8zM2771 1657h24v8h-24zM2747 1665h8v8h-8zM2715 1673h16v8h-16zM2707 1681h8v8h-8zM2691 1697h8v8h-8zM2683 1705h8v8h-8zM2675 1713h8v8h-8zM2659 1721h8v8h-8zM2651 1729h8v8h-8zM2643 1737h8v8h-8zM2643 1745h8v8h-8zM2635 1753h8v8h-8zM2635 1761h8v8h-8zM2643 1769h8v8h-8zM2643 1777h8v8h-8zM2643 1785h8v8h-8zM2643 1793h8v8h-8zM2635 1801h8v8h-8zM2627 1809h8v8h-8zM2627 1817h8v8h-8zM2627 1825h8v8h-8zM2627 1833h8v8h-8zM2627 1841h8v8h-8zM2627 1849h8v8h-8zM2627 1857h8v8h-8zM2627 1865h8v8h-8zM2619 1873h8v8h-8zM2619 1881h8v8h-8zM2619 1889h8v8h-8zM2619 1897h16v8h-16zM2627 1905h16v8h-16zM2635 1913h8v8h-8zM2643 1921h8v8h-8zM2651 1929h8v8h-8zM2651 1937h8v8h-8z"/>
<path fill="#ffdf00" d="M2635 1081h8v8h-8zM2331 1353h8v8h-8zM2395 1409h8v8h-8zM2299 1417h8v8h-8zM2307 1425h8v8h-8zM2323 1433h8v8h-8zM2363 1449h8v8h-8zM2387 1457h8v8h-8zM2451 1457h8v8h-8zM2395 1465h8v8h-8zM2755 1665h8v8h-8zM2731 1673h8v8h-8zM2715 1681h8v8h-8zM2699 1689h8v8h-8zM2683 1713h8v8h-8zM2667 1721h16v8h-16zM2659 1729h8v8h-8zM2651 1737h8v8h-8zM2651 1745h8v8h-8zM2643 1753h8v8h-8zM2643 1761h8v8h-8zM2651 1777h8v8h-8zM2651 1785h8v8h-8zM2643 1801h8v8h-8zM2635 1809h8v8h-8zM2635 1817h8v8h-8zM2635 1825h8v8h-8zM2635 1833h8v8h-8zM2635 1841h16v8h-16zM2635 1849h16v8h-16zM2635 1857h8v8h-8zM2635 1865h8v8h-8zM2627 1873h16v8h-16zM2627 1881h8v8h-8zM2627 1889h8v8h-8zM2635 1897h8v8h-8zM2643 1905h8v8h-8zM2643 1913h8v8h-8zM2651 1921h8v8h-8zM2659 1937h8v8h-8z"/>
<path fill="#ffd700" d="M2611 1065h8v8h-8zM2619 1073h8v8h-8zM2643 1081h8v8h-8zM2275 1329h8v8h-8zM2227 1385h8v8h-8zM2259 1393h8v8h-8zM2275 1401h8v8h-8zM2387 1401h8v8h-8zM2403 1417h8v8h-8zM2411 1425h8v8h-8zM2347 1441h8v8h-8zM2451 1441h8v8h-8zM2451 1449h8v8h-8zM2435 1489h8v8h-8zM2763 1665h16v8h-16zM2739 1673h8v8h-8zM2723 1681h8v8h-8zM2707 1689h8v8h-8zM2699 1697h8v8h-8zM2691 1705h8v8h-8zM2683 1721h8v8h-8zM2667 1729h16v8h-16zM2659 1737h8v8h-8zM2659 1745h8v8h-8zM2651 1753h8v8h-8zM2651 1761h8v8h-8zM2651 1769h8v8h-8zM2651 1793h8v8h-8zM2643 1809h8v8h-8zM2643 1817h8v8h-8zM2643 1825h8v8h-8zM2643 1833h8v8h-8zM2643 1857h8v8h-8zM2643 1865h8v8h-8zM2635 1881h8v8h-8zM2635 1889h8v8h-8zM2643 1897h8v8h-8zM2651 1905h8v8h-8zM2651 1913h8v8h-8zM2659 1921h8v8h-8zM2659 1929h8v8h-8z"/>
<path fill="#ffcf00" d="M2611 1057h8v8h-8zM2627 1073h8v8h-8zM2291 1337h8v8h-8zM2363 1369h8v8h-8zM2371 1377h8v8h-8zM2291 1409h8v8h-8zM2443 1433h8v8h-8zM2371 1449h8v8h-8zM2403 1473h8v8h-8zM2443 1473h8v8h-8zM2779 1665h24v8h-24zM2747 1673h16v8h-16zM2731 1681h8v8h-8zM2715 1689h8v8h-8zM2707 1697h8v8h-8zM2699 1705h8v8h-8zM2691 1713h8v8h-8zM2683 1729h8v8h-8zM2667 1737h16v8h-16zM2667 1745h8v8h-8zM2659 1753h8v8h-8zM2659 1761h8v8h-8zM2659 1769h8v8h-8zM2659 1777h8v8h-8zM2659 1785h8v8h-8zM2651 1801h8v8h-8zM2651 1809h8v8h-8zM2651 1833h8v8h-8zM2651 1841h8v8h-8zM2651 1849h8v8h-8zM2651 1857h8v8h-8zM2651 1865h8v8h-8zM2643 1873h8v8h-8zM2643 1881h8v8h-8zM2643 1889h8v8h-8zM2651 1897h8v8h-8zM2659 1913h8v8h-8zM2667 1929h8v8h-8z"/>
<path fill="#ffc700" d="M2611 1049h8v8h-8zM2619 1065h8v8h-8zM2635 1073h8v8h-8zM2347 1361h8v8h-8zM2379 1393h8v8h-8zM2331 1433h8v8h-8zM2355 1441h8v8h-8zM2395 1457h8v8h-8zM2419 1489h8v8h-8zM2763 1673h8v8h-8zM2739 1681h8v8h-8zM2723 1689h8v8h-8zM2715 1697h8v8h-8zM2707 1705h8v8h-8zM2699 1713h8v8h-8zM2691 1721h8v8h-8zM2675 1745h8v8h-8zM2667 1753h8v8h-8zM2667 1761h8v8h-8zM2667 1769h8v8h-8zM2667 1777h8v8h-8zM2659 1793h8v8h-8zM2659 1801h8v8h-8zM2651 1817h8v8h-8zM2651 1825h8v8h-8zM2651 1873h8v8h-8zM2651 1881h8v8h-8zM2651 1889h8v8h-8zM2659 1905h8v8h-8zM2667 1913h8v8h-8zM2667 1921h8v8h-8zM2675 1929h8v8h-8z"/>
<path fill="#ffbf00" d="M2643 1073h8v8h-8zM2307 1345h8v8h-8zM2323 1353h8v8h-8zM2267 1393h8v8h-8zM2283 1401h8v8h-8zM2315 1425h8v8h-8zM2419 1433h24v8h-24zM2379 1449h8v8h-8zM2403 1465h8v8h-8zM2427 1489h8v8h-8zM2771 1673h32v8h-32zM2747 1681h16v8h-16zM2731 1689h8v8h-8zM2723 1697h8v8h-8zM2715 1705h8v8h-8zM2707 1713h8v8h-8zM2699 1721h8v8h-8zM2691 1729h8v8h-8zM2683 1737h8v8h-8zM2683 1745h8v8h-8zM2675 1753h8v8h-8zM2675 1761h8v8h-8zM2667 1785h8v8h-8zM2667 1793h8v8h-8zM2659 1809h8v8h-8zM2659 1817h8v8h-8zM2659 1825h8v8h-8zM2659 1833h8v8h-8zM2659 1841h8v8h-8zM2659 1849h8v8h-8zM2659 1857h8v8h-8zM2659 1865h8v8h-8zM2659 1873h8v8h-8zM2659 1881h8v8h-8zM2659 1889h8v8h-8zM2659 1897h8v8h-8zM2667 1905h8v8h-8zM2675 1921h8v8h-8z"/>
<path fill="#ffb700" d="M2619 1057h8v8h-8zM2627 1065h8v8h-8zM2283 1337h8v8h-8zM2227 1377h8v8h-8zM2235 1385h8v8h-8zM2387 1449h8v8h-8zM2443 1465h8v8h-8zM2411 1481h8v8h-8zM2763 1681h8v8h-8zM2739 1689h16v8h-16zM2731 1697h8v8h-8zM2723 1705h8v8h-8zM2707 1721h8v8h-8zM2699 1729h8v8h-8zM2691 1737h8v8h-8zM2691 1745h8v8h-8zM2683 1753h8v8h-8zM2675 1769h8v8h-8zM2675 1777h8v8h-8zM2675 1785h8v8h-8zM2667 1801h8v8h-8zM2667 1897h8v8h-8zM2675 1913h8v8h-8zM2683 1921h8v8h-8z"/>
<path fill="#ffaf00" d="M2619 1049h8v8h-8zM2627 1057h8v8h-8zM2635 1065h8v8h-8zM2339 1361h8v8h-8zM2387 1409h8v8h-8zM2307 1417h8v8h-8zM2395 1417h8v8h-8zM2403 1425h8v8h-8zM2339 1433h8v8h-8zM2363 1441h8v8h-8zM2435 1481h8v8h-8zM2771 1681h32v8h-32zM2755 1689h8v8h-8zM2739 1697h8v8h-8zM2731 1705h8v8h-8zM2715 1713h8v8h-8zM2707 1729h8v8h-8zM2699 1737h8v8h-8zM2691 1753h8v8h-8zM2683 1761h8v8h-8zM2683 1769h8v8h-8zM2683 1777h8v8h-8zM2683 1785h8v8h-8zM2675 1793h8v8h-8zM2675 1801h8v8h-8zM2667 1809h8v8h-8zM2667 1817h8v8h-8zM2667 1825h8v8h-8zM2667 1833h8v8h-8zM2667 1841h8v8h-8zM2667 1849h8v8h-8zM2667 1857h8v8h-8zM2667 1865h8v8h-8zM2667 1873h8v8h-8zM2667 1881h8v8h-8zM2667 1889h8v8h-8zM2675 1897h8v8h-8zM2675 1905h8v8h-8zM2683 1913h8v8h-8zM2691 1921h8v8h-8z"/>
<path fill="#ffa700" d="M2275 1337h8v8h-8zM2243 1385h8v8h-8zM2371 1385h8v8h-8zM2275 1393h8v8h-8zM2379 1401h8v8h-8zM2299 1409h8v8h-8zM2411 1433h8v8h-8zM2443 1441h8v8h-8zM2395 1449h8v8h-8zM2403 1457h8v8h-8zM2443 1457h8v8h-8zM2763 1689h16v8h-16zM2747 1697h16v8h-16zM2739 1705h8v8h-8zM2723 1713h16v8h-16zM2715 1721h8v8h-8zM2707 1737h8v8h-8zM2699 1745h8v8h-8zM2699 1753h8v8h-8zM2691 1761h16v8h-16zM2691 1769h16v8h-16zM2691 1777h16v8h-16zM2691 1785h8v8h-8zM2683 1793h8v8h-8zM2683 1801h8v8h-8zM2675 1809h8v8h-8zM2675 1817h8v8h-8zM2675 1825h8v8h-8zM2675 1833h8v8h-8zM2675 1889h8v8h-8zM2683 1905h8v8h-8zM2691 1913h8v8h-8z"/>
<path fill="#ff9f00" d="M2627 1049h8v8h-8zM2635 1057h8v8h-8zM2299 1345h8v8h-8zM2315 1353h8v8h-8zM2355 1369h8v8h-8zM2323 1425h8v8h-8zM2347 1433h8v8h-8zM2371 1441h8v8h-8zM2443 1449h8v8h-8zM2411 1473h8v8h-8zM2779 1689h24v8h-24zM2763 1697h8v8h-8zM2747 1705h8v8h-8zM2739 1713h8v8h-8zM2723 1721h16v8h-16zM2715 1729h16v8h-16zM2715 1737h8v8h-8zM2707 1745h8v8h-8zM2707 1753h8v8h-8zM2707 1761h8v8h-8zM2707 1769h8v8h-8zM2707 1777h8v8h-8zM2699 1785h8v8h-8zM2691 1793h8v8h-8zM2691 1801h8v8h-8zM2683 1809h8v8h-8zM2683 1817h8v8h-8zM2683 1825h8v8h-8zM2675 1841h8v8h-8zM2675 1849h8v8h-8zM2675 1857h8v8h-8zM2675 1865h8v8h-8zM2675 1873h8v8h-8zM2675 1881h8v8h-8zM2683 1897h8v8h-8zM2691 1905h8v8h-8zM2699 1913h8v8h-8zM2699 1921h8v8h-8z"/>
<path fill="#ff9700" d="M2635 1049h8v8h-8zM2331 1361h8v8h-8zM2363 1377h8v8h-8zM2251 1385h8v8h-8zM2291 1401h8v8h-8zM2379 1441h8v8h-8zM2403 1449h8v8h-8zM2771 1697h40v8h-40zM2755 1705h16v8h-16zM2747 1713h16v8h-16zM2739 1721h8v8h-8zM2731 1729h8v8h-8zM2723 1737h8v8h-8zM2715 1745h8v8h-8zM2715 1753h8v8h-8zM2715 1761h8v8h-8zM2715 1769h8v8h-8zM2707 1785h8v8h-8zM2699 1793h16v8h-16zM2699 1801h8v8h-8zM2691 1809h8v8h-8zM2691 1817h8v8h-8zM2691 1825h8v8h-8zM2683 1833h8v8h-8zM2683 1841h8v8h-8zM2683 1849h8v8h-8zM2683 1881h8v8h-8zM2683 1889h8v8h-8zM2691 1897h8v8h-8zM2699 1905h8v8h-8z"/>
<path fill="#ff8f00" d="M2235 1377h8v8h-8zM2371 1393h8v8h-8zM2395 1425h8v8h-8zM2403 1433h8v8h-8zM2387 1441h16v8h-16zM2411 1465h8v8h-8zM2435 1473h8v8h-8zM2419 1481h8v8h-8zM2771 1705h40v8h-40zM2763 1713h16v8h-16zM2747 1721h24v8h-24zM2739 1729h16v8h-16zM2731 1737h8v8h-8zM2723 1745h8v8h-8zM2723 1753h8v8h-8zM2715 1777h8v8h-8zM2715 1785h8v8h-8zM2707 1801h8v8h-8zM2699 1809h8v8h-8zM2699 1817h8v8h-8zM2699 1825h8v8h-8zM2691 1833h16v8h-16zM2691 1841h8v8h-8zM2683 1857h8v8h-8zM2683 1865h8v8h-8zM2683 1873h8v8h-8zM2691 1889h8v8h-8zM2699 1897h8v8h-8zM2707 1905h8v8h-8zM2707 1913h8v8h-8z"/>
<path fill="#ff8700" d="M2291 1345h8v8h-8zM2315 1417h8v8h-8zM2387 1417h8v8h-8zM2331 1425h8v8h-8zM2355 1433h8v8h-8zM2395 1433h8v8h-8zM2403 1441h40v8h-40zM2411 1457h8v8h-8zM2427 1481h8v8h-8zM2779 1713h32v8h-32zM2771 1721h24v8h-24zM2755 1729h24v8h-24zM2739 1737h24v8h-24zM2731 1745h16v8h-16zM2731 1753h8v8h-8zM2723 1761h8v8h-8zM2723 1769h8v8h-8zM2723 1777h8v8h-8zM2715 1793h8v8h-8zM2715 1801h8v8h-8zM2707 1809h8v8h-8zM2707 1817h8v8h-8zM2707 1825h8v8h-8zM2707 1833h8v8h-8zM2699 1841h8v8h-8zM2691 1849h8v8h-8zM2691 1857h8v8h-8zM2691 1865h8v8h-8zM2691 1873h8v8h-8zM2691 1881h8v8h-8zM2699 1889h8v8h-8zM2707 1897h8v8h-8zM2715 1905h8v8h-8zM2715 1913h8v8h-8z"/>
<path fill="#ff8000" d="M2259 1385h16v8h-16zM2283 1393h8v8h-8zM2379 1409h8v8h-8zM2411 1449h8v8h-8zM2435 1465h8v8h-8zM2795 1721h16v8h-16zM2779 1729h24v8h-24zM2763 1737h24v8h-24zM2747 1745h24v8h-24zM2739 1753h8v8h-8zM2731 1761h8v8h-8zM2731 1769h8v8h-8zM2723 1785h8v8h-8zM2723 1793h8v8h-8zM2715 1809h8v8h-8zM2715 1817h8v8h-8zM2715 1825h8v8h-8zM2715 1833h8v8h-8zM2707 1841h8v8h-8zM2699 1849h8v8h-8zM2699 1857h8v8h-8zM2699 1881h8v8h-8zM2707 1889h8v8h-8zM2715 1897h8v8h-8z"/>
<path fill="#ff7800" d="M2283 1345h8v8h-8zM2323 1361h8v8h-8zM2347 1369h8v8h-8zM2307 1409h8v8h-8zM2387 1433h8v8h-8zM2435 1449h8v8h-8zM2435 1457h8v8h-8zM2803 1729h16v8h-16zM2787 1737h24v8h-24zM2771 1745h16v8h-16zM2747 1753h32v8h-32zM2739 1761h16v8h-16zM2739 1769h8v8h-8zM2731 1777h8v8h-8zM2731 1785h8v8h-8zM2731 1793h8v8h-8zM2723 1801h8v8h-8zM2723 1809h8v8h-8zM2723 1817h8v8h-8zM2723 1825h8v8h-8zM2723 1833h8v8h-8zM2715 1841h8v8h-8zM2707 1849h8v8h-8zM2707 1857h8v8h-8zM2699 1865h8v8h-8zM2699 1873h8v8h-8zM2707 1881h8v8h-8zM2715 1889h8v8h-8zM2723 1897h8v8h-8zM2723 1905h8v8h-8z"/>
<path fill="#ff7000" d="M2307 1353h8v8h-8zM2243 1377h8v8h-8zM2299 1401h8v8h-8zM2371 1401h8v8h-8zM2339 1425h8v8h-8zM2387 1425h8v8h-8zM2363 1433h8v8h-8zM2419 1449h8v8h-8zM2419 1473h8v8h-8zM2811 1737h8v8h-8zM2787 1745h24v8h-24zM2779 1753h16v8h-16zM2755 1761h32v8h-32zM2747 1769h24v8h-24zM2739 1777h16v8h-16zM2739 1785h8v8h-8zM2731 1801h8v8h-8zM2731 1809h8v8h-8zM2731 1817h8v8h-8zM2731 1825h8v8h-8zM2723 1841h8v8h-8zM2715 1849h16v8h-16zM2715 1857h8v8h-8zM2707 1865h8v8h-8zM2707 1873h8v8h-8zM2715 1881h8v8h-8zM2723 1889h8v8h-8zM2731 1897h8v8h-8zM2731 1905h8v8h-8z"/>
<path fill="#ff6800" d="M2275 1345h8v8h-8zM2363 1385h8v8h-8zM2323 1417h8v8h-8zM2371 1433h16v8h-16zM2427 1449h8v8h-8zM2419 1457h8v8h-8zM2419 1465h8v8h-8zM2811 1745h8v8h-8zM2795 1753h24v8h-24zM2787 1761h16v8h-16zM2771 1769h16v8h-16zM2755 1777h24v8h-24zM2747 1785h16v8h-16zM2739 1793h16v8h-16zM2739 1801h8v8h-8zM2739 1809h8v8h-8zM2739 1817h8v8h-8zM2731 1833h8v8h-8zM2731 1841h8v8h-8zM2731 1849h8v8h-8zM2723 1857h8v8h-8zM2715 1865h16v8h-16zM2715 1873h16v8h-16zM2723 1881h8v8h-8zM2731 1889h8v8h-8zM2739 1905h8v8h-8z"/>
<path fill="#ff6000" d="M2267 1345h8v8h-8zM2355 1377h8v8h-8zM2275 1385h8v8h-8zM2427 1457h8v8h-8zM2427 1465h8v8h-8zM2427 1473h8v8h-8zM2803 1761h16v8h-16zM2787 1769h24v8h-24zM2779 1777h16v8h-16zM2763 1785h24v8h-24zM2755 1793h24v8h-24zM2747 1801h16v8h-16zM2747 1809h8v8h-8zM2747 1817h8v8h-8zM2739 1825h16v8h-16zM2739 1833h16v8h-16zM2739 1841h16v8h-16zM2739 1849h8v8h-8zM2731 1857h16v8h-16zM2731 1865h8v8h-8zM2731 1873h8v8h-8zM2731 1881h8v8h-8zM2739 1889h8v8h-8zM2739 1897h16v8h-16z"/>
<path fill="#ff5800" d="M2339 1369h8v8h-8zM2291 1393h8v8h-8zM2347 1425h8v8h-8zM2811 1769h8v8h-8zM2795 1777h24v8h-24zM2787 1785h24v8h-24zM2779 1793h24v8h-24zM2763 1801h24v8h-24zM2755 1809h24v8h-24zM2755 1817h16v8h-16zM2755 1825h8v8h-8zM2755 1833h8v8h-8zM2755 1841h8v8h-8zM2747 1849h16v8h-16zM2747 1857h16v8h-16zM2739 1865h16v8h-16zM2739 1873h16v8h-16zM2739 1881h16v8h-16zM2747 1889h8v8h-8zM2755 1897h8v8h-8z"/>
<path fill="#ff5000" d="M2315 1361h8v8h-8zM2331 1369h8v8h-8zM2251 1377h8v8h-8zM2315 1409h8v8h-8zM2331 1417h8v8h-8zM2379 1417h8v8h-8zM2379 1425h8v8h-8zM2819 1777h8v8h-8zM2811 1785h16v8h-16zM2803 1793h16v8h-16zM2787 1801h24v8h-24zM2779 1809h24v8h-24zM2771 1817h16v8h-16zM2763 1825h16v8h-16zM2763 1833h16v8h-16zM2763 1841h16v8h-16zM2763 1849h16v8h-16zM2763 1857h8v8h-8zM2755 1865h16v8h-16zM2755 1873h16v8h-16zM2755 1881h16v8h-16zM2755 1889h16v8h-16z"/>
<path fill="#ff4800" d="M2363 1393h8v8h-8zM2307 1401h8v8h-8zM2355 1425h8v8h-8zM2819 1793h8v8h-8zM2811 1801h16v8h-16zM2803 1809h16v8h-16zM2787 1817h24v8h-24zM2779 1825h24v8h-24zM2779 1833h8v8h-8zM2779 1841h8v8h-8zM2771 1857h8v8h-8zM2771 1865h8v8h-8zM2771 1873h8v8h-8zM2771 1881h8v8h-8zM2771 1889h8v8h-8z"/>
<path fill="#ff4000" d="M2299 1353h8v8h-8zM2371 1409h8v8h-8zM2819 1809h8v8h-8zM2811 1817h16v8h-16zM2803 1825h16v8h-16zM2787 1833h24v8h-24zM2787 1841h8v8h-8zM2779 1849h8v8h-8zM2779 1857h8v8h-8zM2779 1865h8v8h-8zM2779 1873h8v8h-8zM2779 1881h8v8h-8zM2779 1889h8v8h-8z"/>
<path fill="#ff3800" d="M2323 1369h8v8h-8zM2283 1385h8v8h-8zM2299 1393h8v8h-8zM2323 1409h8v8h-8zM2339 1417h8v8h-8zM2371 1425h8v8h-8zM2819 1825h8v8h-8zM2811 1833h16v8h-16zM2795 1841h24v8h-24zM2787 1849h16v8h-16zM2787 1873h8v8h-8zM2787 1881h8v8h-8z"/>
<path fill="#ff3000" d="M2251 1369h8v8h-8zM2259 1377h8v8h-8zM2355 1385h8v8h-8zM2363 1401h8v8h-8zM2363 1425h8v8h-8zM2819 1841h8v8h-8zM2803 1849h24v8h-24zM2787 1857h40v8h-40zM2787 1865h24v8h-24zM2795 1873h16v8h-16zM2795 1881h16v8h-16z"/>
<path fill="#ff2800" d="M2267 1353h32v8h-32zM2347 1377h8v8h-8zM2315 1401h8v8h-8zM2347 1417h8v8h-8zM2811 1865h16v8h-16zM2811 1873h16v8h-16z"/>
<path fill="#ff2000" d="M2267 1377h8v8h-8zM2331 1409h8v8h-8zM2371 1417h8v8h-8z"/>
<path fill="#ff1800" d="M2307 1361h8v8h-8zM2315 1369h8v8h-8zM2291 1385h8v8h-8zM2307 1393h8v8h-8zM2355 1393h8v8h-8zM2363 1409h8v8h-8zM2355 1417h8v8h-8z"/>
<path fill="#ff1000" d="M2259 1369h8v8h-8zM2275 1377h8v8h-8zM2323 1401h8v8h-8zM2339 1409h8v8h-8zM2363 1417h8v8h-8z"/>
<path fill="#ff0800" d="M2331 1377h16v8h-16zM2315 1393h8v8h-8zM2355 1401h8v8h-8z"/>
<path fill="#ff0000" d="M2323 1377h8v8h-8zM2299 1385h8v8h-8zM2347 1385h8v8h-8zM2347 1409h16v8h-16z"/>
<path fill="#f70000" d="M2267 1369h8v8h-8zM2331 1401h8v8h-8z"/>
<path fill="#ef0000" d="M2275 1361h8v8h-8zM2283 1377h8v8h-8zM2315 1377h8v8h-8zM2307 1385h16v8h-16zM2323 1393h8v8h-8zM2347 1393h8v8h-8zM2339 1401h16v8h-16z"/>
<path fill="#e70000" d="M2275 1369h8v8h-8zM2307 1369h8v8h-8zM2323 1385h8v8h-8z"/>
<path fill="#df0000" d="M2283 1361h8v8h-8zM2299 1361h8v8h-8zM2307 1377h8v8h-8zM2331 1385h16v8h-16zM2331 1393h16v8h-16z"/>
<path fill="#d70000" d="M2291 1377h8v8h-8z"/>
<path fill="#cf0000" d="M2291 1361h8v8h-8zM2283 1369h8v8h-8zM2299 1377h8v8h-8z"/>
<path fill="#bf0000" d="M2299 1369h8v8h-8z"/>
<path fill="#b70000" d="M2291 1369h8v8h-8z"/>
</g></g>
<g fill="none" stroke="#000" stroke-width="3.9" stroke-linejoin="round" stroke-linecap="round">
<path d="M2231.5 1392.9L2266.8 1400.6L2299.4 1408.6L2337.2 1423.3L2380.5 1445.1L2436.7 1464.0L2483.2 1488.0L2534.8 1508.8L2585.4 1526.9L2641.8 1544.3L2687.4 1538.2L2729.6 1533.5M2206.2 1402.8L2240.8 1411.5L2274.0 1422.3L2308.8 1437.2L2338.7 1453.8L2353.6 1467.7L2384.4 1471.3L2427.7 1483.9L2472.0 1508.5L2528.5 1540.7L2584.0 1557.3L2628.8 1574.7L2678.7 1585.5L2747.5 1568.4M2278.7 1374.3L2317.0 1389.8L2356.7 1406.5L2399.6 1424.9L2444.4 1444.0L2490.2 1462.9L2540.5 1482.0L2585.0 1496.1L2630.5 1505.9L2672.5 1507.9L2710.0 1499.9M2317.0 1389.8L2299.4 1408.6L2274.0 1422.3M2356.7 1406.5L2337.2 1423.3L2308.8 1437.2M2399.6 1424.9L2380.5 1445.1L2338.7 1453.8M2444.4 1444.0L2436.7 1464.0L2427.7 1483.9M2490.2 1462.9L2483.2 1488.0L2472.0 1508.5M2540.5 1482.0L2534.8 1508.8L2528.5 1540.7M2585.0 1496.1L2585.4 1526.9L2584.0 1557.3M2630.5 1505.9L2641.8 1544.3L2628.8 1574.7M2672.5 1507.9L2687.4 1538.2L2678.7 1585.5M2258.2 1382.4L2317.0 1389.8M2240.8 1411.5L2266.8 1400.6L2317.0 1389.8M2380.5 1445.1L2384.4 1471.3M1766.9 1575.0L1780.3 1580.6L1793.8 1587.0L1807.2 1594.0L1820.6 1601.7L1833.8 1610.1L1847.0 1619.2L1860.0 1628.9L1872.9 1639.3L1885.6 1650.2L1898.1 1661.8L1910.4 1673.9L1922.4 1686.6L1934.3 1699.8L1945.8 1713.6L1957.0 1727.8L1968.0 1742.5L1978.6 1757.7L1988.9 1773.2L1998.8 1789.2L2008.3 1805.5L2017.5 1822.2L2026.2 1839.2L2034.5 1856.5L2042.4 1874.1L2049.8 1891.8L2056.8 1909.8L2063.3 1928.0L2069.3 1946.3L2074.9 1964.7L2079.9 1983.2L2084.4 2001.8L2088.4 2020.3L2091.9 2038.9L2094.9 2057.5L2097.3 2075.9L2099.2 2094.3L2100.6 2112.6L2101.4 2130.7L2101.7 2148.6M1794.4 1564.2L1807.9 1569.8L1821.4 1576.2L1834.8 1583.2L1848.1 1590.9L1861.4 1599.3L1874.5 1608.4L1887.6 1618.1L1900.4 1628.5L1913.1 1639.4L1925.6 1651.0L1937.9 1663.1L1950.0 1675.8L1961.8 1689.0L1973.4 1702.8L1984.6 1717.0L1995.5 1731.7L2006.2 1746.9L2016.4 1762.4L2026.3 1778.4L2035.9 1794.7L2045.0 1811.4L2053.7 1828.4L2062.1 1845.7L2069.9 1863.3L2077.4 1881.0L2084.4 1899.0L2090.9 1917.2L2096.9 1935.5L2102.4 1953.9L2107.5 1972.4L2112.0 1991.0L2116.0 2009.5L2119.5 2028.1L2122.4 2046.7L2124.9 2065.1L2126.8 2083.5L2128.1 2101.8L2128.9 2119.9L2129.2 2137.8M1822.0 1553.4L1835.4 1559.0L1848.9 1565.4L1862.3 1572.4L1875.7 1580.1L1888.9 1588.5L1902.1 1597.6L1915.1 1607.3L1928.0 1617.7L1940.7 1628.6L1953.2 1640.2L1965.5 1652.3L1977.6 1665.0L1989.4 1678.2L2000.9 1692.0L2012.2 1706.2L2023.1 1720.9L2033.7 1736.1L2044.0 1751.6L2053.9 1767.6L2063.4 1783.9L2072.6 1800.6L2081.3 1817.6L2089.6 1834.9L2097.5 1852.5L2104.9 1870.2L2111.9 1888.2L2118.4 1906.4L2124.4 1924.7L2130.0 1943.1L2135.0 1961.6L2139.5 1980.2L2143.5 1998.7L2147.0 2017.3L2150.0 2035.9L2152.4 2054.3L2154.3 2072.7L2155.7 2091.0L2156.5 2109.1L2156.8 2127.0M1849.5 1542.6L1863.0 1548.2L1876.5 1554.6L1889.9 1561.6L1903.2 1569.3L1916.5 1577.7L1929.6 1586.8L1942.7 1596.5L1955.5 1606.9L1968.2 1617.8L1980.8 1629.4L1993.0 1641.5L2005.1 1654.2L2016.9 1667.4L2028.5 1681.2L2039.7 1695.4L2050.7 1710.1L2061.3 1725.3L2071.5 1740.8L2081.4 1756.8L2091.0 1773.1L2100.1 1789.8L2108.9 1806.8L2117.2 1824.1L2125.1 1841.7L2132.5 1859.4L2139.5 1877.4L2146.0 1895.6L2152.0 1913.9L2157.5 1932.3L2162.6 1950.8L2167.1 1969.4L2171.1 1987.9L2174.6 2006.5L2177.6 2025.1L2180.0 2043.5L2181.9 2061.9L2183.2 2080.2L2184.1 2098.3L2184.3 2116.2M1877.1 1531.8L1890.6 1537.4L1904.0 1543.8L1917.4 1550.8L1930.8 1558.5L1944.0 1566.9L1957.2 1576.0L1970.2 1585.7L1983.1 1596.1L1995.8 1607.0L2008.3 1618.6L2020.6 1630.7L2032.7 1643.4L2044.5 1656.6L2056.0 1670.4L2067.3 1684.6L2078.2 1699.3L2088.8 1714.5L2099.1 1730.0L2109.0 1746.0L2118.5 1762.3L2127.7 1779.0L2136.4 1796.0L2144.7 1813.3L2152.6 1830.9L2160.0 1848.6L2167.0 1866.6L2173.5 1884.8L2179.6 1903.1L2185.1 1921.5L2190.1 1940.0L2194.6 1958.6L2198.7 1977.1L2202.1 1995.7L2205.1 2014.3L2207.5 2032.7L2209.4 2051.1L2210.8 2069.4L2211.6 2087.5L2211.9 2105.4M1904.6 1521.0L1918.1 1526.6L1931.6 1533.0L1945.0 1540.0L1958.3 1547.7L1971.6 1556.1L1984.8 1565.2L1997.8 1574.9L2010.7 1585.3L2023.4 1596.2L2035.9 1607.8L2048.2 1619.9L2060.2 1632.6L2072.0 1645.8L2083.6 1659.6L2094.8 1673.8L2105.8 1688.5L2116.4 1703.7L2126.6 1719.2L2136.6 1735.2L2146.1 1751.5L2155.2 1768.2L2164.0 1785.2L2172.3 1802.5L2180.2 1820.1L2187.6 1837.8L2194.6 1855.8L2201.1 1874.0L2207.1 1892.3L2212.6 1910.7L2217.7 1929.2L2222.2 1947.8L2226.2 1966.3L2229.7 1984.9L2232.7 2003.5L2235.1 2021.9L2237.0 2040.3L2238.3 2058.6L2239.2 2076.7L2239.4 2094.6M1932.2 1510.2L1945.7 1515.8L1959.1 1522.2L1972.5 1529.2L1985.9 1536.9L1999.2 1545.3L2012.3 1554.4L2025.3 1564.1L2038.2 1574.5L2050.9 1585.4L2063.4 1597.0L2075.7 1609.1L2087.8 1621.8L2099.6 1635.0L2111.1 1648.8L2122.4 1663.0L2133.3 1677.7L2143.9 1692.9L2154.2 1708.4L2164.1 1724.4L2173.6 1740.7L2182.8 1757.4L2191.5 1774.4L2199.8 1791.7L2207.7 1809.3L2215.2 1827.0L2222.1 1845.0L2228.6 1863.2L2234.7 1881.5L2240.2 1899.9L2245.2 1918.4L2249.8 1937.0L2253.8 1955.5L2257.3 1974.1L2260.2 1992.7L2262.7 2011.1L2264.5 2029.5L2265.9 2047.8L2266.7 2065.9L2267.0 2083.8M1959.7 1499.4L1973.2 1505.0L1986.7 1511.4L2000.1 1518.4L2013.5 1526.1L2026.7 1534.5L2039.9 1543.6L2052.9 1553.3L2065.8 1563.7L2078.5 1574.6L2091.0 1586.2L2103.3 1598.3L2115.3 1611.0L2127.1 1624.2L2138.7 1638.0L2149.9 1652.2L2160.9 1666.9L2171.5 1682.1L2181.8 1697.6L2191.7 1713.6L2201.2 1729.9L2210.3 1746.6L2219.1 1763.6L2227.4 1780.9L2235.3 1798.5L2242.7 1816.2L2249.7 1834.2L2256.2 1852.4L2262.2 1870.7L2267.8 1889.1L2272.8 1907.6L2277.3 1926.2L2281.3 1944.7L2284.8 1963.3L2287.8 1981.9L2290.2 2000.3L2292.1 2018.7L2293.5 2037.0L2294.3 2055.1L2294.5 2073.0M1987.3 1488.6L2000.8 1494.2L2014.2 1500.6L2027.7 1507.6L2041.0 1515.3L2054.3 1523.7L2067.4 1532.8L2080.4 1542.5L2093.3 1552.9L2106.0 1563.8L2118.5 1575.4L2130.8 1587.5L2142.9 1600.2L2154.7 1613.4L2166.2 1627.2L2177.5 1641.4L2188.4 1656.1L2199.0 1671.3L2209.3 1686.8L2219.2 1702.8L2228.8 1719.1L2237.9 1735.8L2246.6 1752.8L2255.0 1770.1L2262.8 1787.7L2270.3 1805.4L2277.2 1823.4L2283.8 1841.6L2289.8 1859.9L2295.3 1878.3L2300.3 1896.8L2304.9 1915.4L2308.9 1933.9L2312.4 1952.5L2315.3 1971.1L2317.8 1989.5L2319.7 2007.9L2321.0 2026.2L2321.8 2044.3L2322.1 2062.2M2014.9 1477.8L2028.3 1483.4L2041.8 1489.8L2055.2 1496.8L2068.6 1504.5L2081.8 1512.9L2095.0 1522.0L2108.0 1531.7L2120.9 1542.1L2133.6 1553.0L2146.1 1564.6L2158.4 1576.7L2170.4 1589.4L2182.3 1602.6L2193.8 1616.4L2205.0 1630.6L2216.0 1645.3L2226.6 1660.5L2236.9 1676.0L2246.8 1692.0L2256.3 1708.3L2265.5 1725.0L2274.2 1742.0L2282.5 1759.3L2290.4 1776.9L2297.8 1794.6L2304.8 1812.6L2311.3 1830.8L2317.3 1849.1L2322.9 1867.5L2327.9 1886.0L2332.4 1904.6L2336.4 1923.1L2339.9 1941.7L2342.9 1960.3L2345.3 1978.7L2347.2 1997.1L2348.6 2015.4L2349.4 2033.5L2349.7 2051.4M2042.4 1467.0L2055.9 1472.6L2069.4 1479.0L2082.8 1486.0L2096.1 1493.7L2109.4 1502.1L2122.5 1511.2L2135.6 1520.9L2148.4 1531.3L2161.1 1542.2L2173.6 1553.8L2185.9 1565.9L2198.0 1578.6L2209.8 1591.8L2221.4 1605.6L2232.6 1619.8L2243.5 1634.5L2254.2 1649.7L2264.4 1665.2L2274.3 1681.2L2283.9 1697.5L2293.0 1714.2L2301.7 1731.2L2310.1 1748.5L2317.9 1766.1L2325.4 1783.8L2332.4 1801.8L2338.9 1820.0L2344.9 1838.3L2350.4 1856.7L2355.5 1875.2L2360.0 1893.8L2364.0 1912.3L2367.5 1930.9L2370.4 1949.5L2372.9 1967.9L2374.8 1986.3L2376.1 2004.6L2376.9 2022.7L2377.2 2040.6M2070.0 1456.2L2083.4 1461.8L2096.9 1468.2L2110.3 1475.2L2123.7 1482.9L2136.9 1491.3L2150.1 1500.4L2163.1 1510.1L2176.0 1520.5L2188.7 1531.4L2201.2 1543.0L2213.5 1555.1L2225.6 1567.8L2237.4 1581.0L2248.9 1594.8L2260.2 1609.0L2271.1 1623.7L2281.7 1638.9L2292.0 1654.4L2301.9 1670.4L2311.4 1686.7L2320.6 1703.4L2329.3 1720.4L2337.6 1737.7L2345.5 1755.3L2352.9 1773.0L2359.9 1791.0L2366.4 1809.2L2372.4 1827.5L2378.0 1845.9L2383.0 1864.4L2387.5 1883.0L2391.5 1901.5L2395.0 1920.1L2398.0 1938.7L2400.4 1957.1L2402.3 1975.5L2403.7 1993.8L2404.5 2011.9L2404.8 2029.8M2097.5 1445.4L2111.0 1451.0L2124.5 1457.4L2137.9 1464.4L2151.2 1472.1L2164.5 1480.5L2177.6 1489.6L2190.7 1499.3L2203.5 1509.7L2216.2 1520.6L2228.8 1532.2L2241.0 1544.3L2253.1 1557.0L2264.9 1570.2L2276.5 1584.0L2287.7 1598.2L2298.7 1612.9L2309.3 1628.1L2319.5 1643.6L2329.4 1659.6L2339.0 1675.9L2348.1 1692.6L2356.9 1709.6L2365.2 1726.9L2373.1 1744.5L2380.5 1762.2L2387.5 1780.2L2394.0 1798.4L2400.0 1816.7L2405.5 1835.1L2410.6 1853.6L2415.1 1872.2L2419.1 1890.7L2422.6 1909.3L2425.6 1927.9L2428.0 1946.3L2429.9 1964.7L2431.2 1983.0L2432.1 2001.1L2432.3 2019.0M2125.1 1434.6L2138.6 1440.2L2152.0 1446.6L2165.4 1453.6L2178.8 1461.3L2192.0 1469.7L2205.2 1478.8L2218.2 1488.5L2231.1 1498.9L2243.8 1509.8L2256.3 1521.4L2268.6 1533.5L2280.7 1546.2L2292.5 1559.4L2304.0 1573.2L2315.3 1587.4L2326.2 1602.1L2336.8 1617.3L2347.1 1632.8L2357.0 1648.8L2366.5 1665.1L2375.7 1681.8L2384.4 1698.8L2392.7 1716.1L2400.6 1733.7L2408.0 1751.4L2415.0 1769.4L2421.5 1787.6L2427.6 1805.9L2433.1 1824.3L2438.1 1842.8L2442.6 1861.4L2446.7 1879.9L2450.1 1898.5L2453.1 1917.1L2455.5 1935.5L2457.4 1953.9L2458.8 1972.2L2459.6 1990.3L2459.9 2008.2M2152.6 1423.8L2166.1 1429.4L2179.6 1435.8L2193.0 1442.8L2206.3 1450.5L2219.6 1458.9L2232.8 1468.0L2245.8 1477.7L2258.7 1488.1L2271.4 1499.0L2283.9 1510.6L2296.2 1522.7L2308.2 1535.4L2320.0 1548.6L2331.6 1562.4L2342.8 1576.6L2353.8 1591.3L2364.4 1606.5L2374.6 1622.0L2384.6 1638.0L2394.1 1654.3L2403.2 1671.0L2412.0 1688.0L2420.3 1705.3L2428.2 1722.9L2435.6 1740.6L2442.6 1758.6L2449.1 1776.8L2455.1 1795.1L2460.6 1813.5L2465.7 1832.0L2470.2 1850.6L2474.2 1869.1L2477.7 1887.7L2480.7 1906.3L2483.1 1924.7L2485.0 1943.1L2486.3 1961.4L2487.2 1979.5L2487.4 1997.4M2180.2 1413.0L2193.7 1418.6L2207.1 1425.0L2220.5 1432.0L2233.9 1439.7L2247.2 1448.1L2260.3 1457.2L2273.3 1466.9L2286.2 1477.3L2298.9 1488.2L2311.4 1499.8L2323.7 1511.9L2335.8 1524.6L2347.6 1537.8L2359.1 1551.6L2370.4 1565.8L2381.3 1580.5L2391.9 1595.7L2402.2 1611.2L2412.1 1627.2L2421.6 1643.5L2430.8 1660.2L2439.5 1677.2L2447.8 1694.5L2455.7 1712.1L2463.2 1729.8L2470.1 1747.8L2476.6 1766.0L2482.7 1784.3L2488.2 1802.7L2493.2 1821.2L2497.8 1839.8L2501.8 1858.3L2505.3 1876.9L2508.2 1895.5L2510.7 1913.9L2512.5 1932.3L2513.9 1950.6L2514.7 1968.7L2515.0 1986.6M2542.5 1975.8L2542.5 1971.4L2542.5 1967.1L2542.4 1962.7L2542.3 1958.2L2542.1 1953.8L2542.0 1949.4L2541.7 1944.9L2541.5 1940.5L2541.2 1936.0L2540.9 1931.5L2540.6 1927.1L2540.2 1922.6L2539.8 1918.1L2539.3 1913.6L2538.9 1909.1L2538.4 1904.5L2537.8 1900.0L2537.3 1895.5L2536.7 1891.0L2536.0 1886.4L2535.4 1881.9L2534.7 1877.3L2533.9 1872.8L2533.2 1868.2L2532.4 1863.7L2531.6 1859.1L2530.7 1854.6L2529.8 1850.0L2528.9 1845.4L2527.9 1840.9L2527.0 1836.3L2526.0 1831.8L2524.9 1827.2L2523.8 1822.7L2522.7 1818.1L2521.6 1813.5L2520.4 1809.0L2519.2 1804.5L2518.0 1799.9L2516.7 1795.4L2515.5 1790.9L2514.1 1786.3L2512.8 1781.8L2511.4 1777.3L2510.0 1772.8L2508.6 1768.3L2507.1 1763.8L2505.6 1759.3L2504.1 1754.8L2502.5 1750.4L2500.9 1745.9L2499.3 1741.5L2497.7 1737.0L2496.0 1732.6L2494.3 1728.2L2492.6 1723.8L2490.8 1719.4L2489.1 1715.0L2487.3 1710.6L2485.4 1706.3L2483.6 1701.9L2481.7 1697.6L2479.8 1693.3L2477.8 1689.0L2475.9 1684.7L2473.9 1680.4L2471.8 1676.2L2469.8 1671.9L2467.7 1667.7L2465.6 1663.5L2463.5 1659.3L2461.4 1655.2L2459.2 1651.0L2457.0 1646.9L2454.8 1642.8L2452.5 1638.7L2450.3 1634.6L2448.0 1630.6L2445.7 1626.5L2443.3 1622.5L2440.9 1618.5L2438.6 1614.6L2436.2 1610.6L2433.7 1606.7L2431.3 1602.8L2428.8 1599.0L2426.3 1595.1L2423.8 1591.3L2421.3 1587.5L2418.7 1583.7L2416.1 1580.0L2413.5 1576.2L2410.9 1572.5L2408.3 1568.9L2405.6 1565.2L2402.9 1561.6L2400.2 1558.0L2397.5 1554.5L2394.8 1550.9L2392.0 1547.4L2389.3 1544.0L2386.5 1540.5L2383.7 1537.1L2380.8 1533.7L2378.0 1530.4L2375.1 1527.0L2372.3 1523.8L2369.4 1520.5L2366.5 1517.3L2363.6 1514.1L2360.6 1510.9L2357.7 1507.8L2354.7 1504.7L2351.7 1501.6L2348.7 1498.6L2345.7 1495.6L2342.7 1492.6L2339.7 1489.7L2336.6 1486.8L2333.6 1483.9L2330.5 1481.1L2327.4 1478.3L2324.3 1475.5L2321.2 1472.8L2318.1 1470.1L2315.0 1467.5L2311.8 1464.9L2308.7 1462.3L2305.5 1459.8L2302.4 1457.3L2299.2 1454.8L2296.0 1452.4L2292.8 1450.0L2289.6 1447.7L2286.4 1445.4L2283.2 1443.1L2279.9 1440.8L2276.4 1438.6L2272.7 1436.3L2269.0 1434.0L2265.1 1431.8L2261.1 1429.5L2257.1 1427.3L2253.0 1425.1L2248.9 1423.0L2244.7 1420.8L2240.6 1418.7L2236.5 1416.7L2232.4 1414.7L2228.3 1412.8L2224.4 1411.0L2220.5 1409.2L2216.7 1407.4L2213.1 1405.8L2209.5 1404.3L2206.2 1402.8M2570.1 1965.0L2570.1 1960.6L2570.0 1956.3L2570.0 1951.9L2569.8 1947.4L2569.7 1943.0L2569.5 1938.6L2569.3 1934.1L2569.1 1929.7L2568.8 1925.2L2568.5 1920.7L2568.1 1916.3L2567.8 1911.8L2567.3 1907.3L2566.9 1902.8L2566.4 1898.3L2565.9 1893.7L2565.4 1889.2L2564.8 1884.7L2564.2 1880.2L2563.6 1875.6L2562.9 1871.1L2562.2 1866.5L2561.5 1862.0L2560.7 1857.4L2559.9 1852.9L2559.1 1848.3L2558.3 1843.8L2557.4 1839.2L2556.5 1834.6L2555.5 1830.1L2554.5 1825.5L2553.5 1821.0L2552.5 1816.4L2551.4 1811.9L2550.3 1807.3L2549.1 1802.7L2548.0 1798.2L2546.8 1793.7L2545.6 1789.1L2544.3 1784.6L2543.0 1780.1L2541.7 1775.5L2540.3 1771.0L2539.0 1766.5L2537.6 1762.0L2536.1 1757.5L2534.7 1753.0L2533.2 1748.5L2531.6 1744.0L2530.1 1739.6L2528.5 1735.1L2526.9 1730.7L2525.2 1726.2L2523.6 1721.8L2521.9 1717.4L2520.2 1713.0L2518.4 1708.6L2516.6 1704.2L2514.8 1699.8L2513.0 1695.5L2511.1 1691.1L2509.2 1686.8L2507.3 1682.5L2505.4 1678.2L2503.4 1673.9L2501.4 1669.6L2499.4 1665.4L2497.4 1661.1L2495.3 1656.9L2493.2 1652.7L2491.1 1648.5L2488.9 1644.4L2486.7 1640.2L2484.5 1636.1L2482.3 1632.0L2480.1 1627.9L2477.8 1623.8L2475.5 1619.8L2473.2 1615.7L2470.9 1611.7L2468.5 1607.7L2466.1 1603.8L2463.7 1599.8L2461.3 1595.9L2458.8 1592.0L2456.4 1588.2L2453.9 1584.3L2451.3 1580.5L2448.8 1576.7L2446.3 1572.9L2443.7 1569.2L2441.1 1565.4L2438.5 1561.7L2435.8 1558.1L2433.2 1554.4L2430.5 1550.8L2427.8 1547.2L2425.1 1543.7L2422.3 1540.1L2419.6 1536.6L2416.8 1533.2L2414.0 1529.7L2411.2 1526.3L2408.4 1522.9L2405.5 1519.5L2402.4 1516.1L2399.3 1512.7L2396.2 1509.3L2393.0 1505.8L2389.7 1502.4L2386.4 1499.1L2383.1 1495.7L2379.7 1492.4L2376.4 1489.1L2373.0 1485.9L2369.7 1482.7L2366.4 1479.5L2363.1 1476.5L2359.9 1473.5L2356.7 1470.5L2353.6 1467.7M2597.7 1954.2L2597.6 1949.8L2597.6 1945.5L2597.5 1941.1L2597.4 1936.6L2597.2 1932.2L2597.1 1927.8L2596.9 1923.3L2596.6 1918.9L2596.3 1914.4L2596.0 1909.9L2595.7 1905.5L2595.3 1901.0L2594.9 1896.5L2594.5 1892.0L2594.0 1887.5L2593.5 1882.9L2592.9 1878.4L2592.4 1873.9L2591.8 1869.4L2591.1 1864.8L2590.5 1860.3L2589.8 1855.7L2589.0 1851.2L2588.3 1846.6L2587.5 1842.1L2586.7 1837.5L2585.8 1833.0L2584.9 1828.4L2584.0 1823.8L2583.1 1819.3L2582.1 1814.7L2581.1 1810.2L2580.0 1805.6L2578.9 1801.1L2577.8 1796.5L2576.7 1791.9L2575.5 1787.4L2574.3 1782.9L2573.1 1778.3L2571.9 1773.8L2570.6 1769.3L2569.2 1764.7L2567.9 1760.2L2566.5 1755.7L2565.1 1751.2L2563.7 1746.7L2562.2 1742.2L2560.7 1737.7L2559.2 1733.2L2557.6 1728.8L2556.1 1724.3L2554.4 1719.9L2552.8 1715.4L2551.1 1711.0L2549.4 1706.6L2547.7 1702.2L2546.0 1697.8L2544.2 1693.4L2542.4 1689.0L2540.5 1684.7L2538.7 1680.3L2536.8 1676.0L2534.9 1671.7L2532.9 1667.4L2531.0 1663.1L2529.0 1658.8L2527.0 1654.6L2524.9 1650.3L2522.8 1646.1L2520.7 1641.9L2518.6 1637.7L2516.5 1633.6L2514.3 1629.4L2512.1 1625.3L2509.9 1621.2L2507.6 1617.1L2505.4 1613.0L2503.1 1609.0L2500.8 1604.9L2498.4 1600.9L2496.1 1596.9L2493.7 1593.0L2491.3 1589.0L2488.8 1585.1L2486.4 1581.2L2483.9 1577.4L2481.4 1573.5L2478.9 1569.7L2476.4 1565.9L2473.8 1562.1L2471.2 1558.4L2468.6 1554.6L2466.0 1550.9L2463.4 1547.3L2460.7 1543.6L2458.0 1540.0L2455.3 1536.4L2452.6 1532.9L2449.6 1529.3L2446.3 1525.6L2442.6 1521.8L2438.6 1518.1L2434.4 1514.2L2430.1 1510.4L2425.6 1506.6L2421.1 1502.8L2416.5 1499.0L2411.9 1495.2L2407.5 1491.5L2403.1 1487.9L2398.9 1484.4L2394.8 1480.9L2391.1 1477.6L2387.6 1474.4L2384.4 1471.3M2625.2 1943.4L2625.2 1939.0L2625.1 1934.7L2625.1 1930.3L2624.9 1925.8L2624.8 1921.4L2624.6 1917.0L2624.4 1912.5L2624.2 1908.1L2623.9 1903.6L2623.6 1899.1L2623.2 1894.7L2622.9 1890.2L2622.5 1885.7L2622.0 1881.2L2621.5 1876.7L2621.0 1872.1L2620.5 1867.6L2619.9 1863.1L2619.3 1858.6L2618.7 1854.0L2618.0 1849.5L2617.3 1844.9L2616.6 1840.4L2615.8 1835.8L2615.1 1831.3L2614.2 1826.7L2613.4 1822.2L2612.5 1817.6L2611.6 1813.0L2610.6 1808.5L2609.6 1803.9L2608.6 1799.4L2607.6 1794.8L2606.5 1790.3L2605.4 1785.7L2604.3 1781.1L2603.1 1776.6L2601.9 1772.1L2600.7 1767.5L2599.4 1763.0L2598.1 1758.5L2596.8 1753.9L2595.5 1749.4L2594.1 1744.9L2592.7 1740.4L2591.2 1735.9L2589.8 1731.4L2588.3 1726.9L2586.7 1722.4L2585.2 1718.0L2583.6 1713.5L2582.0 1709.1L2580.4 1704.6L2578.7 1700.2L2577.0 1695.8L2575.3 1691.4L2573.5 1687.0L2571.7 1682.6L2569.9 1678.2L2568.1 1673.9L2566.2 1669.5L2564.3 1665.2L2562.4 1660.9L2560.5 1656.6L2558.5 1652.3L2556.5 1648.0L2554.5 1643.8L2552.5 1639.5L2550.4 1635.3L2548.3 1631.1L2546.2 1626.9L2544.0 1622.8L2541.9 1618.6L2539.7 1614.5L2537.4 1610.4L2535.2 1606.3L2532.9 1602.2L2530.6 1598.2L2528.3 1594.1L2526.0 1590.1L2523.6 1586.1L2521.2 1582.2L2518.8 1578.2L2516.4 1574.3L2513.9 1570.4L2511.5 1566.6L2509.1 1562.7L2506.7 1558.9L2504.3 1555.1L2501.9 1551.4L2499.6 1547.7L2497.2 1544.0L2494.8 1540.3L2492.5 1536.7L2490.1 1533.1L2487.6 1529.5L2485.2 1525.9L2482.6 1522.4L2480.1 1518.9L2477.4 1515.4L2474.8 1511.9L2472.0 1508.5M2652.8 1932.6L2652.8 1928.2L2652.7 1923.9L2652.6 1919.5L2652.5 1915.0L2652.4 1910.6L2652.2 1906.2L2652.0 1901.7L2651.7 1897.3L2651.4 1892.8L2651.1 1888.3L2650.8 1883.9L2650.4 1879.4L2650.0 1874.9L2649.6 1870.4L2649.1 1865.9L2648.6 1861.3L2648.1 1856.8L2647.5 1852.3L2646.9 1847.8L2646.3 1843.2L2645.6 1838.7L2644.9 1834.1L2644.2 1829.6L2643.4 1825.0L2642.6 1820.5L2641.8 1815.9L2640.9 1811.4L2640.0 1806.8L2639.1 1802.2L2638.2 1797.7L2637.2 1793.1L2636.2 1788.6L2635.1 1784.0L2634.1 1779.5L2633.0 1774.9L2631.8 1770.3L2630.6 1765.8L2629.5 1761.3L2628.2 1756.7L2627.0 1752.2L2625.7 1747.7L2624.4 1743.1L2623.0 1738.6L2621.6 1734.1L2620.2 1729.6L2618.8 1725.1L2617.3 1720.6L2615.8 1716.1L2614.3 1711.6L2612.7 1707.2L2611.2 1702.7L2609.6 1698.3L2607.9 1693.8L2606.2 1689.4L2604.5 1685.0L2602.8 1680.6L2601.1 1676.2L2599.3 1671.8L2597.5 1667.4L2595.7 1663.1L2593.8 1658.7L2591.9 1654.4L2590.0 1650.1L2588.0 1645.8L2586.1 1641.5L2584.1 1637.2L2582.1 1633.0L2580.0 1628.7L2577.9 1624.5L2575.9 1620.3L2573.7 1616.1L2571.6 1612.0L2569.4 1607.8L2567.2 1603.6L2564.8 1599.4L2562.4 1595.1L2560.0 1590.8L2557.5 1586.5L2554.9 1582.1L2552.3 1577.8L2549.6 1573.5L2547.0 1569.2L2544.3 1565.0L2541.6 1560.7L2539.0 1556.6L2536.3 1552.5L2533.7 1548.5L2531.1 1544.5L2528.5 1540.7M2680.3 1921.8L2680.3 1917.4L2680.3 1913.1L2680.2 1908.7L2680.1 1904.2L2679.9 1899.8L2679.7 1895.4L2679.5 1890.9L2679.3 1886.5L2679.0 1882.0L2678.7 1877.5L2678.3 1873.1L2678.0 1868.6L2677.6 1864.1L2677.1 1859.6L2676.7 1855.1L2676.1 1850.5L2675.6 1846.0L2675.0 1841.5L2674.4 1837.0L2673.8 1832.4L2673.1 1827.9L2672.4 1823.3L2671.7 1818.8L2671.0 1814.2L2670.2 1809.7L2669.3 1805.1L2668.5 1800.6L2667.6 1796.0L2666.7 1791.4L2665.7 1786.9L2664.7 1782.3L2663.7 1777.8L2662.7 1773.2L2661.6 1768.7L2660.5 1764.1L2659.4 1759.5L2658.2 1755.0L2657.0 1750.5L2655.8 1745.9L2654.5 1741.4L2653.2 1736.9L2651.9 1732.3L2650.6 1727.8L2649.2 1723.3L2647.8 1718.8L2646.3 1714.3L2644.9 1709.8L2643.4 1705.3L2641.9 1700.8L2640.3 1696.4L2638.7 1691.9L2637.1 1687.5L2635.5 1683.0L2633.8 1678.6L2632.1 1674.2L2630.4 1669.8L2628.6 1665.4L2626.8 1661.0L2625.0 1656.6L2623.2 1652.3L2621.3 1647.9L2619.5 1643.6L2617.5 1639.3L2615.6 1635.0L2613.6 1630.7L2611.6 1626.4L2609.6 1622.2L2607.7 1617.9L2606.0 1613.7L2604.4 1609.6L2602.9 1605.4L2601.5 1601.3L2600.2 1597.2L2598.9 1593.2L2597.7 1589.1L2596.3 1585.1L2595.0 1581.1L2593.5 1577.1L2592.0 1573.1L2590.2 1569.1L2588.4 1565.2L2586.3 1561.2L2584.0 1557.3M2707.9 1911.0L2707.9 1906.6L2707.8 1902.3L2707.7 1897.9L2707.6 1893.4L2707.5 1889.0L2707.3 1884.6L2707.1 1880.1L2706.8 1875.7L2706.6 1871.2L2706.2 1866.7L2705.9 1862.3L2705.5 1857.8L2705.1 1853.3L2704.7 1848.8L2704.2 1844.3L2703.7 1839.7L2703.2 1835.2L2702.6 1830.7L2702.0 1826.2L2701.4 1821.6L2700.7 1817.1L2700.0 1812.5L2699.3 1808.0L2698.5 1803.4L2697.7 1798.9L2696.9 1794.3L2696.0 1789.8L2695.2 1785.2L2694.2 1780.6L2693.3 1776.1L2692.3 1771.5L2691.3 1767.0L2690.2 1762.4L2689.2 1757.9L2688.1 1753.3L2686.9 1748.7L2685.8 1744.2L2684.6 1739.7L2683.3 1735.1L2682.1 1730.6L2680.8 1726.1L2679.5 1721.5L2678.1 1717.0L2676.7 1712.5L2675.3 1708.0L2673.9 1703.5L2672.4 1699.0L2670.9 1694.5L2669.4 1690.0L2667.9 1685.6L2666.3 1681.1L2664.7 1676.7L2663.0 1672.2L2661.4 1667.8L2659.7 1663.4L2657.9 1659.0L2656.2 1654.6L2654.4 1650.2L2652.6 1645.8L2650.8 1641.5L2648.9 1637.1L2647.2 1632.8L2645.7 1628.7L2644.4 1624.6L2643.3 1620.7L2642.3 1616.8L2641.4 1612.9L2640.5 1609.1L2639.7 1605.4L2638.8 1601.6L2637.9 1597.9L2636.9 1594.1L2635.7 1590.3L2634.3 1586.5L2632.8 1582.7L2630.9 1578.7L2628.8 1574.7M2735.4 1900.2L2735.4 1895.8L2735.4 1891.5L2735.3 1887.1L2735.2 1882.6L2735.0 1878.2L2734.8 1873.8L2734.6 1869.3L2734.4 1864.9L2734.1 1860.4L2733.8 1855.9L2733.5 1851.5L2733.1 1847.0L2732.7 1842.5L2732.2 1838.0L2731.8 1833.5L2731.3 1828.9L2730.7 1824.4L2730.2 1819.9L2729.6 1815.4L2728.9 1810.8L2728.3 1806.3L2727.6 1801.7L2726.8 1797.2L2726.1 1792.6L2725.3 1788.1L2724.4 1783.5L2723.6 1779.0L2722.7 1774.4L2721.8 1769.8L2720.8 1765.3L2719.9 1760.7L2718.8 1756.2L2717.8 1751.6L2716.7 1747.1L2715.6 1742.5L2714.5 1737.9L2713.3 1733.4L2712.1 1728.9L2710.9 1724.3L2709.6 1719.8L2708.3 1715.3L2707.0 1710.7L2705.7 1706.2L2704.3 1701.7L2702.9 1697.2L2701.5 1692.7L2700.0 1688.2L2698.5 1683.7L2697.0 1679.2L2695.4 1674.8L2693.8 1670.3L2692.2 1665.9L2690.6 1661.4L2688.9 1657.0L2687.2 1652.6L2685.5 1648.2L2683.7 1643.8L2682.0 1639.4L2680.2 1635.0L2678.3 1630.7L2676.5 1626.3L2674.6 1622.0L2672.7 1617.7L2670.7 1613.4L2668.7 1609.1L2666.8 1604.8L2664.7 1600.6L2662.7 1596.3L2660.6 1592.1L2658.5 1587.9L2656.4 1583.7L2655.3 1581.6M2763.0 1889.4L2763.0 1885.0L2762.9 1880.7L2762.8 1876.3L2762.7 1871.8L2762.6 1867.4L2762.4 1863.0L2762.2 1858.5L2761.9 1854.1L2761.7 1849.6L2761.4 1845.1L2761.0 1840.7L2760.6 1836.2L2760.2 1831.7L2759.8 1827.2L2759.3 1822.7L2758.8 1818.1L2758.3 1813.6L2757.7 1809.1L2757.1 1804.6L2756.5 1800.0L2755.8 1795.5L2755.1 1790.9L2754.4 1786.4L2753.6 1781.8L2752.8 1777.3L2752.0 1772.7L2751.1 1768.2L2750.3 1763.6L2749.3 1759.0L2748.4 1754.5L2747.4 1749.9L2746.4 1745.4L2745.4 1740.8L2744.3 1736.3L2743.2 1731.7L2742.0 1727.1L2740.9 1722.6L2739.7 1718.1L2738.4 1713.5L2737.2 1709.0L2735.9 1704.5L2734.6 1699.9L2733.2 1695.4L2731.9 1690.9L2730.4 1686.4L2729.0 1681.9L2727.5 1677.4L2726.0 1672.9L2724.5 1668.4L2723.0 1664.0L2721.4 1659.5L2719.8 1655.1L2718.0 1650.6L2716.0 1646.2L2713.8 1641.8L2711.3 1637.4L2708.7 1633.0L2705.9 1628.6L2703.1 1624.2L2700.2 1619.8L2697.2 1615.5L2694.3 1611.2L2691.4 1606.9L2688.5 1602.5L2685.8 1598.3L2683.3 1594.0L2680.9 1589.7L2678.7 1585.5M2790.5 1878.6L2790.5 1874.2L2790.5 1869.9L2790.4 1865.5L2790.3 1861.0L2790.1 1856.6L2790.0 1852.2L2789.7 1847.7L2789.5 1843.3L2789.2 1838.8L2788.9 1834.3L2788.6 1829.9L2788.2 1825.4L2787.8 1820.9L2787.3 1816.4L2786.9 1811.9L2786.4 1807.3L2785.8 1802.8L2785.3 1798.3L2784.7 1793.8L2784.0 1789.2L2783.4 1784.7L2782.7 1780.1L2781.9 1775.6L2781.2 1771.0L2780.4 1766.5L2779.6 1761.9L2778.7 1757.4L2777.8 1752.8L2776.9 1748.2L2775.9 1743.7L2775.0 1739.1L2774.0 1734.6L2772.9 1730.0L2771.8 1725.5L2770.7 1720.9L2769.6 1716.3L2768.4 1711.8L2767.2 1707.3L2766.0 1702.7L2764.7 1698.2L2763.5 1693.7L2762.1 1689.1L2760.8 1684.6L2759.4 1680.1L2758.0 1675.6L2756.6 1671.1L2755.1 1666.6L2753.6 1662.1L2752.1 1657.6L2750.5 1653.2L2748.9 1648.7L2747.3 1644.3L2745.7 1639.8L2744.0 1635.4L2742.3 1631.0L2740.6 1626.6L2738.8 1622.2L2737.1 1617.8L2735.3 1613.4L2733.4 1609.1L2731.6 1604.7L2729.7 1600.4L2727.8 1596.1L2725.8 1591.8L2723.9 1587.5L2721.9 1583.2L2719.8 1579.0L2718.8 1576.9M1766.9 1598.1L1770.1 1596.9L1773.2 1595.7L1776.3 1594.4L1779.4 1593.2L1782.5 1592.0L1785.6 1590.8L1788.7 1589.6L1791.9 1588.3L1795.0 1587.1L1798.1 1585.9L1801.2 1584.7L1804.3 1583.5L1807.4 1582.2L1810.5 1581.0L1813.6 1579.8L1816.8 1578.6L1819.9 1577.4L1823.0 1576.1L1826.1 1574.9L1829.2 1573.7L1832.3 1572.5L1835.4 1571.3L1838.5 1570.0L1841.7 1568.8L1844.8 1567.6L1847.9 1566.4L1851.0 1565.2L1854.1 1563.9L1857.2 1562.7L1860.3 1561.5L1863.4 1560.3L1866.6 1559.1L1869.7 1557.8L1872.8 1556.6L1875.9 1555.4L1879.0 1554.2L1882.1 1553.0L1885.2 1551.7L1888.4 1550.5L1891.5 1549.3L1894.6 1548.1L1897.7 1546.9L1900.8 1545.6L1903.9 1544.4L1907.0 1543.2L1910.1 1542.0L1913.3 1540.8L1916.4 1539.5L1919.5 1538.3L1922.6 1537.1L1925.7 1535.9L1928.8 1534.7L1931.9 1533.4L1935.0 1532.2L1938.2 1531.0L1941.3 1529.8L1944.4 1528.6L1947.5 1527.3L1950.6 1526.1L1953.7 1524.9L1956.8 1523.7L1960.0 1522.5L1963.1 1521.2L1966.2 1520.0L1969.3 1518.8L1972.4 1517.6L1975.5 1516.4L1978.6 1515.1L1981.7 1513.9L1984.9 1512.7L1988.0 1511.5L1991.1 1510.3L1994.2 1509.0L1997.3 1507.8L2000.4 1506.6L2003.5 1505.4L2006.6 1504.2L2009.8 1502.9L2012.9 1501.7L2016.0 1500.5L2019.1 1499.3L2022.2 1498.1L2025.3 1496.8L2028.4 1495.6L2031.6 1494.4L2034.7 1493.2L2037.8 1492.0L2040.9 1490.7L2044.0 1489.5L2047.1 1488.3L2050.2 1487.1L2053.3 1485.9L2056.5 1484.6L2059.6 1483.4L2062.7 1482.2L2065.8 1481.0L2068.9 1479.8L2072.0 1478.5L2075.1 1477.3L2078.2 1476.1L2081.4 1474.9L2084.5 1473.7L2087.6 1472.4L2090.7 1471.2L2093.8 1470.0L2096.9 1468.8L2100.0 1467.6L2103.1 1466.3L2106.3 1465.1L2109.4 1463.9L2112.5 1462.7L2115.6 1461.5L2118.7 1460.2L2121.8 1459.0L2124.9 1457.8L2128.1 1456.6L2131.2 1455.4L2134.3 1454.1L2137.4 1452.9L2140.5 1451.7L2143.6 1450.5L2146.7 1449.3L2149.8 1448.0L2153.0 1446.8L2156.1 1445.6L2159.2 1444.4L2162.3 1443.2L2165.4 1441.9L2168.5 1440.7L2171.6 1439.5L2174.8 1438.3L2177.9 1437.0L2181.0 1435.8L2184.2 1434.5L2187.3 1433.2L2190.4 1431.9L2193.6 1430.7L2196.8 1429.4L2199.9 1428.1L2203.1 1426.8L2206.2 1425.5L2209.4 1424.2L2212.5 1422.9L2215.7 1421.6L2218.9 1420.3L2222.0 1419.0L2225.1 1417.7L2228.3 1416.5L2231.4 1415.2L2234.6 1414.0L2237.7 1412.7L2240.8 1411.5M1794.4 1613.4L1797.5 1612.2L1800.6 1611.0L1803.7 1609.7L1806.9 1608.5L1810.0 1607.3L1813.1 1606.1L1816.2 1604.9L1819.3 1603.6L1822.4 1602.4L1825.5 1601.2L1828.6 1600.0L1831.8 1598.8L1834.9 1597.5L1838.0 1596.3L1841.1 1595.1L1844.2 1593.9L1847.3 1592.7L1850.4 1591.4L1853.6 1590.2L1856.7 1589.0L1859.8 1587.8L1862.9 1586.6L1866.0 1585.3L1869.1 1584.1L1872.2 1582.9L1875.3 1581.7L1878.5 1580.5L1881.6 1579.2L1884.7 1578.0L1887.8 1576.8L1890.9 1575.6L1894.0 1574.3L1897.1 1573.1L1900.2 1571.9L1903.4 1570.7L1906.5 1569.5L1909.6 1568.2L1912.7 1567.0L1915.8 1565.8L1918.9 1564.6L1922.0 1563.4L1925.2 1562.1L1928.3 1560.9L1931.4 1559.7L1934.5 1558.5L1937.6 1557.3L1940.7 1556.0L1943.8 1554.8L1946.9 1553.6L1950.1 1552.4L1953.2 1551.2L1956.3 1549.9L1959.4 1548.7L1962.5 1547.5L1965.6 1546.3L1968.7 1545.1L1971.8 1543.8L1975.0 1542.6L1978.1 1541.4L1981.2 1540.2L1984.3 1539.0L1987.4 1537.7L1990.5 1536.5L1993.6 1535.3L1996.7 1534.1L1999.9 1532.9L2003.0 1531.6L2006.1 1530.4L2009.2 1529.2L2012.3 1528.0L2015.4 1526.8L2018.5 1525.5L2021.7 1524.3L2024.8 1523.1L2027.9 1521.9L2031.0 1520.7L2034.1 1519.4L2037.2 1518.2L2040.3 1517.0L2043.4 1515.8L2046.6 1514.6L2049.7 1513.3L2052.8 1512.1L2055.9 1510.9L2059.0 1509.7L2062.1 1508.5L2065.2 1507.2L2068.3 1506.0L2071.5 1504.8L2074.6 1503.6L2077.7 1502.4L2080.8 1501.1L2083.9 1499.9L2087.0 1498.7L2090.1 1497.5L2093.3 1496.3L2096.4 1495.0L2099.5 1493.8L2102.6 1492.6L2105.7 1491.4L2108.8 1490.2L2111.9 1488.9L2115.0 1487.7L2118.2 1486.5L2121.3 1485.3L2124.4 1484.1L2127.5 1482.8L2130.6 1481.6L2133.7 1480.4L2136.8 1479.2L2139.9 1478.0L2143.1 1476.7L2146.2 1475.5L2149.3 1474.3L2152.4 1473.1L2155.5 1471.9L2158.6 1470.6L2161.7 1469.4L2164.8 1468.2L2168.0 1467.0L2171.1 1465.8L2174.2 1464.5L2177.3 1463.3L2180.4 1462.1L2183.5 1460.9L2186.6 1459.7L2189.8 1458.4L2192.9 1457.2L2196.0 1456.0L2199.1 1454.8L2202.2 1453.6L2205.3 1452.3L2208.4 1451.1L2211.5 1449.9L2214.6 1448.6L2217.6 1447.3L2220.6 1446.0L2223.6 1444.7L2226.5 1443.4L2229.5 1442.1L2232.4 1440.7L2235.3 1439.4L2238.3 1438.0L2241.2 1436.7L2244.1 1435.3L2247.0 1434.0L2249.9 1432.6L2252.9 1431.3L2255.8 1430.0L2258.8 1428.7L2261.8 1427.3L2264.8 1426.1L2267.8 1424.8L2270.9 1423.5L2274.0 1422.3M1821.5 1631.5L1824.6 1630.3L1827.7 1629.1L1830.8 1627.9L1833.9 1626.6L1837.1 1625.4L1840.2 1624.2L1843.3 1623.0L1846.4 1621.8L1849.5 1620.5L1852.6 1619.3L1855.7 1618.1L1858.8 1616.9L1862.0 1615.7L1865.1 1614.4L1868.2 1613.2L1871.3 1612.0L1874.4 1610.8L1877.5 1609.5L1880.6 1608.3L1883.7 1607.1L1886.9 1605.9L1890.0 1604.7L1893.1 1603.4L1896.2 1602.2L1899.3 1601.0L1902.4 1599.8L1905.5 1598.6L1908.7 1597.3L1911.8 1596.1L1914.9 1594.9L1918.0 1593.7L1921.1 1592.5L1924.2 1591.2L1927.3 1590.0L1930.4 1588.8L1933.6 1587.6L1936.7 1586.4L1939.8 1585.1L1942.9 1583.9L1946.0 1582.7L1949.1 1581.5L1952.2 1580.3L1955.3 1579.0L1958.5 1577.8L1961.6 1576.6L1964.7 1575.4L1967.8 1574.2L1970.9 1572.9L1974.0 1571.7L1977.1 1570.5L1980.3 1569.3L1983.4 1568.1L1986.5 1566.8L1989.6 1565.6L1992.7 1564.4L1995.8 1563.2L1998.9 1562.0L2002.0 1560.7L2005.2 1559.5L2008.3 1558.3L2011.4 1557.1L2014.5 1555.9L2017.6 1554.6L2020.7 1553.4L2023.8 1552.2L2026.9 1551.0L2030.1 1549.8L2033.2 1548.5L2036.3 1547.3L2039.4 1546.1L2042.5 1544.9L2045.6 1543.7L2048.7 1542.4L2051.8 1541.2L2055.0 1540.0L2058.1 1538.8L2061.2 1537.6L2064.3 1536.3L2067.4 1535.1L2070.5 1533.9L2073.6 1532.7L2076.8 1531.5L2079.9 1530.2L2083.0 1529.0L2086.1 1527.8L2089.2 1526.6L2092.3 1525.4L2095.4 1524.1L2098.5 1522.9L2101.7 1521.7L2104.8 1520.5L2107.9 1519.3L2111.0 1518.0L2114.1 1516.8L2117.2 1515.6L2120.3 1514.4L2123.4 1513.2L2126.6 1511.9L2129.7 1510.7L2132.8 1509.5L2135.9 1508.3L2139.0 1507.1L2142.1 1505.8L2145.2 1504.6L2148.4 1503.4L2151.5 1502.2L2154.6 1501.0L2157.7 1499.7L2160.8 1498.5L2163.9 1497.3L2167.0 1496.1L2170.1 1494.9L2173.3 1493.6L2176.4 1492.4L2179.5 1491.2L2182.6 1490.0L2185.7 1488.8L2188.8 1487.5L2191.9 1486.3L2195.0 1485.1L2198.2 1483.9L2201.3 1482.7L2204.4 1481.4L2207.5 1480.2L2210.6 1479.0L2213.7 1477.8L2216.8 1476.6L2219.9 1475.3L2223.1 1474.1L2226.2 1472.9L2229.3 1471.7L2232.4 1470.5L2235.5 1469.2L2238.6 1468.0L2241.7 1466.8L2244.8 1465.5L2247.9 1464.3L2251.0 1463.0L2254.0 1461.6L2257.1 1460.3L2260.1 1458.9L2263.2 1457.6L2266.2 1456.2L2269.2 1454.8L2272.2 1453.4L2275.2 1452.0L2278.3 1450.6L2281.3 1449.2L2284.3 1447.8L2287.3 1446.4L2290.4 1445.0L2293.4 1443.7L2296.5 1442.3L2299.5 1441.0L2302.6 1439.7L2305.7 1438.4L2308.8 1437.2M1848.0 1652.3L1851.1 1651.1L1854.2 1649.9L1857.3 1648.7L1860.5 1647.5L1863.6 1646.2L1866.7 1645.0L1869.8 1643.8L1872.9 1642.6L1876.0 1641.4L1879.1 1640.1L1882.3 1638.9L1885.4 1637.7L1888.5 1636.5L1891.6 1635.3L1894.7 1634.0L1897.8 1632.8L1900.9 1631.6L1904.0 1630.4L1907.2 1629.2L1910.3 1627.9L1913.4 1626.7L1916.5 1625.5L1919.6 1624.3L1922.7 1623.1L1925.8 1621.8L1928.9 1620.6L1932.1 1619.4L1935.2 1618.2L1938.3 1617.0L1941.4 1615.7L1944.5 1614.5L1947.6 1613.3L1950.7 1612.1L1953.9 1610.9L1957.0 1609.6L1960.1 1608.4L1963.2 1607.2L1966.3 1606.0L1969.4 1604.8L1972.5 1603.5L1975.6 1602.3L1978.8 1601.1L1981.9 1599.9L1985.0 1598.7L1988.1 1597.4L1991.2 1596.2L1994.3 1595.0L1997.4 1593.8L2000.5 1592.6L2003.7 1591.3L2006.8 1590.1L2009.9 1588.9L2013.0 1587.7L2016.1 1586.5L2019.2 1585.2L2022.3 1584.0L2025.4 1582.8L2028.6 1581.6L2031.7 1580.4L2034.8 1579.1L2037.9 1577.9L2041.0 1576.7L2044.1 1575.5L2047.2 1574.3L2050.4 1573.0L2053.5 1571.8L2056.6 1570.6L2059.7 1569.4L2062.8 1568.2L2065.9 1566.9L2069.0 1565.7L2072.1 1564.5L2075.3 1563.3L2078.4 1562.1L2081.5 1560.8L2084.6 1559.6L2087.7 1558.4L2090.8 1557.2L2093.9 1556.0L2097.0 1554.7L2100.2 1553.5L2103.3 1552.3L2106.4 1551.1L2109.5 1549.9L2112.6 1548.6L2115.7 1547.4L2118.8 1546.2L2122.0 1545.0L2125.1 1543.8L2128.2 1542.5L2131.3 1541.3L2134.4 1540.1L2137.5 1538.9L2140.6 1537.7L2143.7 1536.4L2146.9 1535.2L2150.0 1534.0L2153.1 1532.8L2156.2 1531.6L2159.3 1530.3L2162.4 1529.1L2165.5 1527.9L2168.6 1526.7L2171.8 1525.5L2174.9 1524.2L2178.0 1523.0L2181.1 1521.8L2184.2 1520.6L2187.3 1519.4L2190.4 1518.1L2193.5 1516.9L2196.7 1515.7L2199.8 1514.5L2202.9 1513.3L2206.0 1512.0L2209.1 1510.8L2212.2 1509.6L2215.3 1508.4L2218.5 1507.1L2221.6 1505.9L2224.7 1504.7L2227.8 1503.5L2230.9 1502.3L2234.0 1501.0L2237.1 1499.8L2240.2 1498.6L2243.4 1497.4L2246.5 1496.2L2249.6 1494.9L2252.7 1493.7L2255.8 1492.5L2258.9 1491.3L2262.0 1490.1L2265.1 1488.8L2268.3 1487.6L2271.4 1486.4L2274.5 1485.2L2277.5 1483.9L2280.6 1482.6L2283.6 1481.2L2286.5 1479.8L2289.4 1478.4L2292.3 1477.0L2295.2 1475.5L2298.0 1474.0L2300.9 1472.5L2303.7 1471.0L2306.5 1469.4L2309.4 1467.9L2312.2 1466.4L2315.0 1464.9L2317.9 1463.4L2320.8 1461.9L2323.7 1460.5L2326.6 1459.1L2329.6 1457.7L2332.6 1456.3L2335.6 1455.0L2338.7 1453.8M1873.8 1675.7L1876.9 1674.5L1880.0 1673.3L1883.1 1672.1L1886.2 1670.9L1889.4 1669.6L1892.5 1668.4L1895.6 1667.2L1898.7 1666.0L1901.8 1664.8L1904.9 1663.5L1908.0 1662.3L1911.1 1661.1L1914.3 1659.9L1917.4 1658.7L1920.5 1657.4L1923.6 1656.2L1926.7 1655.0L1929.8 1653.8L1932.9 1652.6L1936.0 1651.3L1939.2 1650.1L1942.3 1648.9L1945.4 1647.7L1948.5 1646.5L1951.6 1645.2L1954.7 1644.0L1957.8 1642.8L1961.0 1641.6L1964.1 1640.4L1967.2 1639.1L1970.3 1637.9L1973.4 1636.7L1976.5 1635.5L1979.6 1634.3L1982.7 1633.0L1985.9 1631.8L1989.0 1630.6L1992.1 1629.4L1995.2 1628.2L1998.3 1626.9L2001.4 1625.7L2004.5 1624.5L2007.6 1623.3L2010.8 1622.1L2013.9 1620.8L2017.0 1619.6L2020.1 1618.4L2023.2 1617.2L2026.3 1616.0L2029.4 1614.7L2032.5 1613.5L2035.7 1612.3L2038.8 1611.1L2041.9 1609.9L2045.0 1608.6L2048.1 1607.4L2051.2 1606.2L2054.3 1605.0L2057.5 1603.8L2060.6 1602.5L2063.7 1601.3L2066.8 1600.1L2069.9 1598.9L2073.0 1597.7L2076.1 1596.4L2079.2 1595.2L2082.4 1594.0L2085.5 1592.8L2088.6 1591.5L2091.7 1590.3L2094.8 1589.1L2097.9 1587.9L2101.0 1586.7L2104.1 1585.4L2107.3 1584.2L2110.4 1583.0L2113.5 1581.8L2116.6 1580.6L2119.7 1579.3L2122.8 1578.1L2125.9 1576.9L2129.1 1575.7L2132.2 1574.5L2135.3 1573.2L2138.4 1572.0L2141.5 1570.8L2144.6 1569.6L2147.7 1568.4L2150.8 1567.1L2154.0 1565.9L2157.1 1564.7L2160.2 1563.5L2163.3 1562.3L2166.4 1561.0L2169.5 1559.8L2172.6 1558.6L2175.7 1557.4L2178.9 1556.2L2182.0 1554.9L2185.1 1553.7L2188.2 1552.5L2191.3 1551.3L2194.4 1550.1L2197.5 1548.8L2200.6 1547.6L2203.8 1546.4L2206.9 1545.2L2210.0 1544.0L2213.1 1542.7L2216.2 1541.5L2219.3 1540.3L2222.4 1539.1L2225.6 1537.9L2228.7 1536.6L2231.8 1535.4L2234.9 1534.2L2238.0 1533.0L2241.1 1531.8L2244.2 1530.5L2247.3 1529.3L2250.5 1528.1L2253.6 1526.9L2256.7 1525.7L2259.8 1524.4L2262.9 1523.2L2266.0 1522.0L2269.1 1520.8L2272.2 1519.6L2275.4 1518.3L2278.5 1517.1L2281.6 1515.9L2284.7 1514.7L2287.8 1513.5L2290.9 1512.2L2294.0 1511.0L2297.2 1509.8L2300.3 1508.6L2303.4 1507.4L2306.5 1506.1L2309.6 1504.9L2312.7 1503.7L2315.8 1502.5L2318.9 1501.3L2322.0 1500.0L2325.1 1498.8L2328.1 1497.5L2331.0 1496.3L2333.9 1495.0L2336.7 1493.7L2339.5 1492.3L2342.3 1491.0L2345.0 1489.7L2347.7 1488.3L2350.4 1487.0L2353.1 1485.6L2355.8 1484.3L2358.6 1483.0L2361.3 1481.6L2364.0 1480.3L2366.8 1479.0L2369.6 1477.6L2372.5 1476.3L2375.4 1475.1L2378.3 1473.8L2381.3 1472.5L2384.4 1471.3M1898.6 1701.5L1901.8 1700.3L1904.9 1699.1L1908.0 1697.9L1911.1 1696.7L1914.2 1695.4L1917.3 1694.2L1920.4 1693.0L1923.6 1691.8L1926.7 1690.6L1929.8 1689.3L1932.9 1688.1L1936.0 1686.9L1939.1 1685.7L1942.2 1684.5L1945.3 1683.2L1948.5 1682.0L1951.6 1680.8L1954.7 1679.6L1957.8 1678.4L1960.9 1677.1L1964.0 1675.9L1967.1 1674.7L1970.2 1673.5L1973.4 1672.3L1976.5 1671.0L1979.6 1669.8L1982.7 1668.6L1985.8 1667.4L1988.9 1666.2L1992.0 1664.9L1995.1 1663.7L1998.3 1662.5L2001.4 1661.3L2004.5 1660.1L2007.6 1658.8L2010.7 1657.6L2013.8 1656.4L2016.9 1655.2L2020.1 1654.0L2023.2 1652.7L2026.3 1651.5L2029.4 1650.3L2032.5 1649.1L2035.6 1647.9L2038.7 1646.6L2041.8 1645.4L2045.0 1644.2L2048.1 1643.0L2051.2 1641.8L2054.3 1640.5L2057.4 1639.3L2060.5 1638.1L2063.6 1636.9L2066.7 1635.7L2069.9 1634.4L2073.0 1633.2L2076.1 1632.0L2079.2 1630.8L2082.3 1629.6L2085.4 1628.3L2088.5 1627.1L2091.7 1625.9L2094.8 1624.7L2097.9 1623.5L2101.0 1622.2L2104.1 1621.0L2107.2 1619.8L2110.3 1618.6L2113.4 1617.4L2116.6 1616.1L2119.7 1614.9L2122.8 1613.7L2125.9 1612.5L2129.0 1611.3L2132.1 1610.0L2135.2 1608.8L2138.3 1607.6L2141.5 1606.4L2144.6 1605.2L2147.7 1603.9L2150.8 1602.7L2153.9 1601.5L2157.0 1600.3L2160.1 1599.1L2163.2 1597.8L2166.4 1596.6L2169.5 1595.4L2172.6 1594.2L2175.7 1593.0L2178.8 1591.7L2181.9 1590.5L2185.0 1589.3L2188.2 1588.1L2191.3 1586.9L2194.4 1585.6L2197.5 1584.4L2200.6 1583.2L2203.7 1582.0L2206.8 1580.8L2209.9 1579.5L2213.1 1578.3L2216.2 1577.1L2219.3 1575.9L2222.4 1574.7L2225.5 1573.4L2228.6 1572.2L2231.7 1571.0L2234.8 1569.8L2238.0 1568.6L2241.1 1567.3L2244.2 1566.1L2247.3 1564.9L2250.4 1563.7L2253.5 1562.4L2256.6 1561.2L2259.8 1560.0L2262.9 1558.8L2266.0 1557.6L2269.1 1556.3L2272.2 1555.1L2275.3 1553.9L2278.4 1552.7L2281.5 1551.5L2284.7 1550.2L2287.8 1549.0L2290.9 1547.8L2294.0 1546.6L2297.1 1545.4L2300.2 1544.1L2303.3 1542.9L2306.4 1541.7L2309.6 1540.5L2312.7 1539.3L2315.8 1538.0L2318.9 1536.8L2322.0 1535.6L2325.1 1534.4L2328.2 1533.2L2331.4 1531.9L2334.5 1530.7L2337.6 1529.5L2340.7 1528.3L2343.8 1527.1L2346.9 1525.8L2350.0 1524.6L2353.1 1523.4L2356.3 1522.2L2359.4 1521.0L2362.5 1519.7L2365.6 1518.5L2368.7 1517.3L2371.7 1516.0L2374.6 1514.7L2377.4 1513.2L2380.2 1511.8L2382.9 1510.2L2385.5 1508.7L2388.1 1507.1L2390.6 1505.5L2393.1 1503.8L2395.6 1502.2L2398.1 1500.5L2400.5 1498.9L2403.0 1497.2L2405.6 1495.6L2408.1 1494.0L2410.7 1492.4L2413.3 1490.8L2416.0 1489.3L2418.8 1487.9L2421.7 1486.5L2424.6 1485.2L2427.7 1483.9M1922.4 1729.6L1925.5 1728.4L1928.6 1727.1L1931.8 1725.9L1934.9 1724.7L1938.0 1723.5L1941.1 1722.3L1944.2 1721.0L1947.3 1719.8L1950.4 1718.6L1953.5 1717.4L1956.7 1716.2L1959.8 1714.9L1962.9 1713.7L1966.0 1712.5L1969.1 1711.3L1972.2 1710.1L1975.3 1708.8L1978.5 1707.6L1981.6 1706.4L1984.7 1705.2L1987.8 1704.0L1990.9 1702.7L1994.0 1701.5L1997.1 1700.3L2000.2 1699.1L2003.4 1697.9L2006.5 1696.6L2009.6 1695.4L2012.7 1694.2L2015.8 1693.0L2018.9 1691.8L2022.0 1690.5L2025.1 1689.3L2028.3 1688.1L2031.4 1686.9L2034.5 1685.7L2037.6 1684.4L2040.7 1683.2L2043.8 1682.0L2046.9 1680.8L2050.1 1679.6L2053.2 1678.3L2056.3 1677.1L2059.4 1675.9L2062.5 1674.7L2065.6 1673.5L2068.7 1672.2L2071.8 1671.0L2075.0 1669.8L2078.1 1668.6L2081.2 1667.4L2084.3 1666.1L2087.4 1664.9L2090.5 1663.7L2093.6 1662.5L2096.7 1661.2L2099.9 1660.0L2103.0 1658.8L2106.1 1657.6L2109.2 1656.4L2112.3 1655.1L2115.4 1653.9L2118.5 1652.7L2121.6 1651.5L2124.8 1650.3L2127.9 1649.0L2131.0 1647.8L2134.1 1646.6L2137.2 1645.4L2140.3 1644.2L2143.4 1642.9L2146.6 1641.7L2149.7 1640.5L2152.8 1639.3L2155.9 1638.1L2159.0 1636.8L2162.1 1635.6L2165.2 1634.4L2168.3 1633.2L2171.5 1632.0L2174.6 1630.7L2177.7 1629.5L2180.8 1628.3L2183.9 1627.1L2187.0 1625.9L2190.1 1624.6L2193.2 1623.4L2196.4 1622.2L2199.5 1621.0L2202.6 1619.8L2205.7 1618.5L2208.8 1617.3L2211.9 1616.1L2215.0 1614.9L2218.2 1613.7L2221.3 1612.4L2224.4 1611.2L2227.5 1610.0L2230.6 1608.8L2233.7 1607.6L2236.8 1606.3L2239.9 1605.1L2243.1 1603.9L2246.2 1602.7L2249.3 1601.5L2252.4 1600.2L2255.5 1599.0L2258.6 1597.8L2261.7 1596.6L2264.8 1595.4L2268.0 1594.1L2271.1 1592.9L2274.2 1591.7L2277.3 1590.5L2280.4 1589.3L2283.5 1588.0L2286.6 1586.8L2289.7 1585.6L2292.9 1584.4L2296.0 1583.2L2299.1 1581.9L2302.2 1580.7L2305.3 1579.5L2308.4 1578.3L2311.5 1577.1L2314.7 1575.8L2317.8 1574.6L2320.9 1573.4L2324.0 1572.2L2327.1 1571.0L2330.2 1569.7L2333.3 1568.5L2336.4 1567.3L2339.6 1566.1L2342.7 1564.9L2345.8 1563.6L2348.9 1562.4L2352.0 1561.2L2355.1 1560.0L2358.2 1558.8L2361.3 1557.5L2364.5 1556.3L2367.6 1555.1L2370.7 1553.9L2373.8 1552.7L2376.9 1551.4L2380.0 1550.2L2383.1 1549.0L2386.3 1547.8L2389.4 1546.6L2392.5 1545.3L2395.6 1544.1L2398.7 1542.9L2401.8 1541.7L2404.9 1540.5L2408.0 1539.2L2411.1 1538.0L2414.1 1536.7L2417.1 1535.3L2420.0 1534.0L2422.9 1532.6L2425.8 1531.1L2428.7 1529.7L2431.5 1528.2L2434.3 1526.8L2437.1 1525.3L2440.0 1523.8L2442.8 1522.3L2445.6 1520.9L2448.4 1519.4L2451.3 1517.9L2454.1 1516.5L2457.0 1515.1L2459.9 1513.7L2462.9 1512.4L2465.9 1511.0L2468.9 1509.7L2472.0 1508.5M1944.9 1759.6L1948.1 1758.4L1951.2 1757.2L1954.3 1756.0L1957.4 1754.8L1960.5 1753.5L1963.6 1752.3L1966.7 1751.1L1969.8 1749.9L1973.0 1748.7L1976.1 1747.4L1979.2 1746.2L1982.3 1745.0L1985.4 1743.8L1988.5 1742.6L1991.6 1741.3L1994.7 1740.1L1997.9 1738.9L2001.0 1737.7L2004.1 1736.5L2007.2 1735.2L2010.3 1734.0L2013.4 1732.8L2016.5 1731.6L2019.6 1730.4L2022.8 1729.1L2025.9 1727.9L2029.0 1726.7L2032.1 1725.5L2035.2 1724.3L2038.3 1723.0L2041.4 1721.8L2044.6 1720.6L2047.7 1719.4L2050.8 1718.2L2053.9 1716.9L2057.0 1715.7L2060.1 1714.5L2063.2 1713.3L2066.3 1712.1L2069.5 1710.8L2072.6 1709.6L2075.7 1708.4L2078.8 1707.2L2081.9 1706.0L2085.0 1704.7L2088.1 1703.5L2091.2 1702.3L2094.4 1701.1L2097.5 1699.9L2100.6 1698.6L2103.7 1697.4L2106.8 1696.2L2109.9 1695.0L2113.0 1693.8L2116.2 1692.5L2119.3 1691.3L2122.4 1690.1L2125.5 1688.9L2128.6 1687.7L2131.7 1686.4L2134.8 1685.2L2137.9 1684.0L2141.1 1682.8L2144.2 1681.6L2147.3 1680.3L2150.4 1679.1L2153.5 1677.9L2156.6 1676.7L2159.7 1675.5L2162.8 1674.2L2166.0 1673.0L2169.1 1671.8L2172.2 1670.6L2175.3 1669.4L2178.4 1668.1L2181.5 1666.9L2184.6 1665.7L2187.8 1664.5L2190.9 1663.3L2194.0 1662.0L2197.1 1660.8L2200.2 1659.6L2203.3 1658.4L2206.4 1657.2L2209.5 1655.9L2212.7 1654.7L2215.8 1653.5L2218.9 1652.3L2222.0 1651.1L2225.1 1649.8L2228.2 1648.6L2231.3 1647.4L2234.4 1646.2L2237.6 1645.0L2240.7 1643.7L2243.8 1642.5L2246.9 1641.3L2250.0 1640.1L2253.1 1638.9L2256.2 1637.6L2259.3 1636.4L2262.5 1635.2L2265.6 1634.0L2268.7 1632.8L2271.8 1631.5L2274.9 1630.3L2278.0 1629.1L2281.1 1627.9L2284.3 1626.7L2287.4 1625.4L2290.5 1624.2L2293.6 1623.0L2296.7 1621.8L2299.8 1620.6L2302.9 1619.3L2306.0 1618.1L2309.2 1616.9L2312.3 1615.7L2315.4 1614.5L2318.5 1613.2L2321.6 1612.0L2324.7 1610.8L2327.8 1609.6L2330.9 1608.4L2334.1 1607.1L2337.2 1605.9L2340.3 1604.7L2343.4 1603.5L2346.5 1602.3L2349.6 1601.0L2352.7 1599.8L2355.9 1598.6L2359.0 1597.4L2362.1 1596.2L2365.2 1594.9L2368.3 1593.7L2371.4 1592.5L2374.5 1591.3L2377.6 1590.1L2380.8 1588.8L2383.9 1587.6L2387.0 1586.4L2390.1 1585.2L2393.2 1584.0L2396.3 1582.7L2399.4 1581.5L2402.5 1580.3L2405.7 1579.1L2408.8 1577.9L2411.9 1576.6L2415.0 1575.4L2418.1 1574.2L2421.2 1573.0L2424.3 1571.8L2427.4 1570.5L2430.6 1569.3L2433.7 1568.1L2436.8 1566.9L2439.9 1565.7L2443.0 1564.4L2446.1 1563.2L2449.3 1562.0L2452.5 1560.8L2455.8 1559.7L2459.3 1558.7L2462.8 1557.7L2466.4 1556.7L2470.1 1555.8L2473.8 1554.9L2477.6 1554.0L2481.4 1553.1L2485.2 1552.3L2489.0 1551.4L2492.9 1550.6L2496.7 1549.7L2500.5 1548.8L2504.2 1548.0L2507.9 1547.0L2511.6 1546.1L2515.1 1545.1L2518.6 1544.1L2522.0 1543.0L2525.3 1541.9L2528.5 1540.7M1966.1 1791.6L1969.2 1790.3L1972.3 1789.1L1975.4 1787.9L1978.5 1786.7L1981.6 1785.5L1984.7 1784.2L1987.8 1783.0L1991.0 1781.8L1994.1 1780.6L1997.2 1779.4L2000.3 1778.1L2003.4 1776.9L2006.5 1775.7L2009.6 1774.5L2012.7 1773.3L2015.9 1772.0L2019.0 1770.8L2022.1 1769.6L2025.2 1768.4L2028.3 1767.2L2031.4 1765.9L2034.5 1764.7L2037.7 1763.5L2040.8 1762.3L2043.9 1761.1L2047.0 1759.8L2050.1 1758.6L2053.2 1757.4L2056.3 1756.2L2059.4 1755.0L2062.6 1753.7L2065.7 1752.5L2068.8 1751.3L2071.9 1750.1L2075.0 1748.9L2078.1 1747.6L2081.2 1746.4L2084.3 1745.2L2087.5 1744.0L2090.6 1742.8L2093.7 1741.5L2096.8 1740.3L2099.9 1739.1L2103.0 1737.9L2106.1 1736.7L2109.3 1735.4L2112.4 1734.2L2115.5 1733.0L2118.6 1731.8L2121.7 1730.6L2124.8 1729.3L2127.9 1728.1L2131.0 1726.9L2134.2 1725.7L2137.3 1724.5L2140.4 1723.2L2143.5 1722.0L2146.6 1720.8L2149.7 1719.6L2152.8 1718.4L2155.9 1717.1L2159.1 1715.9L2162.2 1714.7L2165.3 1713.5L2168.4 1712.3L2171.5 1711.0L2174.6 1709.8L2177.7 1708.6L2180.8 1707.4L2184.0 1706.2L2187.1 1704.9L2190.2 1703.7L2193.3 1702.5L2196.4 1701.3L2199.5 1700.1L2202.6 1698.8L2205.8 1697.6L2208.9 1696.4L2212.0 1695.2L2215.1 1694.0L2218.2 1692.7L2221.3 1691.5L2224.4 1690.3L2227.5 1689.1L2230.7 1687.9L2233.8 1686.6L2236.9 1685.4L2240.0 1684.2L2243.1 1683.0L2246.2 1681.8L2249.3 1680.5L2252.4 1679.3L2255.6 1678.1L2258.7 1676.9L2261.8 1675.7L2264.9 1674.4L2268.0 1673.2L2271.1 1672.0L2274.2 1670.8L2277.4 1669.6L2280.5 1668.3L2283.6 1667.1L2286.7 1665.9L2289.8 1664.7L2292.9 1663.5L2296.0 1662.2L2299.1 1661.0L2302.3 1659.8L2305.4 1658.6L2308.5 1657.3L2311.6 1656.1L2314.7 1654.9L2317.8 1653.7L2320.9 1652.5L2324.0 1651.2L2327.2 1650.0L2330.3 1648.8L2333.4 1647.6L2336.5 1646.4L2339.6 1645.1L2342.7 1643.9L2345.8 1642.7L2348.9 1641.5L2352.1 1640.3L2355.2 1639.0L2358.3 1637.8L2361.4 1636.6L2364.5 1635.4L2367.6 1634.2L2370.7 1632.9L2373.9 1631.7L2377.0 1630.5L2380.1 1629.3L2383.2 1628.1L2386.3 1626.8L2389.4 1625.6L2392.5 1624.4L2395.6 1623.2L2398.8 1622.0L2401.9 1620.7L2405.0 1619.5L2408.1 1618.3L2411.2 1617.1L2414.3 1615.9L2417.4 1614.6L2420.5 1613.4L2423.7 1612.2L2426.8 1611.0L2429.9 1609.8L2433.0 1608.5L2436.1 1607.3L2439.2 1606.1L2442.3 1604.9L2445.5 1603.7L2448.6 1602.4L2451.7 1601.2L2454.8 1600.0L2457.9 1598.8L2461.0 1597.6L2464.1 1596.3L2467.2 1595.1L2470.4 1593.9L2473.5 1592.7L2476.6 1591.5L2479.7 1590.2L2482.8 1589.0L2485.9 1587.8L2489.0 1586.6L2492.1 1585.4L2495.3 1584.1L2498.4 1582.9L2501.5 1581.7L2504.8 1580.5L2508.2 1579.3L2511.7 1578.2L2515.4 1577.1L2519.1 1576.0L2523.0 1574.9L2526.9 1573.8L2530.8 1572.7L2534.9 1571.7L2538.9 1570.6L2542.9 1569.5L2547.0 1568.5L2551.0 1567.4L2555.0 1566.4L2559.0 1565.3L2562.8 1564.2L2566.7 1563.1L2570.4 1562.0L2574.0 1560.8L2577.5 1559.7L2580.8 1558.5L2584.0 1557.3M1985.6 1825.1L1988.7 1823.9L1991.8 1822.6L1995.0 1821.4L1998.1 1820.2L2001.2 1819.0L2004.3 1817.8L2007.4 1816.5L2010.5 1815.3L2013.6 1814.1L2016.8 1812.9L2019.9 1811.7L2023.0 1810.4L2026.1 1809.2L2029.2 1808.0L2032.3 1806.8L2035.4 1805.6L2038.5 1804.3L2041.7 1803.1L2044.8 1801.9L2047.9 1800.7L2051.0 1799.5L2054.1 1798.2L2057.2 1797.0L2060.3 1795.8L2063.4 1794.6L2066.6 1793.4L2069.7 1792.1L2072.8 1790.9L2075.9 1789.7L2079.0 1788.5L2082.1 1787.3L2085.2 1786.0L2088.3 1784.8L2091.5 1783.6L2094.6 1782.4L2097.7 1781.2L2100.8 1779.9L2103.9 1778.7L2107.0 1777.5L2110.1 1776.3L2113.3 1775.1L2116.4 1773.8L2119.5 1772.6L2122.6 1771.4L2125.7 1770.2L2128.8 1769.0L2131.9 1767.7L2135.0 1766.5L2138.2 1765.3L2141.3 1764.1L2144.4 1762.9L2147.5 1761.6L2150.6 1760.4L2153.7 1759.2L2156.8 1758.0L2159.9 1756.8L2163.1 1755.5L2166.2 1754.3L2169.3 1753.1L2172.4 1751.9L2175.5 1750.7L2178.6 1749.4L2181.7 1748.2L2184.9 1747.0L2188.0 1745.8L2191.1 1744.6L2194.2 1743.3L2197.3 1742.1L2200.4 1740.9L2203.5 1739.7L2206.6 1738.5L2209.8 1737.2L2212.9 1736.0L2216.0 1734.8L2219.1 1733.6L2222.2 1732.4L2225.3 1731.1L2228.4 1729.9L2231.5 1728.7L2234.7 1727.5L2237.8 1726.3L2240.9 1725.0L2244.0 1723.8L2247.1 1722.6L2250.2 1721.4L2253.3 1720.2L2256.4 1718.9L2259.6 1717.7L2262.7 1716.5L2265.8 1715.3L2268.9 1714.1L2272.0 1712.8L2275.1 1711.6L2278.2 1710.4L2281.4 1709.2L2284.5 1708.0L2287.6 1706.7L2290.7 1705.5L2293.8 1704.3L2296.9 1703.1L2300.0 1701.9L2303.1 1700.6L2306.3 1699.4L2309.4 1698.2L2312.5 1697.0L2315.6 1695.8L2318.7 1694.5L2321.8 1693.3L2324.9 1692.1L2328.0 1690.9L2331.2 1689.7L2334.3 1688.4L2337.4 1687.2L2340.5 1686.0L2343.6 1684.8L2346.7 1683.6L2349.8 1682.3L2353.0 1681.1L2356.1 1679.9L2359.2 1678.7L2362.3 1677.5L2365.4 1676.2L2368.5 1675.0L2371.6 1673.8L2374.7 1672.6L2377.9 1671.4L2381.0 1670.1L2384.1 1668.9L2387.2 1667.7L2390.3 1666.5L2393.4 1665.3L2396.5 1664.0L2399.6 1662.8L2402.8 1661.6L2405.9 1660.4L2409.0 1659.2L2412.1 1657.9L2415.2 1656.7L2418.3 1655.5L2421.4 1654.3L2424.5 1653.1L2427.7 1651.8L2430.8 1650.6L2433.9 1649.4L2437.0 1648.2L2440.1 1647.0L2443.2 1645.7L2446.3 1644.5L2449.5 1643.3L2452.6 1642.1L2455.7 1640.9L2458.8 1639.6L2461.9 1638.4L2465.0 1637.2L2468.1 1636.0L2471.2 1634.8L2474.4 1633.5L2477.5 1632.3L2480.6 1631.1L2483.7 1629.9L2486.8 1628.7L2489.9 1627.4L2493.0 1626.2L2496.1 1625.0L2499.3 1623.8L2502.4 1622.6L2505.5 1621.3L2508.6 1620.1L2511.7 1618.9L2514.8 1617.7L2517.9 1616.5L2521.1 1615.2L2524.2 1614.0L2527.3 1612.8L2530.4 1611.6L2533.5 1610.4L2536.6 1609.1L2539.7 1607.9L2542.8 1606.7L2546.0 1605.5L2549.1 1604.3L2552.2 1603.0L2555.3 1601.8L2558.5 1600.6L2561.7 1599.4L2564.9 1598.1L2568.3 1596.9L2571.6 1595.7L2575.0 1594.4L2578.4 1593.2L2581.8 1592.0L2585.2 1590.7L2588.7 1589.5L2592.1 1588.3L2595.6 1587.0L2599.0 1585.8L2602.4 1584.5L2605.8 1583.3L2609.2 1582.1L2612.6 1580.8L2615.9 1579.6L2619.2 1578.4L2622.5 1577.1L2625.7 1575.9L2628.8 1574.7M2003.5 1860.0L2006.6 1858.8L2009.7 1857.6L2012.8 1856.3L2016.0 1855.1L2019.1 1853.9L2022.2 1852.7L2025.3 1851.5L2028.4 1850.2L2031.5 1849.0L2034.6 1847.8L2037.7 1846.6L2040.9 1845.4L2044.0 1844.1L2047.1 1842.9L2050.2 1841.7L2053.3 1840.5L2056.4 1839.3L2059.5 1838.0L2062.7 1836.8L2065.8 1835.6L2068.9 1834.4L2072.0 1833.2L2075.1 1831.9L2078.2 1830.7L2081.3 1829.5L2084.4 1828.3L2087.6 1827.1L2090.7 1825.8L2093.8 1824.6L2096.9 1823.4L2100.0 1822.2L2103.1 1821.0L2106.2 1819.7L2109.3 1818.5L2112.5 1817.3L2115.6 1816.1L2118.7 1814.9L2121.8 1813.6L2124.9 1812.4L2128.0 1811.2L2131.1 1810.0L2134.2 1808.8L2137.4 1807.5L2140.5 1806.3L2143.6 1805.1L2146.7 1803.9L2149.8 1802.7L2152.9 1801.4L2156.0 1800.2L2159.2 1799.0L2162.3 1797.8L2165.4 1796.6L2168.5 1795.3L2171.6 1794.1L2174.7 1792.9L2177.8 1791.7L2180.9 1790.5L2184.1 1789.2L2187.2 1788.0L2190.3 1786.8L2193.4 1785.6L2196.5 1784.4L2199.6 1783.1L2202.7 1781.9L2205.8 1780.7L2209.0 1779.5L2212.1 1778.3L2215.2 1777.0L2218.3 1775.8L2221.4 1774.6L2224.5 1773.4L2227.6 1772.2L2230.8 1770.9L2233.9 1769.7L2237.0 1768.5L2240.1 1767.3L2243.2 1766.1L2246.3 1764.8L2249.4 1763.6L2252.5 1762.4L2255.7 1761.2L2258.8 1760.0L2261.9 1758.7L2265.0 1757.5L2268.1 1756.3L2271.2 1755.1L2274.3 1753.9L2277.4 1752.6L2280.6 1751.4L2283.7 1750.2L2286.8 1749.0L2289.9 1747.8L2293.0 1746.5L2296.1 1745.3L2299.2 1744.1L2302.3 1742.9L2305.5 1741.7L2308.6 1740.4L2311.7 1739.2L2314.8 1738.0L2317.9 1736.8L2321.0 1735.6L2324.1 1734.3L2327.3 1733.1L2330.4 1731.9L2333.5 1730.7L2336.6 1729.4L2339.7 1728.2L2342.8 1727.0L2345.9 1725.8L2349.0 1724.6L2352.2 1723.3L2355.3 1722.1L2358.4 1720.9L2361.5 1719.7L2364.6 1718.5L2367.7 1717.2L2370.8 1716.0L2373.9 1714.8L2377.1 1713.6L2380.2 1712.4L2383.3 1711.1L2386.4 1709.9L2389.5 1708.7L2392.6 1707.5L2395.7 1706.3L2398.9 1705.0L2402.0 1703.8L2405.1 1702.6L2408.2 1701.4L2411.3 1700.2L2414.4 1698.9L2417.5 1697.7L2420.6 1696.5L2423.8 1695.3L2426.9 1694.1L2430.0 1692.8L2433.1 1691.6L2436.2 1690.4L2439.3 1689.2L2442.4 1688.0L2445.5 1686.7L2448.7 1685.5L2451.8 1684.3L2454.9 1683.1L2458.0 1681.9L2461.1 1680.6L2464.2 1679.4L2467.3 1678.2L2470.4 1677.0L2473.6 1675.8L2476.7 1674.5L2479.8 1673.3L2482.9 1672.1L2486.0 1670.9L2489.1 1669.7L2492.2 1668.4L2495.4 1667.2L2498.5 1666.0L2501.6 1664.8L2504.7 1663.6L2507.8 1662.3L2510.9 1661.1L2514.0 1659.9L2517.1 1658.7L2520.3 1657.5L2523.4 1656.2L2526.5 1655.0L2529.6 1653.8L2532.7 1652.6L2535.8 1651.4L2538.9 1650.1L2542.0 1648.9L2545.2 1647.7L2548.3 1646.5L2551.4 1645.3L2554.5 1644.0L2557.6 1642.8L2560.7 1641.6L2563.8 1640.4L2567.0 1639.2L2570.1 1637.9L2573.2 1636.7L2576.3 1635.5L2579.4 1634.3L2582.5 1633.1L2585.6 1631.8L2588.7 1630.6L2591.9 1629.4L2595.0 1628.2L2598.1 1627.0L2601.2 1625.7L2604.3 1624.5L2607.4 1623.3L2610.5 1622.1L2613.6 1620.9L2616.8 1619.6L2619.9 1618.4L2623.0 1617.2L2626.1 1616.0L2629.2 1614.8L2632.3 1613.5L2635.4 1612.3L2638.6 1611.1L2641.7 1609.9L2644.8 1608.7L2647.9 1607.4L2651.0 1606.2L2654.1 1605.0L2657.2 1603.8L2660.3 1602.6L2663.5 1601.3L2666.6 1600.1L2669.7 1598.9L2672.8 1597.7L2675.9 1596.5L2679.0 1595.2L2682.1 1594.0L2685.2 1592.8L2688.4 1591.6L2691.5 1590.4L2694.6 1589.1L2697.7 1587.9L2700.8 1586.7L2703.9 1585.5L2707.0 1584.3L2710.1 1583.0L2713.3 1581.8L2716.4 1580.6L2719.5 1579.4L2722.6 1578.2L2725.7 1576.9L2728.8 1575.7L2731.9 1574.5L2735.1 1573.3L2738.2 1572.1L2741.3 1570.8L2744.4 1569.6L2747.5 1568.4M2019.6 1896.1L2022.7 1894.8L2025.8 1893.6L2028.9 1892.4L2032.0 1891.2L2035.1 1890.0L2038.3 1888.7L2041.4 1887.5L2044.5 1886.3L2047.6 1885.1L2050.7 1883.9L2053.8 1882.6L2056.9 1881.4L2060.1 1880.2L2063.2 1879.0L2066.3 1877.8L2069.4 1876.5L2072.5 1875.3L2075.6 1874.1L2078.7 1872.9L2081.8 1871.7L2085.0 1870.4L2088.1 1869.2L2091.2 1868.0L2094.3 1866.8L2097.4 1865.6L2100.5 1864.3L2103.6 1863.1L2106.7 1861.9L2109.9 1860.7L2113.0 1859.5L2116.1 1858.2L2119.2 1857.0L2122.3 1855.8L2125.4 1854.6L2128.5 1853.4L2131.7 1852.1L2134.8 1850.9L2137.9 1849.7L2141.0 1848.5L2144.1 1847.3L2147.2 1846.0L2150.3 1844.8L2153.4 1843.6L2156.6 1842.4L2159.7 1841.2L2162.8 1839.9L2165.9 1838.7L2169.0 1837.5L2172.1 1836.3L2175.2 1835.1L2178.3 1833.8L2181.5 1832.6L2184.6 1831.4L2187.7 1830.2L2190.8 1829.0L2193.9 1827.7L2197.0 1826.5L2200.1 1825.3L2203.2 1824.1L2206.4 1822.9L2209.5 1821.6L2212.6 1820.4L2215.7 1819.2L2218.8 1818.0L2221.9 1816.8L2225.0 1815.5L2228.2 1814.3L2231.3 1813.1L2234.4 1811.9L2237.5 1810.7L2240.6 1809.4L2243.7 1808.2L2246.8 1807.0L2249.9 1805.8L2253.1 1804.6L2256.2 1803.3L2259.3 1802.1L2262.4 1800.9L2265.5 1799.7L2268.6 1798.5L2271.7 1797.2L2274.8 1796.0L2278.0 1794.8L2281.1 1793.6L2284.2 1792.4L2287.3 1791.1L2290.4 1789.9L2293.5 1788.7L2296.6 1787.5L2299.8 1786.3L2302.9 1785.0L2306.0 1783.8L2309.1 1782.6L2312.2 1781.4L2315.3 1780.2L2318.4 1778.9L2321.5 1777.7L2324.7 1776.5L2327.8 1775.3L2330.9 1774.1L2334.0 1772.8L2337.1 1771.6L2340.2 1770.4L2343.3 1769.2L2346.4 1768.0L2349.6 1766.7L2352.7 1765.5L2355.8 1764.3L2358.9 1763.1L2362.0 1761.9L2365.1 1760.6L2368.2 1759.4L2371.3 1758.2L2374.5 1757.0L2377.6 1755.8L2380.7 1754.5L2383.8 1753.3L2386.9 1752.1L2390.0 1750.9L2393.1 1749.7L2396.3 1748.4L2399.4 1747.2L2402.5 1746.0L2405.6 1744.8L2408.7 1743.6L2411.8 1742.3L2414.9 1741.1L2418.0 1739.9L2421.2 1738.7L2424.3 1737.5L2427.4 1736.2L2430.5 1735.0L2433.6 1733.8L2436.7 1732.6L2439.8 1731.3L2442.9 1730.1L2446.1 1728.9L2449.2 1727.7L2452.3 1726.5L2455.4 1725.2L2458.5 1724.0L2461.6 1722.8L2464.7 1721.6L2467.9 1720.4L2471.0 1719.1L2474.1 1717.9L2477.2 1716.7L2480.3 1715.5L2483.4 1714.3L2486.5 1713.0L2489.6 1711.8L2492.8 1710.6L2495.9 1709.4L2499.0 1708.2L2502.1 1706.9L2505.2 1705.7L2508.3 1704.5L2511.4 1703.3L2514.5 1702.1L2517.7 1700.8L2520.8 1699.6L2523.9 1698.4L2527.0 1697.2L2530.1 1696.0L2533.2 1694.7L2536.3 1693.5L2539.4 1692.3L2542.6 1691.1L2545.7 1689.9L2548.8 1688.6L2551.9 1687.4L2555.0 1686.2L2558.1 1685.0L2561.2 1683.8L2564.4 1682.5L2567.5 1681.3L2570.6 1680.1L2573.7 1678.9L2576.8 1677.7L2579.9 1676.4L2583.0 1675.2L2586.1 1674.0L2589.3 1672.8L2592.4 1671.6L2595.5 1670.3L2598.6 1669.1L2601.7 1667.9L2604.8 1666.7L2607.9 1665.5L2611.0 1664.2L2614.2 1663.0L2617.3 1661.8L2620.4 1660.6L2623.5 1659.4L2626.6 1658.1L2629.7 1656.9L2632.8 1655.7L2636.0 1654.5L2639.1 1653.3L2642.2 1652.0L2645.3 1650.8L2648.4 1649.6L2651.5 1648.4L2654.6 1647.2L2657.7 1645.9L2660.9 1644.7L2664.0 1643.5L2667.1 1642.3L2670.2 1641.1L2673.3 1639.8L2676.4 1638.6L2679.5 1637.4L2682.6 1636.2L2685.8 1635.0L2688.9 1633.7L2692.0 1632.5L2695.1 1631.3L2698.2 1630.1L2701.3 1628.9L2704.4 1627.6L2707.5 1626.4L2710.7 1625.2L2713.8 1624.0L2716.9 1622.8L2720.0 1621.5L2723.1 1620.3L2726.2 1619.1L2729.3 1617.9L2732.5 1616.7L2735.6 1615.4L2738.7 1614.2L2741.8 1613.0L2744.9 1611.8L2748.0 1610.6L2751.1 1609.3L2754.2 1608.1L2757.4 1606.9L2760.5 1605.7L2763.6 1604.5M2033.7 1933.0L2036.9 1931.8L2040.0 1930.6L2043.1 1929.4L2046.2 1928.1L2049.3 1926.9L2052.4 1925.7L2055.5 1924.5L2058.7 1923.3L2061.8 1922.0L2064.9 1920.8L2068.0 1919.6L2071.1 1918.4L2074.2 1917.2L2077.3 1915.9L2080.4 1914.7L2083.6 1913.5L2086.7 1912.3L2089.8 1911.1L2092.9 1909.8L2096.0 1908.6L2099.1 1907.4L2102.2 1906.2L2105.3 1905.0L2108.5 1903.7L2111.6 1902.5L2114.7 1901.3L2117.8 1900.1L2120.9 1898.9L2124.0 1897.6L2127.1 1896.4L2130.2 1895.2L2133.4 1894.0L2136.5 1892.8L2139.6 1891.5L2142.7 1890.3L2145.8 1889.1L2148.9 1887.9L2152.0 1886.7L2155.2 1885.4L2158.3 1884.2L2161.4 1883.0L2164.5 1881.8L2167.6 1880.6L2170.7 1879.3L2173.8 1878.1L2176.9 1876.9L2180.1 1875.7L2183.2 1874.5L2186.3 1873.2L2189.4 1872.0L2192.5 1870.8L2195.6 1869.6L2198.7 1868.4L2201.8 1867.1L2205.0 1865.9L2208.1 1864.7L2211.2 1863.5L2214.3 1862.3L2217.4 1861.0L2220.5 1859.8L2223.6 1858.6L2226.8 1857.4L2229.9 1856.2L2233.0 1854.9L2236.1 1853.7L2239.2 1852.5L2242.3 1851.3L2245.4 1850.1L2248.5 1848.8L2251.7 1847.6L2254.8 1846.4L2257.9 1845.2L2261.0 1844.0L2264.1 1842.7L2267.2 1841.5L2270.3 1840.3L2273.4 1839.1L2276.6 1837.9L2279.7 1836.6L2282.8 1835.4L2285.9 1834.2L2289.0 1833.0L2292.1 1831.8L2295.2 1830.5L2298.4 1829.3L2301.5 1828.1L2304.6 1826.9L2307.7 1825.7L2310.8 1824.4L2313.9 1823.2L2317.0 1822.0L2320.1 1820.8L2323.3 1819.6L2326.4 1818.3L2329.5 1817.1L2332.6 1815.9L2335.7 1814.7L2338.8 1813.5L2341.9 1812.2L2345.0 1811.0L2348.2 1809.8L2351.3 1808.6L2354.4 1807.4L2357.5 1806.1L2360.6 1804.9L2363.7 1803.7L2366.8 1802.5L2369.9 1801.3L2373.1 1800.0L2376.2 1798.8L2379.3 1797.6L2382.4 1796.4L2385.5 1795.2L2388.6 1793.9L2391.7 1792.7L2394.9 1791.5L2398.0 1790.3L2401.1 1789.1L2404.2 1787.8L2407.3 1786.6L2410.4 1785.4L2413.5 1784.2L2416.6 1783.0L2419.8 1781.7L2422.9 1780.5L2426.0 1779.3L2429.1 1778.1L2432.2 1776.9L2435.3 1775.6L2438.4 1774.4L2441.5 1773.2L2444.7 1772.0L2447.8 1770.8L2450.9 1769.5L2454.0 1768.3L2457.1 1767.1L2460.2 1765.9L2463.3 1764.7L2466.5 1763.4L2469.6 1762.2L2472.7 1761.0L2475.8 1759.8L2478.9 1758.6L2482.0 1757.3L2485.1 1756.1L2488.2 1754.9L2491.4 1753.7L2494.5 1752.5L2497.6 1751.2L2500.7 1750.0L2503.8 1748.8L2506.9 1747.6L2510.0 1746.4L2513.1 1745.1L2516.3 1743.9L2519.4 1742.7L2522.5 1741.5L2525.6 1740.3L2528.7 1739.0L2531.8 1737.8L2534.9 1736.6L2538.0 1735.4L2541.2 1734.2L2544.3 1732.9L2547.4 1731.7L2550.5 1730.5L2553.6 1729.3L2556.7 1728.1L2559.8 1726.8L2563.0 1725.6L2566.1 1724.4L2569.2 1723.2L2572.3 1722.0L2575.4 1720.7L2578.5 1719.5L2581.6 1718.3L2584.7 1717.1L2587.9 1715.9L2591.0 1714.6L2594.1 1713.4L2597.2 1712.2L2600.3 1711.0L2603.4 1709.8L2606.5 1708.5L2609.6 1707.3L2612.8 1706.1L2615.9 1704.9L2619.0 1703.7L2622.1 1702.4L2625.2 1701.2L2628.3 1700.0L2631.4 1698.8L2634.6 1697.6L2637.7 1696.3L2640.8 1695.1L2643.9 1693.9L2647.0 1692.7L2650.1 1691.4L2653.2 1690.2L2656.3 1689.0L2659.5 1687.8L2662.6 1686.6L2665.7 1685.3L2668.8 1684.1L2671.9 1682.9L2675.0 1681.7L2678.1 1680.5L2681.2 1679.2L2684.4 1678.0L2687.5 1676.8L2690.6 1675.6L2693.7 1674.4L2696.8 1673.1L2699.9 1671.9L2703.0 1670.7L2706.1 1669.5L2709.3 1668.3L2712.4 1667.0L2715.5 1665.8L2718.6 1664.6L2721.7 1663.4L2724.8 1662.2L2727.9 1660.9L2731.1 1659.7L2734.2 1658.5L2737.3 1657.3L2740.4 1656.1L2743.5 1654.8L2746.6 1653.6L2749.7 1652.4L2752.8 1651.2L2756.0 1650.0L2759.1 1648.7L2762.2 1647.5L2765.3 1646.3L2768.4 1645.1L2771.5 1643.9L2774.6 1642.6L2777.7 1641.4M2045.9 1970.6L2049.0 1969.4L2052.1 1968.2L2055.2 1967.0L2058.4 1965.8L2061.5 1964.5L2064.6 1963.3L2067.7 1962.1L2070.8 1960.9L2073.9 1959.7L2077.0 1958.4L2080.1 1957.2L2083.3 1956.0L2086.4 1954.8L2089.5 1953.6L2092.6 1952.3L2095.7 1951.1L2098.8 1949.9L2101.9 1948.7L2105.0 1947.5L2108.2 1946.2L2111.3 1945.0L2114.4 1943.8L2117.5 1942.6L2120.6 1941.4L2123.7 1940.1L2126.8 1938.9L2130.0 1937.7L2133.1 1936.5L2136.2 1935.3L2139.3 1934.0L2142.4 1932.8L2145.5 1931.6L2148.6 1930.4L2151.7 1929.2L2154.9 1927.9L2158.0 1926.7L2161.1 1925.5L2164.2 1924.3L2167.3 1923.1L2170.4 1921.8L2173.5 1920.6L2176.6 1919.4L2179.8 1918.2L2182.9 1917.0L2186.0 1915.7L2189.1 1914.5L2192.2 1913.3L2195.3 1912.1L2198.4 1910.9L2201.5 1909.6L2204.7 1908.4L2207.8 1907.2L2210.9 1906.0L2214.0 1904.8L2217.1 1903.5L2220.2 1902.3L2223.3 1901.1L2226.5 1899.9L2229.6 1898.7L2232.7 1897.4L2235.8 1896.2L2238.9 1895.0L2242.0 1893.8L2245.1 1892.6L2248.2 1891.3L2251.4 1890.1L2254.5 1888.9L2257.6 1887.7L2260.7 1886.5L2263.8 1885.2L2266.9 1884.0L2270.0 1882.8L2273.1 1881.6L2276.3 1880.4L2279.4 1879.1L2282.5 1877.9L2285.6 1876.7L2288.7 1875.5L2291.8 1874.3L2294.9 1873.0L2298.1 1871.8L2301.2 1870.6L2304.3 1869.4L2307.4 1868.2L2310.5 1866.9L2313.6 1865.7L2316.7 1864.5L2319.8 1863.3L2323.0 1862.1L2326.1 1860.8L2329.2 1859.6L2332.3 1858.4L2335.4 1857.2L2338.5 1856.0L2341.6 1854.7L2344.7 1853.5L2347.9 1852.3L2351.0 1851.1L2354.1 1849.9L2357.2 1848.6L2360.3 1847.4L2363.4 1846.2L2366.5 1845.0L2369.6 1843.8L2372.8 1842.5L2375.9 1841.3L2379.0 1840.1L2382.1 1838.9L2385.2 1837.7L2388.3 1836.4L2391.4 1835.2L2394.6 1834.0L2397.7 1832.8L2400.8 1831.6L2403.9 1830.3L2407.0 1829.1L2410.1 1827.9L2413.2 1826.7L2416.3 1825.5L2419.5 1824.2L2422.6 1823.0L2425.7 1821.8L2428.8 1820.6L2431.9 1819.4L2435.0 1818.1L2438.1 1816.9L2441.2 1815.7L2444.4 1814.5L2447.5 1813.3L2450.6 1812.0L2453.7 1810.8L2456.8 1809.6L2459.9 1808.4L2463.0 1807.2L2466.2 1805.9L2469.3 1804.7L2472.4 1803.5L2475.5 1802.3L2478.6 1801.1L2481.7 1799.8L2484.8 1798.6L2487.9 1797.4L2491.1 1796.2L2494.2 1794.9L2497.3 1793.7L2500.4 1792.5L2503.5 1791.3L2506.6 1790.1L2509.7 1788.8L2512.8 1787.6L2516.0 1786.4L2519.1 1785.2L2522.2 1784.0L2525.3 1782.7L2528.4 1781.5L2531.5 1780.3L2534.6 1779.1L2537.8 1777.9L2540.9 1776.6L2544.0 1775.4L2547.1 1774.2L2550.2 1773.0L2553.3 1771.8L2556.4 1770.5L2559.5 1769.3L2562.7 1768.1L2565.8 1766.9L2568.9 1765.7L2572.0 1764.4L2575.1 1763.2L2578.2 1762.0L2581.3 1760.8L2584.4 1759.6L2587.6 1758.3L2590.7 1757.1L2593.8 1755.9L2596.9 1754.7L2600.0 1753.5L2603.1 1752.2L2606.2 1751.0L2609.3 1749.8L2612.5 1748.6L2615.6 1747.4L2618.7 1746.1L2621.8 1744.9L2624.9 1743.7L2628.0 1742.5L2631.1 1741.3L2634.3 1740.0L2637.4 1738.8L2640.5 1737.6L2643.6 1736.4L2646.7 1735.2L2649.8 1733.9L2652.9 1732.7L2656.0 1731.5L2659.2 1730.3L2662.3 1729.1L2665.4 1727.8L2668.5 1726.6L2671.6 1725.4L2674.7 1724.2L2677.8 1723.0L2680.9 1721.7L2684.1 1720.5L2687.2 1719.3L2690.3 1718.1L2693.4 1716.9L2696.5 1715.6L2699.6 1714.4L2702.7 1713.2L2705.9 1712.0L2709.0 1710.8L2712.1 1709.5L2715.2 1708.3L2718.3 1707.1L2721.4 1705.9L2724.5 1704.7L2727.6 1703.4L2730.8 1702.2L2733.9 1701.0L2737.0 1699.8L2740.1 1698.6L2743.2 1697.3L2746.3 1696.1L2749.4 1694.9L2752.5 1693.7L2755.7 1692.5L2758.8 1691.2L2761.9 1690.0L2765.0 1688.8L2768.1 1687.6L2771.2 1686.4L2774.3 1685.1L2777.4 1683.9L2780.6 1682.7L2783.7 1681.5L2786.8 1680.3L2789.9 1679.0M2056.0 2008.7L2059.1 2007.4L2062.2 2006.2L2065.3 2005.0L2068.4 2003.8L2071.5 2002.5L2074.6 2001.3L2077.8 2000.1L2080.9 1998.9L2084.0 1997.7L2087.1 1996.4L2090.2 1995.2L2093.3 1994.0L2096.4 1992.8L2099.5 1991.6L2102.7 1990.3L2105.8 1989.1L2108.9 1987.9L2112.0 1986.7L2115.1 1985.5L2118.2 1984.2L2121.3 1983.0L2124.4 1981.8L2127.6 1980.6L2130.7 1979.4L2133.8 1978.1L2136.9 1976.9L2140.0 1975.7L2143.1 1974.5L2146.2 1973.3L2149.3 1972.0L2152.5 1970.8L2155.6 1969.6L2158.7 1968.4L2161.8 1967.2L2164.9 1965.9L2168.0 1964.7L2171.1 1963.5L2174.3 1962.3L2177.4 1961.1L2180.5 1959.8L2183.6 1958.6L2186.7 1957.4L2189.8 1956.2L2192.9 1955.0L2196.0 1953.7L2199.2 1952.5L2202.3 1951.3L2205.4 1950.1L2208.5 1948.9L2211.6 1947.6L2214.7 1946.4L2217.8 1945.2L2220.9 1944.0L2224.1 1942.8L2227.2 1941.5L2230.3 1940.3L2233.4 1939.1L2236.5 1937.9L2239.6 1936.7L2242.7 1935.4L2245.9 1934.2L2249.0 1933.0L2252.1 1931.8L2255.2 1930.6L2258.3 1929.3L2261.4 1928.1L2264.5 1926.9L2267.6 1925.7L2270.8 1924.5L2273.9 1923.2L2277.0 1922.0L2280.1 1920.8L2283.2 1919.6L2286.3 1918.4L2289.4 1917.1L2292.5 1915.9L2295.7 1914.7L2298.8 1913.5L2301.9 1912.3L2305.0 1911.0L2308.1 1909.8L2311.2 1908.6L2314.3 1907.4L2317.4 1906.2L2320.6 1904.9L2323.7 1903.7L2326.8 1902.5L2329.9 1901.3L2333.0 1900.1L2336.1 1898.8L2339.2 1897.6L2342.4 1896.4L2345.5 1895.2L2348.6 1894.0L2351.7 1892.7L2354.8 1891.5L2357.9 1890.3L2361.0 1889.1L2364.1 1887.9L2367.3 1886.6L2370.4 1885.4L2373.5 1884.2L2376.6 1883.0L2379.7 1881.8L2382.8 1880.5L2385.9 1879.3L2389.0 1878.1L2392.2 1876.9L2395.3 1875.7L2398.4 1874.4L2401.5 1873.2L2404.6 1872.0L2407.7 1870.8L2410.8 1869.6L2414.0 1868.3L2417.1 1867.1L2420.2 1865.9L2423.3 1864.7L2426.4 1863.5L2429.5 1862.2L2432.6 1861.0L2435.7 1859.8L2438.9 1858.6L2442.0 1857.4L2445.1 1856.1L2448.2 1854.9L2451.3 1853.7L2454.4 1852.5L2457.5 1851.3L2460.6 1850.0L2463.8 1848.8L2466.9 1847.6L2470.0 1846.4L2473.1 1845.2L2476.2 1843.9L2479.3 1842.7L2482.4 1841.5L2485.5 1840.3L2488.7 1839.1L2491.8 1837.8L2494.9 1836.6L2498.0 1835.4L2501.1 1834.2L2504.2 1833.0L2507.3 1831.7L2510.5 1830.5L2513.6 1829.3L2516.7 1828.1L2519.8 1826.9L2522.9 1825.6L2526.0 1824.4L2529.1 1823.2L2532.2 1822.0L2535.4 1820.8L2538.5 1819.5L2541.6 1818.3L2544.7 1817.1L2547.8 1815.9L2550.9 1814.7L2554.0 1813.4L2557.1 1812.2L2560.3 1811.0L2563.4 1809.8L2566.5 1808.6L2569.6 1807.3L2572.7 1806.1L2575.8 1804.9L2578.9 1803.7L2582.1 1802.5L2585.2 1801.2L2588.3 1800.0L2591.4 1798.8L2594.5 1797.6L2597.6 1796.4L2600.7 1795.1L2603.8 1793.9L2607.0 1792.7L2610.1 1791.5L2613.2 1790.3L2616.3 1789.0L2619.4 1787.8L2622.5 1786.6L2625.6 1785.4L2628.7 1784.2L2631.9 1782.9L2635.0 1781.7L2638.1 1780.5L2641.2 1779.3L2644.3 1778.1L2647.4 1776.8L2650.5 1775.6L2653.6 1774.4L2656.8 1773.2L2659.9 1772.0L2663.0 1770.7L2666.1 1769.5L2669.2 1768.3L2672.3 1767.1L2675.4 1765.9L2678.6 1764.6L2681.7 1763.4L2684.8 1762.2L2687.9 1761.0L2691.0 1759.8L2694.1 1758.5L2697.2 1757.3L2700.3 1756.1L2703.5 1754.9L2706.6 1753.7L2709.7 1752.4L2712.8 1751.2L2715.9 1750.0L2719.0 1748.8L2722.1 1747.6L2725.2 1746.3L2728.4 1745.1L2731.5 1743.9L2734.6 1742.7L2737.7 1741.5L2740.8 1740.2L2743.9 1739.0L2747.0 1737.8L2750.2 1736.6L2753.3 1735.4L2756.4 1734.1L2759.5 1732.9L2762.6 1731.7L2765.7 1730.5L2768.8 1729.3L2771.9 1728.0L2775.1 1726.8L2778.2 1725.6L2781.3 1724.4L2784.4 1723.2L2787.5 1721.9L2790.6 1720.7L2793.7 1719.5L2796.8 1718.3L2800.0 1717.1M2063.9 2046.8L2067.0 2045.6L2070.1 2044.4L2073.2 2043.1L2076.3 2041.9L2079.4 2040.7L2082.5 2039.5L2085.6 2038.3L2088.8 2037.0L2091.9 2035.8L2095.0 2034.6L2098.1 2033.4L2101.2 2032.2L2104.3 2030.9L2107.4 2029.7L2110.5 2028.5L2113.7 2027.3L2116.8 2026.1L2119.9 2024.8L2123.0 2023.6L2126.1 2022.4L2129.2 2021.2L2132.3 2020.0L2135.5 2018.7L2138.6 2017.5L2141.7 2016.3L2144.8 2015.1L2147.9 2013.8L2151.0 2012.6L2154.1 2011.4L2157.2 2010.2L2160.4 2009.0L2163.5 2007.7L2166.6 2006.5L2169.7 2005.3L2172.8 2004.1L2175.9 2002.9L2179.0 2001.6L2182.1 2000.4L2185.3 1999.2L2188.4 1998.0L2191.5 1996.8L2194.6 1995.5L2197.7 1994.3L2200.8 1993.1L2203.9 1991.9L2207.1 1990.7L2210.2 1989.4L2213.3 1988.2L2216.4 1987.0L2219.5 1985.8L2222.6 1984.6L2225.7 1983.3L2228.8 1982.1L2232.0 1980.9L2235.1 1979.7L2238.2 1978.5L2241.3 1977.2L2244.4 1976.0L2247.5 1974.8L2250.6 1973.6L2253.7 1972.4L2256.9 1971.1L2260.0 1969.9L2263.1 1968.7L2266.2 1967.5L2269.3 1966.3L2272.4 1965.0L2275.5 1963.8L2278.7 1962.6L2281.8 1961.4L2284.9 1960.2L2288.0 1958.9L2291.1 1957.7L2294.2 1956.5L2297.3 1955.3L2300.4 1954.1L2303.6 1952.8L2306.7 1951.6L2309.8 1950.4L2312.9 1949.2L2316.0 1948.0L2319.1 1946.7L2322.2 1945.5L2325.3 1944.3L2328.5 1943.1L2331.6 1941.9L2334.7 1940.6L2337.8 1939.4L2340.9 1938.2L2344.0 1937.0L2347.1 1935.8L2350.2 1934.5L2353.4 1933.3L2356.5 1932.1L2359.6 1930.9L2362.7 1929.7L2365.8 1928.4L2368.9 1927.2L2372.0 1926.0L2375.2 1924.8L2378.3 1923.6L2381.4 1922.3L2384.5 1921.1L2387.6 1919.9L2390.7 1918.7L2393.8 1917.5L2396.9 1916.2L2400.1 1915.0L2403.2 1913.8L2406.3 1912.6L2409.4 1911.4L2412.5 1910.1L2415.6 1908.9L2418.7 1907.7L2421.8 1906.5L2425.0 1905.3L2428.1 1904.0L2431.2 1902.8L2434.3 1901.6L2437.4 1900.4L2440.5 1899.2L2443.6 1897.9L2446.8 1896.7L2449.9 1895.5L2453.0 1894.3L2456.1 1893.1L2459.2 1891.8L2462.3 1890.6L2465.4 1889.4L2468.5 1888.2L2471.7 1887.0L2474.8 1885.7L2477.9 1884.5L2481.0 1883.3L2484.1 1882.1L2487.2 1880.9L2490.3 1879.6L2493.4 1878.4L2496.6 1877.2L2499.7 1876.0L2502.8 1874.8L2505.9 1873.5L2509.0 1872.3L2512.1 1871.1L2515.2 1869.9L2518.3 1868.7L2521.5 1867.4L2524.6 1866.2L2527.7 1865.0L2530.8 1863.8L2533.9 1862.6L2537.0 1861.3L2540.1 1860.1L2543.3 1858.9L2546.4 1857.7L2549.5 1856.5L2552.6 1855.2L2555.7 1854.0L2558.8 1852.8L2561.9 1851.6L2565.0 1850.4L2568.2 1849.1L2571.3 1847.9L2574.4 1846.7L2577.5 1845.5L2580.6 1844.3L2583.7 1843.0L2586.8 1841.8L2589.9 1840.6L2593.1 1839.4L2596.2 1838.2L2599.3 1836.9L2602.4 1835.7L2605.5 1834.5L2608.6 1833.3L2611.7 1832.1L2614.9 1830.8L2618.0 1829.6L2621.1 1828.4L2624.2 1827.2L2627.3 1826.0L2630.4 1824.7L2633.5 1823.5L2636.6 1822.3L2639.8 1821.1L2642.9 1819.9L2646.0 1818.6L2649.1 1817.4L2652.2 1816.2L2655.3 1815.0L2658.4 1813.8L2661.5 1812.5L2664.7 1811.3L2667.8 1810.1L2670.9 1808.9L2674.0 1807.7L2677.1 1806.4L2680.2 1805.2L2683.3 1804.0L2686.4 1802.8L2689.6 1801.6L2692.7 1800.3L2695.8 1799.1L2698.9 1797.9L2702.0 1796.7L2705.1 1795.5L2708.2 1794.2L2711.4 1793.0L2714.5 1791.8L2717.6 1790.6L2720.7 1789.4L2723.8 1788.1L2726.9 1786.9L2730.0 1785.7L2733.1 1784.5L2736.3 1783.3L2739.4 1782.0L2742.5 1780.8L2745.6 1779.6L2748.7 1778.4L2751.8 1777.2L2754.9 1775.9L2758.0 1774.7L2761.2 1773.5L2764.3 1772.3L2767.4 1771.1L2770.5 1769.8L2773.6 1768.6L2776.7 1767.4L2779.8 1766.2L2783.0 1765.0L2786.1 1763.7L2789.2 1762.5L2792.3 1761.3L2795.4 1760.1L2798.5 1758.9L2801.6 1757.6L2804.7 1756.4L2807.9 1755.2M2069.5 2084.8L2072.6 2083.6L2075.8 2082.4L2078.9 2081.1L2082.0 2079.9L2085.1 2078.7L2088.2 2077.5L2091.3 2076.3L2094.4 2075.0L2097.6 2073.8L2100.7 2072.6L2103.8 2071.4L2106.9 2070.2L2110.0 2068.9L2113.1 2067.7L2116.2 2066.5L2119.3 2065.3L2122.5 2064.1L2125.6 2062.8L2128.7 2061.6L2131.8 2060.4L2134.9 2059.2L2138.0 2058.0L2141.1 2056.7L2144.2 2055.5L2147.4 2054.3L2150.5 2053.1L2153.6 2051.9L2156.7 2050.6L2159.8 2049.4L2162.9 2048.2L2166.0 2047.0L2169.1 2045.8L2172.3 2044.5L2175.4 2043.3L2178.5 2042.1L2181.6 2040.9L2184.7 2039.7L2187.8 2038.4L2190.9 2037.2L2194.1 2036.0L2197.2 2034.8L2200.3 2033.6L2203.4 2032.3L2206.5 2031.1L2209.6 2029.9L2212.7 2028.7L2215.8 2027.5L2219.0 2026.2L2222.1 2025.0L2225.2 2023.8L2228.3 2022.6L2231.4 2021.4L2234.5 2020.1L2237.6 2018.9L2240.7 2017.7L2243.9 2016.5L2247.0 2015.3L2250.1 2014.0L2253.2 2012.8L2256.3 2011.6L2259.4 2010.4L2262.5 2009.2L2265.7 2007.9L2268.8 2006.7L2271.9 2005.5L2275.0 2004.3L2278.1 2003.1L2281.2 2001.8L2284.3 2000.6L2287.4 1999.4L2290.6 1998.2L2293.7 1997.0L2296.8 1995.7L2299.9 1994.5L2303.0 1993.3L2306.1 1992.1L2309.2 1990.9L2312.3 1989.6L2315.5 1988.4L2318.6 1987.2L2321.7 1986.0L2324.8 1984.8L2327.9 1983.5L2331.0 1982.3L2334.1 1981.1L2337.2 1979.9L2340.4 1978.7L2343.5 1977.4L2346.6 1976.2L2349.7 1975.0L2352.8 1973.8L2355.9 1972.6L2359.0 1971.3L2362.2 1970.1L2365.3 1968.9L2368.4 1967.7L2371.5 1966.5L2374.6 1965.2L2377.7 1964.0L2380.8 1962.8L2383.9 1961.6L2387.1 1960.4L2390.2 1959.1L2393.3 1957.9L2396.4 1956.7L2399.5 1955.5L2402.6 1954.3L2405.7 1953.0L2408.8 1951.8L2412.0 1950.6L2415.1 1949.4L2418.2 1948.2L2421.3 1946.9L2424.4 1945.7L2427.5 1944.5L2430.6 1943.3L2433.8 1942.1L2436.9 1940.8L2440.0 1939.6L2443.1 1938.4L2446.2 1937.2L2449.3 1936.0L2452.4 1934.7L2455.5 1933.5L2458.7 1932.3L2461.8 1931.1L2464.9 1929.9L2468.0 1928.6L2471.1 1927.4L2474.2 1926.2L2477.3 1925.0L2480.4 1923.8L2483.6 1922.5L2486.7 1921.3L2489.8 1920.1L2492.9 1918.9L2496.0 1917.7L2499.1 1916.4L2502.2 1915.2L2505.3 1914.0L2508.5 1912.8L2511.6 1911.6L2514.7 1910.3L2517.8 1909.1L2520.9 1907.9L2524.0 1906.7L2527.1 1905.5L2530.3 1904.2L2533.4 1903.0L2536.5 1901.8L2539.6 1900.6L2542.7 1899.4L2545.8 1898.1L2548.9 1896.9L2552.0 1895.7L2555.2 1894.5L2558.3 1893.3L2561.4 1892.0L2564.5 1890.8L2567.6 1889.6L2570.7 1888.4L2573.8 1887.2L2576.9 1885.9L2580.1 1884.7L2583.2 1883.5L2586.3 1882.3L2589.4 1881.1L2592.5 1879.8L2595.6 1878.6L2598.7 1877.4L2601.9 1876.2L2605.0 1875.0L2608.1 1873.7L2611.2 1872.5L2614.3 1871.3L2617.4 1870.1L2620.5 1868.9L2623.6 1867.6L2626.8 1866.4L2629.9 1865.2L2633.0 1864.0L2636.1 1862.8L2639.2 1861.5L2642.3 1860.3L2645.4 1859.1L2648.5 1857.9L2651.7 1856.7L2654.8 1855.4L2657.9 1854.2L2661.0 1853.0L2664.1 1851.8L2667.2 1850.6L2670.3 1849.3L2673.5 1848.1L2676.6 1846.9L2679.7 1845.7L2682.8 1844.5L2685.9 1843.2L2689.0 1842.0L2692.1 1840.8L2695.2 1839.6L2698.4 1838.4L2701.5 1837.1L2704.6 1835.9L2707.7 1834.7L2710.8 1833.5L2713.9 1832.2L2717.0 1831.0L2720.1 1829.8L2723.3 1828.6L2726.4 1827.4L2729.5 1826.1L2732.6 1824.9L2735.7 1823.7L2738.8 1822.5L2741.9 1821.3L2745.0 1820.0L2748.2 1818.8L2751.3 1817.6L2754.4 1816.4L2757.5 1815.2L2760.6 1813.9L2763.7 1812.7L2766.8 1811.5L2770.0 1810.3L2773.1 1809.1L2776.2 1807.8L2779.3 1806.6L2782.4 1805.4L2785.5 1804.2L2788.6 1803.0L2791.7 1801.7L2794.9 1800.5L2798.0 1799.3L2801.1 1798.1L2804.2 1796.9L2807.3 1795.6L2810.4 1794.4L2813.5 1793.2M2073.0 2122.4L2076.1 2121.2L2079.2 2120.0L2082.3 2118.8L2085.4 2117.6L2088.5 2116.3L2091.6 2115.1L2094.7 2113.9L2097.9 2112.7L2101.0 2111.5L2104.1 2110.2L2107.2 2109.0L2110.3 2107.8L2113.4 2106.6L2116.5 2105.4L2119.7 2104.1L2122.8 2102.9L2125.9 2101.7L2129.0 2100.5L2132.1 2099.3L2135.2 2098.0L2138.3 2096.8L2141.4 2095.6L2144.6 2094.4L2147.7 2093.2L2150.8 2091.9L2153.9 2090.7L2157.0 2089.5L2160.1 2088.3L2163.2 2087.1L2166.3 2085.8L2169.5 2084.6L2172.6 2083.4L2175.7 2082.2L2178.8 2081.0L2181.9 2079.7L2185.0 2078.5L2188.1 2077.3L2191.2 2076.1L2194.4 2074.9L2197.5 2073.6L2200.6 2072.4L2203.7 2071.2L2206.8 2070.0L2209.9 2068.8L2213.0 2067.5L2216.2 2066.3L2219.3 2065.1L2222.4 2063.9L2225.5 2062.7L2228.6 2061.4L2231.7 2060.2L2234.8 2059.0L2237.9 2057.8L2241.1 2056.6L2244.2 2055.3L2247.3 2054.1L2250.4 2052.9L2253.5 2051.7L2256.6 2050.5L2259.7 2049.2L2262.8 2048.0L2266.0 2046.8L2269.1 2045.6L2272.2 2044.4L2275.3 2043.1L2278.4 2041.9L2281.5 2040.7L2284.6 2039.5L2287.8 2038.2L2290.9 2037.0L2294.0 2035.8L2297.1 2034.6L2300.2 2033.4L2303.3 2032.1L2306.4 2030.9L2309.5 2029.7L2312.7 2028.5L2315.8 2027.3L2318.9 2026.0L2322.0 2024.8L2325.1 2023.6L2328.2 2022.4L2331.3 2021.2L2334.4 2019.9L2337.6 2018.7L2340.7 2017.5L2343.8 2016.3L2346.9 2015.1L2350.0 2013.8L2353.1 2012.6L2356.2 2011.4L2359.3 2010.2L2362.5 2009.0L2365.6 2007.7L2368.7 2006.5L2371.8 2005.3L2374.9 2004.1L2378.0 2002.9L2381.1 2001.6L2384.3 2000.4L2387.4 1999.2L2390.5 1998.0L2393.6 1996.8L2396.7 1995.5L2399.8 1994.3L2402.9 1993.1L2406.0 1991.9L2409.2 1990.7L2412.3 1989.4L2415.4 1988.2L2418.5 1987.0L2421.6 1985.8L2424.7 1984.6L2427.8 1983.3L2430.9 1982.1L2434.1 1980.9L2437.2 1979.7L2440.3 1978.5L2443.4 1977.2L2446.5 1976.0L2449.6 1974.8L2452.7 1973.6L2455.9 1972.4L2459.0 1971.1L2462.1 1969.9L2465.2 1968.7L2468.3 1967.5L2471.4 1966.3L2474.5 1965.0L2477.6 1963.8L2480.8 1962.6L2483.9 1961.4L2487.0 1960.2L2490.1 1958.9L2493.2 1957.7L2496.3 1956.5L2499.4 1955.3L2502.5 1954.1L2505.7 1952.8L2508.8 1951.6L2511.9 1950.4L2515.0 1949.2L2518.1 1948.0L2521.2 1946.7L2524.3 1945.5L2527.5 1944.3L2530.6 1943.1L2533.7 1941.9L2536.8 1940.6L2539.9 1939.4L2543.0 1938.2L2546.1 1937.0L2549.2 1935.8L2552.4 1934.5L2555.5 1933.3L2558.6 1932.1L2561.7 1930.9L2564.8 1929.7L2567.9 1928.4L2571.0 1927.2L2574.1 1926.0L2577.3 1924.8L2580.4 1923.6L2583.5 1922.3L2586.6 1921.1L2589.7 1919.9L2592.8 1918.7L2595.9 1917.5L2599.0 1916.2L2602.2 1915.0L2605.3 1913.8L2608.4 1912.6L2611.5 1911.4L2614.6 1910.1L2617.7 1908.9L2620.8 1907.7L2624.0 1906.5L2627.1 1905.3L2630.2 1904.0L2633.3 1902.8L2636.4 1901.6L2639.5 1900.4L2642.6 1899.2L2645.7 1897.9L2648.9 1896.7L2652.0 1895.5L2655.1 1894.3L2658.2 1893.1L2661.3 1891.8L2664.4 1890.6L2667.5 1889.4L2670.6 1888.2L2673.8 1887.0L2676.9 1885.7L2680.0 1884.5L2683.1 1883.3L2686.2 1882.1L2689.3 1880.9L2692.4 1879.6L2695.6 1878.4L2698.7 1877.2L2701.8 1876.0L2704.9 1874.8L2708.0 1873.5L2711.1 1872.3L2714.2 1871.1L2717.3 1869.9L2720.5 1868.7L2723.6 1867.4L2726.7 1866.2L2729.8 1865.0L2732.9 1863.8L2736.0 1862.6L2739.1 1861.3L2742.2 1860.1L2745.4 1858.9L2748.5 1857.7L2751.6 1856.5L2754.7 1855.2L2757.8 1854.0L2760.9 1852.8L2764.0 1851.6L2767.1 1850.4L2770.3 1849.1L2773.4 1847.9L2776.5 1846.7L2779.6 1845.5L2782.7 1844.3L2785.8 1843.0L2788.9 1841.8L2792.1 1840.6L2795.2 1839.4L2798.3 1838.2L2801.4 1836.9L2804.5 1835.7L2807.6 1834.5L2810.7 1833.3L2813.8 1832.1L2817.0 1830.8M2359.6 1065.9L2354.3 1097.1L2347.8 1128.2L2341.3 1157.5L2336.5 1185.1L2340.1 1219.0L2333.6 1252.4L2325.4 1284.0L2323.0 1316.8L2322.2 1353.7L2317.0 1389.8M2387.8 1072.7L2382.5 1105.8L2374.5 1136.2L2365.1 1163.7L2357.5 1183.2M2418.3 1077.6L2413.6 1112.3L2403.5 1146.3L2389.0 1175.3L2368.0 1198.4L2340.1 1219.0M2450.4 1080.7L2446.9 1115.9L2440.4 1160.1L2410.7 1194.1L2386.1 1218.7L2364.4 1232.4M2483.3 1081.7L2479.4 1115.2L2478.7 1149.2L2484.5 1170.9L2463.5 1195.5L2429.5 1218.7L2399.9 1242.5L2367.3 1263.5M2516.2 1080.7L2514.1 1112.3L2512.0 1146.3L2510.2 1176.7L2500.4 1206.4L2488.1 1232.4L2465.7 1260.6L2440.9 1287.9L2413.4 1319.7L2375.8 1356.6L2356.7 1406.5M2548.3 1077.6L2547.4 1110.2L2545.2 1146.3L2536.9 1176.7L2534.4 1215.8L2509.1 1244.7L2489.3 1273.4L2467.6 1303.1L2445.9 1339.9L2423.5 1381.9L2399.6 1424.9M2578.8 1072.7L2578.2 1110.9L2575.3 1149.2L2564.1 1176.3L2575.3 1197.3L2589.0 1228.1L2598.4 1267.1M2607.0 1065.9L2610.7 1110.9L2609.3 1163.3L2624.9 1206.1L2633.9 1249.0L2641.4 1290.7L2649.8 1332.8L2657.0 1374.7L2663.5 1417.4L2669.0 1461.1L2672.5 1507.9M2328.9 1089.2L2354.3 1097.1L2382.5 1105.8L2413.6 1112.3L2446.9 1115.9L2479.4 1115.2L2514.1 1112.3L2547.4 1110.2L2578.2 1110.9L2610.7 1110.9L2639.9 1101.8M2323.3 1120.9L2347.8 1128.2L2374.5 1136.2L2403.5 1146.3L2440.4 1160.1L2478.7 1149.2L2512.0 1146.3L2545.2 1146.3L2575.3 1149.2L2609.3 1163.3L2647.7 1146.0M2317.8 1152.6L2341.3 1157.5L2365.1 1163.7L2389.0 1175.3L2410.7 1194.1L2429.5 1218.7L2445.4 1242.5L2465.7 1260.6M2312.2 1184.3L2336.5 1185.1L2357.5 1183.2L2368.0 1198.4L2386.1 1218.7L2399.9 1242.5L2418.2 1267.0L2440.9 1287.9M2306.6 1215.9L2340.1 1219.0L2364.4 1232.4L2367.3 1263.5L2351.9 1287.9L2362.7 1313.9L2375.8 1356.6M2301.0 1247.6L2333.6 1252.4L2367.3 1263.5L2388.1 1292.2L2413.4 1319.7L2445.9 1339.9L2489.2 1349.7L2531.9 1343.9M2295.4 1279.3L2325.4 1284.0L2351.9 1287.9M2289.9 1311.0L2323.0 1316.8L2362.7 1313.9L2388.1 1292.2L2418.2 1267.0L2445.4 1242.5L2466.4 1223.7L2463.5 1195.5L2440.4 1160.1M2284.3 1342.7L2322.2 1353.7L2375.8 1356.6L2423.5 1381.9L2482.0 1397.4L2539.8 1375.7M2484.5 1170.9L2510.2 1176.7L2536.9 1176.7L2564.1 1176.3M2463.5 1195.5L2500.4 1206.4L2534.4 1215.8L2575.3 1197.3L2609.3 1163.3M2466.4 1223.7L2488.1 1232.4L2509.1 1244.7L2525.4 1260.6L2551.4 1249.8L2589.0 1228.1L2624.9 1206.1L2655.5 1190.2M2663.3 1234.5L2633.9 1249.0L2598.4 1267.1L2552.8 1291.1L2517.4 1284.6L2489.3 1273.4L2465.7 1260.6M2551.4 1249.8L2534.4 1215.8M2551.4 1249.8L2552.8 1291.1L2568.3 1324.7L2578.9 1358.4L2587.6 1391.9L2592.6 1424.9L2591.6 1461.4L2585.0 1496.1M2525.4 1260.6L2517.4 1284.6L2499.3 1315.7L2489.2 1349.7L2482.0 1397.4L2444.4 1444.0M2552.8 1291.1L2528.2 1317.1L2531.9 1343.9L2539.8 1375.7L2551.4 1404.7L2563.7 1427.8L2552.1 1451.7L2540.5 1482.0M2528.2 1317.1L2499.3 1315.7L2467.6 1303.1M2671.1 1278.7L2641.4 1290.7L2606.4 1306.3L2568.3 1324.7L2531.9 1343.9M2678.8 1322.9L2649.8 1332.8L2615.8 1345.1L2578.9 1358.4L2539.8 1375.7M2686.6 1367.2L2657.0 1374.7L2624.0 1383.0L2587.6 1391.9L2551.4 1404.7L2516.7 1430.4L2490.2 1462.9M2694.4 1411.4L2663.5 1417.4L2629.5 1420.6L2592.6 1424.9L2563.7 1427.8M2702.2 1455.7L2669.0 1461.1L2631.0 1462.1L2591.6 1461.4L2552.1 1451.7L2516.7 1430.4L2482.0 1397.4M2598.4 1267.1L2606.4 1306.3L2615.8 1345.1L2624.0 1383.0L2629.5 1420.6L2631.0 1462.1L2630.5 1505.9M2467.6 1303.1L2440.9 1287.9"/>
<path d="M1739.3 1585.8L2278.7 1374.3L2279.6 1369.1L2280.6 1363.8L2281.5 1358.5L2282.4 1353.2L2283.4 1347.9L2284.3 1342.7L2285.2 1337.4L2286.1 1332.1L2287.1 1326.8L2288.0 1321.5L2288.9 1316.3L2289.9 1311.0L2290.8 1305.7L2291.7 1300.4L2292.7 1295.1L2293.6 1289.9L2294.5 1284.6L2295.4 1279.3L2296.4 1274.0L2297.3 1268.7L2298.2 1263.5L2299.2 1258.2L2300.1 1252.9L2301.0 1247.6L2302.0 1242.3L2302.9 1237.1L2303.8 1231.8L2304.7 1226.5L2305.7 1221.2L2306.6 1215.9L2307.5 1210.7L2308.5 1205.4L2309.4 1200.1L2310.3 1194.8L2311.2 1189.5L2312.2 1184.3L2313.1 1179.0L2314.0 1173.7L2315.0 1168.4L2315.9 1163.1L2316.8 1157.8L2317.8 1152.6L2318.7 1147.3L2319.6 1142.0L2320.6 1136.7L2321.5 1131.4L2322.4 1126.2L2323.3 1120.9L2324.3 1115.6L2325.2 1110.3L2326.1 1105.0L2327.1 1099.8L2328.0 1094.5L2328.9 1089.2L2329.9 1083.9L2330.8 1078.6L2331.7 1073.4L2332.6 1068.1L2333.6 1062.8L2334.5 1057.5L2338.4 1059.0L2342.5 1060.5L2346.6 1061.9L2350.9 1063.3L2355.2 1064.6L2359.6 1065.9L2364.1 1067.2L2368.7 1068.4L2373.3 1069.5L2378.1 1070.6L2382.9 1071.7L2387.8 1072.7L2392.7 1073.6L2397.7 1074.5L2402.8 1075.4L2407.9 1076.2L2413.1 1076.9L2418.3 1077.6L2423.5 1078.3L2428.8 1078.9L2434.2 1079.4L2439.5 1079.9L2445.0 1080.3L2450.4 1080.7L2455.8 1081.0L2461.3 1081.2L2466.8 1081.4L2472.3 1081.6L2477.8 1081.6L2483.3 1081.7L2488.8 1081.6L2494.3 1081.6L2499.8 1081.4L2505.3 1081.2L2510.8 1081.0L2516.2 1080.7L2521.6 1080.3L2527.1 1079.9L2532.4 1079.4L2537.8 1078.9L2543.1 1078.3L2548.3 1077.6L2553.5 1076.9L2558.7 1076.2L2563.8 1075.4L2568.9 1074.5L2573.9 1073.6L2578.8 1072.7L2583.7 1071.7L2588.5 1070.6L2593.3 1069.5L2597.9 1068.4L2602.5 1067.2L2607.0 1065.9L2611.4 1064.6L2615.7 1063.3L2620.0 1061.9L2624.1 1060.5L2628.2 1059.0L2632.1 1057.5L2633.4 1064.9L2634.7 1072.3L2636.0 1079.6L2637.3 1087.0L2638.6 1094.4L2639.9 1101.8L2641.2 1109.1L2642.5 1116.5L2643.8 1123.9L2645.1 1131.2L2646.4 1138.6L2647.7 1146.0L2649.0 1153.4L2650.3 1160.7L2651.6 1168.1L2652.9 1175.5L2654.2 1182.9L2655.5 1190.2L2656.8 1197.6L2658.1 1205.0L2659.4 1212.3L2660.7 1219.7L2662.0 1227.1L2663.3 1234.5L2664.6 1241.8L2665.9 1249.2L2667.2 1256.6L2668.5 1264.0L2669.8 1271.3L2671.1 1278.7L2672.4 1286.1L2673.7 1293.4L2675.0 1300.8L2676.2 1308.2L2677.5 1315.6L2678.8 1322.9L2680.1 1330.3L2681.4 1337.7L2682.7 1345.1L2684.0 1352.4L2685.3 1359.8L2686.6 1367.2L2687.9 1374.6L2689.2 1381.9L2690.5 1389.3L2691.8 1396.7L2693.1 1404.0L2694.4 1411.4L2695.7 1418.8L2697.0 1426.2L2698.3 1433.5L2699.6 1440.9L2700.9 1448.3L2702.2 1455.7L2703.5 1463.0L2704.8 1470.4L2706.1 1477.8L2707.4 1485.1L2708.7 1492.5L2710.0 1499.9L2713.4 1505.4L2716.7 1510.9L2720.0 1516.5L2723.2 1522.1L2726.4 1527.7L2729.6 1533.4L2732.7 1539.1L2735.7 1544.9L2738.7 1550.7L2741.7 1556.6L2744.6 1562.4L2747.5 1568.3L2750.3 1574.3L2753.0 1580.2L2755.8 1586.2L2758.4 1592.3L2761.0 1598.3L2763.6 1604.4L2766.1 1610.5L2768.5 1616.6L2770.9 1622.8L2773.2 1629.0L2775.5 1635.2L2777.7 1641.4L2779.9 1647.6L2782.0 1653.9L2784.1 1660.1L2786.1 1666.4L2788.0 1672.7L2789.9 1679.0L2791.7 1685.3L2793.5 1691.6L2795.2 1698.0L2796.8 1704.3L2798.4 1710.7L2800.0 1717.0L2801.4 1723.4L2802.8 1729.7L2804.2 1736.1L2805.5 1742.5L2806.7 1748.8L2807.9 1755.2L2809.0 1761.5L2810.0 1767.9L2811.0 1774.2L2811.9 1780.5L2812.7 1786.9L2813.5 1793.2L2814.3 1799.5L2814.9 1805.8L2815.5 1812.1L2816.1 1818.3L2816.5 1824.6L2817.0 1830.8L2817.3 1837.0L2817.6 1843.2L2817.8 1849.4L2818.0 1855.6L2818.1 1861.7L2818.1 1867.8L2074.1 2159.4L2074.0 2147.8L2073.6 2136.1L2073.1 2124.3L2072.3 2112.5L2071.2 2100.5L2070.0 2088.6L2068.5 2076.6L2066.8 2064.6L2064.8 2052.5L2062.7 2040.4L2060.3 2028.4L2057.7 2016.3L2054.9 2004.2L2051.9 1992.1L2048.6 1980.1L2045.2 1968.1L2041.5 1956.2L2037.6 1944.3L2033.5 1932.4L2029.2 1920.6L2024.8 1908.9L2020.1 1897.3L2015.2 1885.7L2010.2 1874.3L2004.9 1863.0L1999.5 1851.7L1993.9 1840.6L1988.1 1829.7L1982.2 1818.8L1976.0 1808.1L1969.8 1797.6L1963.3 1787.2L1956.7 1777.0L1950.0 1766.9L1943.1 1757.1L1936.1 1747.4L1928.9 1737.9L1921.6 1728.6L1914.2 1719.5L1906.7 1710.6L1899.1 1702.0L1891.3 1693.6L1883.4 1685.4L1875.5 1677.4L1867.4 1669.7L1859.3 1662.2L1851.1 1654.9L1842.8 1648.0L1834.4 1641.2L1826.0 1634.8L1817.5 1628.6L1808.9 1622.7L1800.3 1617.1L1791.7 1611.7L1783.0 1606.7L1774.3 1601.9L1765.6 1597.4L1756.8 1593.2L1748.1 1589.3Z"/>
</g>
<g stroke="#000" stroke-width="4.2" fill="none">
<path d="M623.3 2474.0L2483.3 3203.0L4343.3 2474.0"/>
<path d="M623.3 2474.0l-46.5 -18.5"/>
<path d="M623.3 2228.2l-46.5 -18.5"/>
<path d="M623.3 1982.4l-46.5 -18.5"/>
<path d="M623.3 1736.6l-46.5 -18.5"/>
<path d="M623.3 1490.8l-46.5 -18.5"/>
<path d="M623.3 1245.0l-46.5 -18.5"/>
<path d="M623.3 999.2l-46.5 -18.5"/>
<path d="M623.3 2474.0l-46.5 19"/>
<path d="M1553.3 2838.5l-46.5 19"/>
<path d="M2483.3 3203.0l-46.5 19"/>
<path d="M4343.3 2474.0l46.5 19"/>
<path d="M3413.3 2838.5l46.5 19"/>
<path d="M2483.3 3203.0l46.5 19"/>
</g>
<g font-family="'Liberation Sans', Arial, sans-serif" font-size="83.33" fill="#000" letter-spacing="2">
<text x="551" y="2476.5" text-anchor="end">-30</text>
<text x="551" y="2230.7" text-anchor="end">-20</text>
<text x="551" y="1984.9" text-anchor="end">-10</text>
<text x="551" y="1739.1" text-anchor="end">0</text>
<text x="551" y="1493.3" text-anchor="end">10</text>
<text x="551" y="1247.5" text-anchor="end">20</text>
<text x="551" y="1001.7" text-anchor="end">30</text>
<text x="549.8" y="2578.5" text-anchor="end">-50</text>
<text x="1482.8" y="2943.0" text-anchor="end">0</text>
<text x="2412.8" y="3307.5" text-anchor="end">50</text>
<text x="4408.8" y="2578.5">-50</text>
<text x="3482.8" y="2943.0">0</text>
<text x="2552.8" y="3307.5">50</text>
<text class="cb" x="514.9" y="3521">-17488</text>
<text class="cb" x="958.0" y="3521">-12131.6</text>
<text class="cb" x="1437.2" y="3521">-6775.21</text>
<text class="cb" x="1917.3" y="3521">-1418.82</text>
<text class="cb" x="2429.9" y="3521">3937.56</text>
<text class="cb" x="2910.1" y="3521">9293.95</text>
<text class="cb" x="3394.2" y="3521">14650.3</text>
<text class="cb" x="3868.2" y="3521">20006.7</text>
<text class="cb" x="4348.2" y="3521">25363.1</text>
</g>
<g shape-rendering="crispEdges">
<rect x="241.60" y="3386.0" width="46.16" height="34.6" fill="#000085"/>
<rect x="287.26" y="3386.0" width="48.51" height="34.6" fill="#000090"/>
<rect x="335.26" y="3386.0" width="48.51" height="34.6" fill="#00009b"/>
<rect x="383.27" y="3386.0" width="48.51" height="34.6" fill="#0000a6"/>
<rect x="431.27" y="3386.0" width="48.51" height="34.6" fill="#0000b1"/>
<rect x="479.28" y="3386.0" width="48.51" height="34.6" fill="#0000bc"/>
<rect x="527.29" y="3386.0" width="48.51" height="34.6" fill="#0000c8"/>
<rect x="575.29" y="3386.0" width="48.51" height="34.6" fill="#0000d3"/>
<rect x="623.30" y="3386.0" width="48.51" height="34.6" fill="#0000de"/>
<rect x="671.30" y="3386.0" width="48.51" height="34.6" fill="#0000e9"/>
<rect x="719.31" y="3386.0" width="48.51" height="34.6" fill="#0000f4"/>
<rect x="767.32" y="3386.0" width="48.51" height="34.6" fill="#0000ff"/>
<rect x="815.32" y="3386.0" width="48.51" height="34.6" fill="#000bff"/>
<rect x="863.33" y="3386.0" width="48.51" height="34.6" fill="#0016ff"/>
<rect x="911.33" y="3386.0" width="48.51" height="34.6" fill="#0021ff"/>
<rect x="959.34" y="3386.0" width="48.51" height="34.6" fill="#002cff"/>
<rect x="1007.35" y="3386.0" width="48.51" height="34.6" fill="#0037ff"/>
<rect x="1055.35" y="3386.0" width="48.51" height="34.6" fill="#0043ff"/>
<rect x="1103.36" y="3386.0" width="48.51" height="34.6" fill="#004eff"/>
<rect x="1151.36" y="3386.0" width="48.51" height="34.6" fill="#0059ff"/>
<rect x="1199.37" y="3386.0" width="48.51" height="34.6" fill="#0064ff"/>
<rect x="1247.38" y="3386.0" width="48.51" height="34.6" fill="#006fff"/>
<rect x="1295.38" y="3386.0" width="48.51" height="34.6" fill="#007aff"/>
<rect x="1343.39" y="3386.0" width="48.51" height="34.6" fill="#0085ff"/>
<rect x="1391.39" y="3386.0" width="48.51" height="34.6" fill="#0090ff"/>
<rect x="1439.40" y="3386.0" width="48.51" height="34.6" fill="#009bff"/>
<rect x="1487.41" y="3386.0" width="48.51" height="34.6" fill="#00a6ff"/>
<rect x="1535.41" y="3386.0" width="48.51" height="34.6" fill="#00b1ff"/>
<rect x="1583.42" y="3386.0" width="48.51" height="34.6" fill="#00bcff"/>
<rect x="1631.42" y="3386.0" width="48.51" height="34.6" fill="#00c8ff"/>
<rect x="1679.43" y="3386.0" width="48.51" height="34.6" fill="#00d3ff"/>
<rect x="1727.44" y="3386.0" width="48.51" height="34.6" fill="#00deff"/>
<rect x="1775.44" y="3386.0" width="48.51" height="34.6" fill="#00e9ff"/>
<rect x="1823.45" y="3386.0" width="48.51" height="34.6" fill="#00f4ff"/>
<rect x="1871.45" y="3386.0" width="48.51" height="34.6" fill="#00ffff"/>
<rect x="1919.46" y="3386.0" width="48.51" height="34.6" fill="#0bfff4"/>
<rect x="1967.47" y="3386.0" width="48.51" height="34.6" fill="#16ffe9"/>
<rect x="2015.47" y="3386.0" width="48.51" height="34.6" fill="#21ffde"/>
<rect x="2063.48" y="3386.0" width="48.51" height="34.6" fill="#2cffd3"/>
<rect x="2111.48" y="3386.0" width="48.51" height="34.6" fill="#37ffc8"/>
<rect x="2159.49" y="3386.0" width="48.51" height="34.6" fill="#43ffbc"/>
<rect x="2207.50" y="3386.0" width="48.51" height="34.6" fill="#4effb1"/>
<rect x="2255.50" y="3386.0" width="48.51" height="34.6" fill="#59ffa6"/>
<rect x="2303.51" y="3386.0" width="48.51" height="34.6" fill="#64ff9b"/>
<rect x="2351.51" y="3386.0" width="48.51" height="34.6" fill="#6fff90"/>
<rect x="2399.52" y="3386.0" width="48.51" height="34.6" fill="#7aff85"/>
<rect x="2447.53" y="3386.0" width="48.51" height="34.6" fill="#85ff7a"/>
<rect x="2495.53" y="3386.0" width="48.51" height="34.6" fill="#90ff6f"/>
<rect x="2543.54" y="3386.0" width="48.51" height="34.6" fill="#9bff64"/>
<rect x="2591.54" y="3386.0" width="48.51" height="34.6" fill="#a6ff59"/>
<rect x="2639.55" y="3386.0" width="48.51" height="34.6" fill="#b1ff4e"/>
<rect x="2687.56" y="3386.0" width="48.51" height="34.6" fill="#bcff43"/>
<rect x="2735.56" y="3386.0" width="48.51" height="34.6" fill="#c8ff37"/>
<rect x="2783.57" y="3386.0" width="48.51" height="34.6" fill="#d3ff2c"/>
<rect x="2831.57" y="3386.0" width="48.51" height="34.6" fill="#deff21"/>
<rect x="2879.58" y="3386.0" width="48.51" height="34.6" fill="#e9ff16"/>
<rect x="2927.59" y="3386.0" width="48.51" height="34.6" fill="#f4ff0b"/>
<rect x="2975.59" y="3386.0" width="48.51" height="34.6" fill="#ffff00"/>
<rect x="3023.60" y="3386.0" width="48.51" height="34.6" fill="#fff400"/>
<rect x="3071.60" y="3386.0" width="48.51" height="34.6" fill="#ffe900"/>
<rect x="3119.61" y="3386.0" width="48.51" height="34.6" fill="#ffde00"/>
<rect x="3167.62" y="3386.0" width="48.51" height="34.6" fill="#ffd300"/>
<rect x="3215.62" y="3386.0" width="48.51" height="34.6" fill="#ffc800"/>
<rect x="3263.63" y="3386.0" width="48.51" height="34.6" fill="#ffbc00"/>
<rect x="3311.63" y="3386.0" width="48.51" height="34.6" fill="#ffb100"/>
<rect x="3359.64" y="3386.0" width="48.51" height="34.6" fill="#ffa600"/>
<rect x="3407.65" y="3386.0" width="48.51" height="34.6" fill="#ff9b00"/>
<rect x="3455.65" y="3386.0" width="48.51" height="34.6" fill="#ff9000"/>
<rect x="3503.66" y="3386.0" width="48.51" height="34.6" fill="#ff8500"/>
<rect x="3551.66" y="3386.0" width="48.51" height="34.6" fill="#ff7a00"/>
<rect x="3599.67" y="3386.0" width="48.51" height="34.6" fill="#ff6f00"/>
<rect x="3647.68" y="3386.0" width="48.51" height="34.6" fill="#ff6400"/>
<rect x="3695.68" y="3386.0" width="48.51" height="34.6" fill="#ff5900"/>
<rect x="3743.69" y="3386.0" width="48.51" height="34.6" fill="#ff4e00"/>
<rect x="3791.69" y="3386.0" width="48.51" height="34.6" fill="#ff4300"/>
<rect x="3839.70" y="3386.0" width="48.51" height="34.6" fill="#ff3700"/>
<rect x="3887.71" y="3386.0" width="48.51" height="34.6" fill="#ff2c00"/>
<rect x="3935.71" y="3386.0" width="48.51" height="34.6" fill="#ff2100"/>
<rect x="3983.72" y="3386.0" width="48.51" height="34.6" fill="#ff1600"/>
<rect x="4031.72" y="3386.0" width="48.51" height="34.6" fill="#ff0b00"/>
<rect x="4079.73" y="3386.0" width="48.51" height="34.6" fill="#ff0000"/>
<rect x="4127.74" y="3386.0" width="48.51" height="34.6" fill="#f40000"/>
<rect x="4175.74" y="3386.0" width="48.51" height="34.6" fill="#e90000"/>
<rect x="4223.75" y="3386.0" width="48.51" height="34.6" fill="#de0000"/>
<rect x="4271.75" y="3386.0" width="48.51" height="34.6" fill="#d30000"/>
<rect x="4319.76" y="3386.0" width="48.51" height="34.6" fill="#c80000"/>
<rect x="4367.77" y="3386.0" width="48.51" height="34.6" fill="#bc0000"/>
<rect x="4415.77" y="3386.0" width="48.51" height="34.6" fill="#b10000"/>
<rect x="4463.78" y="3386.0" width="48.51" height="34.6" fill="#a60000"/>
<rect x="4511.78" y="3386.0" width="48.42" height="34.6" fill="#9b0000"/>
<path d="M287.3 3386.0V3420.6M335.3 3386.0V3420.6M383.3 3386.0V3420.6M431.3 3386.0V3420.6M479.3 3386.0V3420.6M527.3 3386.0V3420.6M575.3 3386.0V3420.6M623.3 3386.0V3420.6M671.3 3386.0V3420.6M719.3 3386.0V3420.6M767.3 3386.0V3420.6M815.3 3386.0V3420.6M863.3 3386.0V3420.6M911.3 3386.0V3420.6M959.3 3386.0V3420.6M1007.3 3386.0V3420.6M1055.4 3386.0V3420.6M1103.4 3386.0V3420.6M1151.4 3386.0V3420.6M1199.4 3386.0V3420.6M1247.4 3386.0V3420.6M1295.4 3386.0V3420.6M1343.4 3386.0V3420.6M1391.4 3386.0V3420.6M1439.4 3386.0V3420.6M1487.4 3386.0V3420.6M1535.4 3386.0V3420.6M1583.4 3386.0V3420.6M1631.4 3386.0V3420.6M1679.4 3386.0V3420.6M1727.4 3386.0V3420.6M1775.4 3386.0V3420.6M1823.4 3386.0V3420.6M1871.5 3386.0V3420.6M1919.5 3386.0V3420.6M1967.5 3386.0V3420.6M2015.5 3386.0V3420.6M2063.5 3386.0V3420.6M2111.5 3386.0V3420.6M2159.5 3386.0V3420.6M2207.5 3386.0V3420.6M2255.5 3386.0V3420.6M2303.5 3386.0V3420.6M2351.5 3386.0V3420.6M2399.5 3386.0V3420.6M2447.5 3386.0V3420.6M2495.5 3386.0V3420.6M2543.5 3386.0V3420.6M2591.5 3386.0V3420.6M2639.6 3386.0V3420.6M2687.6 3386.0V3420.6M2735.6 3386.0V3420.6M2783.6 3386.0V3420.6M2831.6 3386.0V3420.6M2879.6 3386.0V3420.6M2927.6 3386.0V3420.6M2975.6 3386.0V3420.6M3023.6 3386.0V3420.6M3071.6 3386.0V3420.6M3119.6 3386.0V3420.6M3167.6 3386.0V3420.6M3215.6 3386.0V3420.6M3263.6 3386.0V3420.6M3311.6 3386.0V3420.6M3359.6 3386.0V3420.6M3407.6 3386.0V3420.6M3455.7 3386.0V3420.6M3503.7 3386.0V3420.6M3551.7 3386.0V3420.6M3599.7 3386.0V3420.6M3647.7 3386.0V3420.6M3695.7 3386.0V3420.6M3743.7 3386.0V3420.6M3791.7 3386.0V3420.6M3839.7 3386.0V3420.6M3887.7 3386.0V3420.6M3935.7 3386.0V3420.6M3983.7 3386.0V3420.6M4031.7 3386.0V3420.6M4079.7 3386.0V3420.6M4127.7 3386.0V3420.6M4175.7 3386.0V3420.6M4223.7 3386.0V3420.6M4271.8 3386.0V3420.6M4319.8 3386.0V3420.6M4367.8 3386.0V3420.6M4415.8 3386.0V3420.6M4463.8 3386.0V3420.6M4511.8 3386.0V3420.6" stroke="#000" stroke-width="3.8" fill="none"/>
<rect x="241.6" y="3386.0" width="4318.6" height="34.6" fill="none" stroke="#000" stroke-width="4.2"/>
<path d="M671.3 3377V3428M1151.4 3377V3428M1631.4 3377V3428M2111.5 3377V3428M2591.5 3377V3428M3071.6 3377V3428M3551.7 3377V3428M4031.7 3377V3428M4511.8 3377V3428" stroke="#000" stroke-width="4.2" fill="none"/>
</g>
<g fill="#000">
<text x="1698.4" y="155.5" font-family="'Liberation Sans', Arial, sans-serif" font-size="83.33" letter-spacing="1.58">Stress</text>
<text x="1971.5" y="155.5" font-family="'DejaVu Serif', 'Liberation Serif', serif" font-size="80" letter-spacing="0.0">σ</text>
<text x="2029.1" y="191.0" font-family="'Liberation Sans', Arial, sans-serif" font-size="65" letter-spacing="0.0">M</text>
<text x="2079.0" y="155.5" font-family="'Liberation Sans', Arial, sans-serif" font-size="83.33" letter-spacing="1.2">ax</text>
<text x="2165.9" y="191.0" font-family="'Liberation Sans', Arial, sans-serif" font-size="65" letter-spacing="0.0">I</text>
<text x="2180.4" y="155.5" font-family="'Liberation Sans', Arial, sans-serif" font-size="83.33" letter-spacing="0.0">n</text>
<text x="2230.1" y="191.0" font-family="'Liberation Sans', Arial, sans-serif" font-size="65" letter-spacing="0.0">p</text>
<text x="2266.8" y="155.5" font-family="'Liberation Sans', Arial, sans-serif" font-size="83.33" letter-spacing="2.4">lane</text>
<text x="2452.8" y="157.5" font-family="'Liberation Sans', Arial, sans-serif" font-size="92" letter-spacing="0.0">@</text>
<text x="2566.4" y="155.5" font-family="'Liberation Sans', Arial, sans-serif" font-size="83.33" letter-spacing="1.1">Shell</text>
<text x="2782.7" y="155.5" font-family="'Liberation Sans', Arial, sans-serif" font-size="83.33" letter-spacing="0.25">Mid</text>
<text x="2943.8" y="155.5" font-family="'Liberation Sans', Arial, sans-serif" font-size="83.33" letter-spacing="1.92">Surface</text>
</g>
</svg></body></html>
